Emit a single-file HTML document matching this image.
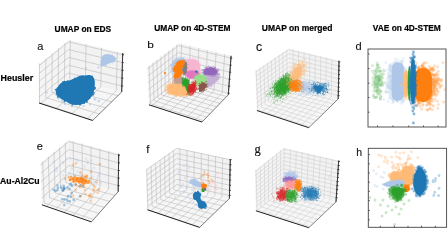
<!DOCTYPE html>
<html><head><meta charset="utf-8"><style>
html,body{margin:0;padding:0;background:#fff;}
svg{display:block;}
.t{font-family:"Liberation Sans",Arial,sans-serif;font-weight:bold;font-size:8.6px;fill:#000;stroke:#000;stroke-width:0.2px;}
.l{font-family:"Liberation Sans",Arial,sans-serif;font-size:11px;fill:#111;stroke:#111;stroke-width:0.12px;}
</style></head><body>
<svg width="448" height="252" viewBox="0 0 448 252">
<rect width="448" height="252" fill="#fff"/>
<polygon points="39,64 68.7,40 68.2,79 39,103" fill="#f4f4f4"/>
<polygon points="68.7,40 122.7,53 121.7,92 68.2,79" fill="#f2f2f2"/>
<polygon points="39,103 68.2,79 121.7,92 92.6,120.5" fill="#f6f6f6"/>
<g stroke="#b4b4b4" stroke-width="0.55"><line x1="39.4" y1="63.6" x2="39.4" y2="102.6"/><line x1="39.4" y1="102.6" x2="93" y2="120.1"/><line x1="45.8" y1="58.5" x2="45.7" y2="97.5"/><line x1="45.7" y1="97.5" x2="99.3" y2="114"/><line x1="52.2" y1="53.4" x2="51.9" y2="92.4"/><line x1="51.9" y1="92.4" x2="105.5" y2="107.9"/><line x1="58.5" y1="48.2" x2="58.2" y2="87.2"/><line x1="58.2" y1="87.2" x2="111.7" y2="101.8"/><line x1="64.9" y1="43.1" x2="64.4" y2="82.1"/><line x1="64.4" y1="82.1" x2="117.9" y2="95.7"/><line x1="70.3" y1="40.4" x2="69.8" y2="79.4"/><line x1="69.8" y1="79.4" x2="40.6" y2="103.5"/><line x1="86" y1="44.2" x2="85.3" y2="83.2"/><line x1="85.3" y1="83.2" x2="56.2" y2="108.6"/><line x1="101.6" y1="47.9" x2="100.8" y2="86.9"/><line x1="100.8" y1="86.9" x2="71.7" y2="113.7"/><line x1="117.3" y1="51.7" x2="116.3" y2="90.7"/><line x1="116.3" y1="90.7" x2="87.2" y2="118.8"/><line x1="39" y1="65.8" x2="68.7" y2="41.8"/><line x1="68.7" y1="41.8" x2="122.7" y2="54.8"/><line x1="39" y1="73.6" x2="68.6" y2="49.6"/><line x1="68.6" y1="49.6" x2="122.5" y2="62.6"/><line x1="39" y1="81.4" x2="68.5" y2="57.4"/><line x1="68.5" y1="57.4" x2="122.3" y2="70.4"/><line x1="39" y1="89.2" x2="68.4" y2="65.2"/><line x1="68.4" y1="65.2" x2="122.1" y2="78.2"/><line x1="39" y1="97" x2="68.3" y2="73"/><line x1="68.3" y1="73" x2="121.9" y2="86"/></g>
<polyline points="92.6,120.5 121.7,92 122.7,53" fill="none" stroke="#555" stroke-width="0.75"/>
<polyline points="121.7,92 122.7,53" fill="none" stroke="#333" stroke-width="0.9"/>
<polyline points="39,103 92.6,120.5" fill="none" stroke="#222" stroke-width="1"/>
<g stroke="#333" stroke-width="0.9"><line x1="122" y1="54.8" x2="124" y2="54.8"/><line x1="121.8" y1="62.6" x2="123.8" y2="62.6"/><line x1="121.6" y1="70.4" x2="123.6" y2="70.4"/><line x1="121.4" y1="78.2" x2="123.4" y2="78.2"/><line x1="121.2" y1="86" x2="123.2" y2="86"/></g>
<path d="M101 59.5C101.3 58.5 101.6 57.1 102.2 56.3C102.8 55.5 103.5 55.1 104.5 54.8C105.5 54.5 106.8 54.3 108 54.3C109.2 54.3 110.8 54.5 112 55C113.2 55.5 114.4 56.2 115 57C115.6 57.8 115.8 58.8 115.7 59.5C115.6 60.2 115.3 61 114.5 61.5C113.7 62 112.2 62.3 111 62.8C109.8 63.3 108.2 63.8 107 64.3C105.8 64.8 104.5 65.8 103.5 66C102.5 66.2 101.7 66.1 101.2 65.5C100.7 64.9 100.6 63.5 100.6 62.5C100.6 61.5 100.7 60.5 101 59.5Z" fill="#aec7e8"/>
<path d="M106.7 64.7h0M101 60.8h0M115.3 58.9h0M114.2 61.7h0M101.8 65.9h0M112.3 55h0M105.4 65.5h0M112.3 62.8h0M113.6 61.4h0M108.6 55h0M114.2 60.6h0M113.3 56.9h0M108.9 54.8h0" stroke="#aec7e8" stroke-width="1.6" stroke-linecap="round" stroke-opacity="0.6"/>
<path d="M100.7 66h0M101.5 62.8h0M114.9 58.3h0M105.2 64.8h0M102 59.1h0M103.8 56.1h0M114.7 60.2h0M107.5 54.5h0M105.7 55.1h0M116 58.6h0M105 55h0M101.7 64h0" stroke="#aec7e8" stroke-width="1.6" stroke-linecap="round" stroke-opacity="0.6"/>
<path d="M46.9 92.4h0M55.9 94.4h0M58.3 98.4h0M58.6 98.3h0M62 101h0M83.6 106h0M95.5 99.5h0M98.5 101.3h0M94.3 99h0M99 100.7h0M98.3 67.4h0M86 68h0M65 104h0M72 106.5h0M90 104.5h0" stroke="#aec7e8" stroke-width="2" stroke-linecap="round" stroke-opacity="0.8"/>
<path d="M56 90.6C56.4 89.3 57.7 87.3 58.5 86C59.3 84.7 59.9 83.7 61 82.9C62.1 82.1 63.6 81.6 65 81.2C66.4 80.8 67.6 81 69.3 80.5C71 80 73.4 78.9 75.2 78.1C77 77.3 78.4 76.1 80 75.7C81.6 75.3 83.2 75.6 84.8 75.5C86.4 75.4 88.1 74.9 89.5 75.1C90.9 75.3 92.2 76 93.1 76.9C94 77.8 94.4 79.2 94.7 80.5C95 81.8 94.9 83.4 94.8 85C94.7 86.6 94.5 88.5 94.2 90C93.9 91.5 93.3 92.8 92.8 94C92.3 95.2 92 95.9 91.2 97C90.4 98.1 89.1 99.5 88 100.5C86.9 101.5 86.1 102.3 84.8 103C83.5 103.7 81.6 104.2 80 104.5C78.4 104.8 76.9 105 75.2 104.9C73.5 104.8 71.4 104.3 70 103.8C68.6 103.3 68.2 102.6 66.9 101.9C65.6 101.2 63.5 100.4 62 99.5C60.5 98.6 59 97.5 58 96.5C57 95.5 56.5 94.5 56.2 93.5C55.9 92.5 55.6 91.8 56 90.6Z" fill="#1f77b4"/>
<path d="M57.3 91.6h0M94.9 87.6h0M59.3 89h0M72.3 104.5h0M88.2 77.4h0M83.9 100.8h0M93.6 94.1h0M73.3 102.7h0M67.9 81.1h0M71.2 102.7h0M59 87h0M64.5 101.6h0M64.3 81.6h0M93.4 86.1h0M92.9 94.9h0M92.1 76.4h0M57.5 90.2h0M79.9 104.5h0M80.7 103.9h0M57.7 96.9h0M95.3 88h0M55.6 89.6h0M57.6 88.2h0" stroke="#1f77b4" stroke-width="1.8" stroke-linecap="round" stroke-opacity="0.9"/>
<path d="M92.4 91.5h0M63 81.9h0M58.5 95.4h0M87 102h0M81.2 76.8h0M74.7 78.5h0M78.9 104.2h0M94.4 88.9h0M72.6 103.1h0M71.6 103h0M75.5 78.8h0M57 94.5h0M56.9 89.2h0M82.4 76.3h0M73.3 102.7h0M64.9 100.6h0M93.8 92.6h0M86.3 101.3h0M73.2 103h0M89.6 98h0M91.1 94.6h0M84.1 103.2h0M59.7 94h0" stroke="#1f77b4" stroke-width="1.8" stroke-linecap="round" stroke-opacity="0.9"/>
<polygon points="147.4,66.9 178.7,43.3 178.1,81.8 148.9,104.8" fill="#f4f4f4"/>
<polygon points="178.7,43.3 231.1,55.8 228.3,94.8 178.1,81.8" fill="#f2f2f2"/>
<polygon points="148.9,104.8 178.1,81.8 228.3,94.8 202,122" fill="#f6f6f6"/>
<g stroke="#b6b6b6" stroke-width="0.55"><line x1="149" y1="65.7" x2="150.4" y2="103.6"/><line x1="150.4" y1="103.6" x2="203.3" y2="120.6"/><line x1="152.9" y1="62.7" x2="154.1" y2="100.7"/><line x1="154.1" y1="100.7" x2="206.7" y2="117.2"/><line x1="156.9" y1="59.7" x2="157.8" y2="97.8"/><line x1="157.8" y1="97.8" x2="210" y2="113.7"/><line x1="160.9" y1="56.7" x2="161.5" y2="94.9"/><line x1="161.5" y1="94.9" x2="213.3" y2="110.3"/><line x1="164.9" y1="53.7" x2="165.2" y2="91.9"/><line x1="165.2" y1="91.9" x2="216.7" y2="106.8"/><line x1="168.8" y1="50.7" x2="168.9" y2="89"/><line x1="168.9" y1="89" x2="220" y2="103.4"/><line x1="172.8" y1="47.7" x2="172.6" y2="86.1"/><line x1="172.6" y1="86.1" x2="223.4" y2="99.9"/><line x1="176.8" y1="44.7" x2="176.3" y2="83.2"/><line x1="176.3" y1="83.2" x2="226.7" y2="96.5"/><line x1="181.5" y1="44" x2="180.7" y2="82.4"/><line x1="180.7" y1="82.4" x2="151.7" y2="105.7"/><line x1="190.1" y1="46" x2="189" y2="84.6"/><line x1="189" y1="84.6" x2="160.5" y2="108.5"/><line x1="198.8" y1="48.1" x2="197.3" y2="86.7"/><line x1="197.3" y1="86.7" x2="169.2" y2="111.4"/><line x1="207.4" y1="50.1" x2="205.6" y2="88.9"/><line x1="205.6" y1="88.9" x2="178" y2="114.2"/><line x1="216.1" y1="52.2" x2="213.9" y2="91.1"/><line x1="213.9" y1="91.1" x2="186.8" y2="117.1"/><line x1="224.7" y1="54.3" x2="222.2" y2="93.2"/><line x1="222.2" y1="93.2" x2="195.5" y2="119.9"/><line x1="147.5" y1="69.2" x2="178.7" y2="45.6"/><line x1="178.7" y1="45.6" x2="230.9" y2="58.1"/><line x1="147.8" y1="76" x2="178.5" y2="52.5"/><line x1="178.5" y1="52.5" x2="230.4" y2="65.2"/><line x1="148" y1="82.8" x2="178.4" y2="59.4"/><line x1="178.4" y1="59.4" x2="229.9" y2="72.2"/><line x1="148.3" y1="89.6" x2="178.3" y2="66.4"/><line x1="178.3" y1="66.4" x2="229.4" y2="79.2"/><line x1="148.6" y1="96.5" x2="178.2" y2="73.3"/><line x1="178.2" y1="73.3" x2="228.9" y2="86.2"/><line x1="148.8" y1="103.3" x2="178.1" y2="80.2"/><line x1="178.1" y1="80.2" x2="228.4" y2="93.2"/></g>
<polyline points="202,122 228.3,94.8 231.1,55.8" fill="none" stroke="#555" stroke-width="0.75"/>
<polyline points="228.3,94.8 231.1,55.8" fill="none" stroke="#333" stroke-width="0.9"/>
<polyline points="148.9,104.8 202,122" fill="none" stroke="#222" stroke-width="1"/>
<g stroke="#333" stroke-width="0.9"><line x1="230.2" y1="58.1" x2="232.2" y2="58.1"/><line x1="229.7" y1="65.2" x2="231.7" y2="65.2"/><line x1="229.2" y1="72.2" x2="231.2" y2="72.2"/><line x1="228.7" y1="79.2" x2="230.7" y2="79.2"/><line x1="228.2" y1="86.2" x2="230.2" y2="86.2"/><line x1="227.7" y1="93.2" x2="229.7" y2="93.2"/></g>
<path d="M171.9 65.9C172 64.5 172 62.8 172.6 61.7C173.2 60.5 174.4 59.7 175.6 59.1C176.8 58.5 178.4 58.3 179.8 58.3C181.2 58.2 183 58.3 184.1 58.7C185.1 59.1 185.7 59.5 185.9 60.8C186.2 62.1 186.1 65.1 185.8 66.8C185.5 68.5 185.1 69.9 184.1 71C183.1 72.1 181.4 72.8 179.8 73.2C178.3 73.6 176 73.7 174.7 73.2C173.4 72.7 172.6 71.4 172.2 70.2C171.7 68.9 171.8 67.3 171.9 65.9Z" fill="#aec7e8" fill-opacity="0.85"/>
<path d="M172.8 62.3h0M175.3 64h0M175.3 60.5h0M175.1 72.6h0M178.9 60.5h0M179.7 63.5h0M178.4 68.5h0M187.3 66.5h0M176.7 62.8h0M183.8 63.1h0M177 63.5h0M184.3 61.1h0M186.4 66.4h0M185.2 64.2h0M174.8 66.9h0M182.1 69.5h0M181.3 63.4h0M175.3 64.1h0M179.3 68.7h0M175.7 65.4h0M173.6 69.9h0M185.7 59.6h0M176.5 65.2h0M184.3 67.7h0M182.7 69.7h0M176 68.4h0M177.3 70.3h0M172 66.2h0M177.1 74.5h0M183.3 58.1h0M182.2 58.9h0M183 60.9h0M181.1 69.6h0M179.9 59.3h0M174.2 62.3h0M183.8 57.4h0M185 62.1h0M184.5 69.7h0M181.2 68h0M172.7 64.6h0M176.4 63.7h0M170.9 70h0M186.1 65.9h0M178.8 68.1h0M175.5 58.3h0M175.3 73h0M172 68.5h0M174.2 63.9h0M179.9 70.9h0M178.4 62.4h0M176.4 61.6h0M172.8 65.2h0M182 70.6h0M175.2 69.1h0M171.2 68.7h0M175.4 73.4h0M182.2 64.6h0M177.4 70.2h0M177.5 71.2h0M173.3 67.9h0M179.3 61h0M183.4 60.3h0M171.2 65.1h0M172.1 73.3h0M176 60.7h0M179.2 62.4h0M182.2 68.7h0M184.3 62.6h0M178.1 62.2h0M179.8 69.3h0M171.3 65.3h0M172.8 70.2h0M177.4 69.1h0M171.3 68.8h0M181.8 68.1h0M177.4 67.6h0M182.9 64.6h0M173.5 64.1h0M175.9 62h0M178.9 57.4h0M181.3 71.4h0M183.7 60.8h0M176 63.8h0M179.3 73.4h0M176.4 60.1h0M178.5 69.1h0M175.5 64.9h0M186.3 63.3h0M177.3 71h0M176.8 64.5h0M169.7 69.5h0M182.9 71.6h0M175.3 73.7h0M176.6 68.2h0M174.8 60.9h0M181.6 57.2h0M180.4 60.7h0M186.6 63.7h0M180.4 62.2h0M181.4 66.5h0M172.1 69.8h0M182.7 60.6h0M177.2 65.1h0M170.7 71.8h0M176.3 71.4h0M186 60.2h0M182.8 74h0M171.1 66.6h0M180.6 69.2h0M174.3 66.2h0" stroke="#aec7e8" stroke-width="1.2" stroke-linecap="round" stroke-opacity="0.5"/>
<path d="M171.9 63.2h0M179.1 73.3h0M177.1 73.6h0M175.7 73.2h0M172.3 62.1h0M186.4 62.3h0M173.6 61.4h0M183.8 62.5h0M176.9 62.6h0M180.9 62.8h0M171 70.5h0M184 58.9h0M178.8 68.9h0M187.2 59h0M171 69h0M179.4 64.2h0M182.4 60.5h0M176.1 73.1h0M173.9 60h0M176.6 59.9h0M178.4 73.8h0M182.1 60.6h0M186.1 58.5h0M178.3 70.9h0M176.4 60.1h0M171.5 65h0M188 60.4h0M174.4 67.9h0M171.9 68.8h0M178.3 63.9h0M183.9 64.3h0M186.4 62.5h0M180.4 60h0M179.5 65.8h0M175.5 67.9h0M176.5 69.4h0M183.2 59.7h0M182.7 60.3h0M184 61.5h0M175.3 62.8h0M172.6 68.9h0M184.4 64.2h0M175.8 61.7h0M170.8 70.1h0M175.9 70.8h0M176 67h0M182.4 72.7h0M181.4 63.4h0M175.5 62.2h0M187.7 68h0M173.3 66h0M178.3 57.7h0M172.7 63.8h0M184.8 67h0M173.8 62.7h0M172.3 65.2h0M186.6 63.1h0M179.8 57.4h0M178.6 66.8h0M176.7 61.3h0M178.9 60.1h0M181.5 66.4h0M177.8 62.4h0M187.7 62.6h0M181.9 59.4h0M176.5 73.2h0M177.3 63.8h0M178.5 67.3h0M173 61.7h0M173.7 63.2h0M182.1 70.2h0M176.4 58.7h0M174.6 70.5h0M177 62.1h0M175.3 61.1h0M184.2 57.4h0M174 65.5h0M184.7 70.4h0M171.8 70.4h0M177 69.6h0M177.1 73.6h0M180.6 70.4h0M185.9 65.2h0M174.2 70.5h0M178.8 73.4h0M186.1 65.4h0M185.9 66.3h0M183.5 64.1h0M187.2 66.1h0M181.9 61.5h0M187.7 61.4h0M182.8 62h0M178.8 67.8h0M187.6 61h0M182.6 58.1h0M184.5 72.4h0M177.1 60h0M171.2 71.9h0M170.6 65.1h0M175.3 67.9h0M171.6 67.4h0M178.2 70.1h0M184.8 69.5h0M180.7 69.4h0M174.5 73.3h0M185.5 62.8h0M177.2 60.4h0M170.5 64.4h0M175.2 60.3h0M174.3 68.9h0" stroke="#aec7e8" stroke-width="1.2" stroke-linecap="round" stroke-opacity="0.5"/>
<path d="M176.1 64.5h0M182.4 68.1h0M183.9 63.6h0M171.2 66.1h0M186.5 68.3h0M181.3 59.4h0M179.3 64.3h0M179.8 63.2h0M180 67h0M182.2 69.2h0M183.1 60h0M175.1 64h0M177.4 59.7h0M184.3 70.4h0M171 64.1h0M172.6 65h0M177.4 71h0M181.8 58.4h0M172.5 72.6h0M180.3 58h0M180.7 65.1h0M186.3 69.2h0M179.8 60.6h0M172.7 63.7h0M171.1 60.5h0M185.2 60h0M180.4 62.6h0M175.5 72.9h0M175 66.1h0M179 71.5h0M188.1 61.3h0M178.6 65.7h0M176.9 58h0M184.9 62.8h0M187 68.2h0M178.7 70.6h0M174.8 73.1h0M180.9 57.8h0M174.5 58.3h0M180.7 66h0M176 74.8h0M175.8 57.4h0M182.4 66h0M183.1 69.4h0M178.9 65.7h0M176.1 60.3h0M172.7 68.3h0M171.4 66.9h0M176.1 66.1h0M178.1 60.2h0M184.8 69.5h0M177.8 59.1h0M184.3 65h0M183.5 64.6h0M182.9 73.6h0M181.8 72.3h0M178.4 61.3h0M180.7 66.4h0M181.9 65.2h0M179.2 67h0M176 68.9h0M179 62.9h0M177 70.9h0M174.5 68.1h0M185 66.2h0M180.8 65.8h0M178.3 62.1h0M176.4 62.4h0M175.5 68.7h0M185.2 70.4h0M183.7 61.5h0M178.8 71.1h0M184.9 65.8h0M174.5 68.7h0M180.6 67.5h0M179.6 57h0M181.4 68.6h0M184.6 60.3h0M181.5 65.3h0M181.7 64.1h0M175 66.1h0M183.8 57.6h0M182.1 70.9h0M180.2 67.7h0M181.2 62.2h0M174.4 73.5h0M174 68.1h0M180.7 66.4h0M173.3 72.9h0M173.6 64.5h0M177.5 61.7h0M182.1 71.7h0M171.1 64.4h0M177.1 62.6h0M176.7 66.9h0M177.4 73.3h0M180.7 69.7h0M176.5 59h0M174.9 70.3h0M184.5 66h0M172.4 61.2h0M186.3 65.4h0M177.4 71.7h0M180.7 68h0M180.3 69h0M172.3 70.9h0M183.6 71.2h0M173.9 73.6h0M180.9 61.1h0M181.4 73.6h0" stroke="#aec7e8" stroke-width="1.2" stroke-linecap="round" stroke-opacity="0.5"/>
<path d="M186.5 60.8C187.1 58.2 189 59.7 190.4 59.5C191.8 59.3 193.6 59.4 194.9 59.8C196.3 60.1 197.7 60.8 198.5 61.7C199.3 62.7 199.4 64 199.7 65.3C200 66.7 200.3 68.3 200.3 69.8C200.4 71.3 200.5 73 199.9 74.3C199.3 75.7 198.3 77.2 196.7 77.9C195.2 78.7 192.2 79.3 190.4 78.8C188.7 78.4 187.1 78.2 186.5 75.2C185.8 72.2 185.8 63.5 186.5 60.8Z" fill="#f7b6d2"/>
<path d="M196.2 74.4h0M189.3 78.1h0M195.6 67.2h0M187.8 69.2h0M185.4 69.2h0M190.2 78.1h0M196.8 79.5h0M191.2 60.6h0M195.7 64.8h0M194.8 61.5h0M185.2 73.1h0M190 69.9h0M193.4 78.1h0M199.4 62.6h0M193.4 78.7h0M194.5 59.4h0M198.9 66.3h0M185.4 61.4h0M196.3 72.3h0M187.8 67.5h0M195.5 70.7h0M193.9 72.4h0M197.1 70.5h0M191.9 60.3h0M194.3 67.9h0M191.6 76.6h0M197.3 61.1h0M189.7 64.7h0M196.5 70.4h0M194.8 71.9h0M187.9 76.4h0M198.4 67.6h0M200.2 72.6h0M190.2 59.5h0M190.3 77.3h0M194.8 65.2h0M192.9 71.6h0M195.6 69.8h0M191.5 64.5h0M192.9 60.2h0M190.3 66.2h0M187.1 66.3h0M190.5 61.9h0M190 75.5h0M187.6 67h0M201.5 70.2h0M193.9 64.1h0M194.5 65.1h0M195.2 72.8h0M195.6 59.9h0M186.8 68.8h0M196.3 67.3h0M200.6 69.7h0M196.9 71.1h0M190.2 62.6h0M198.9 67.8h0M186.7 65.3h0M195.7 64.8h0M197.5 62.2h0M191.1 68.5h0M198.1 64.7h0M199.5 67.9h0M188.8 66h0M191.5 76h0M192.2 61.7h0M197.8 61.6h0M197.7 60.7h0M197.9 62.5h0M189.8 65.2h0M186.1 66h0M191.8 67.6h0M198.2 74.3h0M194.5 76.3h0M189.7 77.8h0M198.3 72.1h0M197.2 75.1h0M199.5 66.6h0M186.2 70.5h0M188.3 69.5h0M196.5 75.1h0M194.4 74.7h0M189.8 73.6h0M186.6 65.2h0M194.3 67.3h0M189.7 76.8h0M187 58.7h0M196.6 67.4h0M185.9 73.1h0M193.2 63.5h0M186.1 66.6h0M192 63.9h0M194.7 72.1h0M190.7 73.9h0M195.5 72.3h0M188 62.6h0M185.1 62.7h0M188.8 73.7h0M190.2 68.4h0M191.9 70.8h0M192.1 75.8h0M198.4 70.1h0M191.1 79.1h0M187.6 66h0M194.4 75.2h0M195.6 68.5h0M184.8 67.9h0M196.1 58.4h0M191.8 73.1h0M192.3 77.2h0M195.2 64.7h0" stroke="#f7b6d2" stroke-width="1.2" stroke-linecap="round" stroke-opacity="0.6"/>
<path d="M192.7 58.2h0M188.2 72.2h0M198.5 71.8h0M188.7 66.6h0M192.3 61.1h0M193.1 77.4h0M189.5 76.4h0M187 70.5h0M200.2 65.2h0M185.8 65.2h0M192.5 58.8h0M198.5 66.4h0M186.2 65.4h0M192.9 74.4h0M188.1 67.6h0M199.1 74h0M189.8 71.4h0M192.1 77.2h0M192 75.3h0M200.1 64.7h0M188 77.6h0M197.3 67.1h0M199.9 70.5h0M189.8 61.9h0M197.6 64.2h0M198.3 59.3h0M187.7 61.8h0M191.6 59.3h0M196.8 79.2h0M188.8 73.9h0M195.2 60.1h0M190.2 78.9h0M188.8 71.9h0M194.5 75.9h0M189.2 71.2h0M189.1 59.8h0M196.7 75h0M199.3 66h0M186.3 73.8h0M199.8 65.5h0M195.7 65.5h0M191.1 65.4h0M191 65.9h0M187.1 70.3h0M188.9 75.5h0M198 62.9h0M192.7 71.1h0M193.1 65.8h0M194.7 69.8h0M192.3 75.1h0M199.8 73.8h0M199.6 70.6h0M190.5 68.4h0M193.2 57.4h0M191 57.9h0M189.2 80.2h0M197.9 63.4h0M186.5 72.5h0M191 62.3h0M197.7 62.5h0M192.8 70.4h0M188 72.2h0M186.7 60.2h0M187.5 75.1h0M197.5 75.5h0M193.1 63.3h0M192.4 76.4h0M193.5 64.4h0M193.4 65.1h0M199.9 65.9h0M197.2 74.9h0M186.6 68h0M196 79.1h0M197.5 74.9h0M188.4 77.3h0M191.3 62.3h0M192.8 67.5h0M190.1 77.4h0M194.9 69.5h0M197.8 76.5h0M195 63.2h0M197.1 76.3h0M185.3 75.9h0M190.1 73.3h0M196.4 63.8h0M188.4 77.2h0M199.8 63.3h0M189.3 67.8h0M188.1 76.4h0M190.8 77h0M194.6 78.9h0M195.5 76.8h0M194 62.2h0M188 73.8h0M185.9 71.5h0M186.8 64.8h0M195.2 61.6h0M185.9 67.1h0M189.1 73.8h0M196.3 64.7h0M188.2 69.1h0M187 65.6h0M187.7 68.5h0M193.6 68.2h0M195 75h0M190.5 63.2h0M190.3 62.6h0M186 72.1h0M194.1 60.5h0M194 60.3h0" stroke="#f7b6d2" stroke-width="1.2" stroke-linecap="round" stroke-opacity="0.6"/>
<path d="M188.3 71.4h0M191.9 60.1h0M192.7 71.4h0M192.3 65.1h0M192.9 66.6h0M189.3 74.3h0M195.1 71.4h0M197 66.4h0M190 70.2h0M200.6 72.7h0M193.8 60.6h0M192.2 63.7h0M193.7 68.1h0M187.3 74.2h0M190.2 68.2h0M190.2 64.8h0M187 71.5h0M194 77.1h0M195.7 77.8h0M192.9 78.9h0M192.9 65h0M186.9 70.3h0M190.2 70.6h0M190.5 69.6h0M196.6 63.9h0M190.1 58.7h0M191.9 65h0M200.3 65.6h0M188.6 75.4h0M189.7 73.7h0M193.2 61.6h0M195.8 60.8h0M196.9 69.3h0M189.4 72h0M197 75.1h0M186.7 66.2h0M197.4 67.7h0M188.8 65.9h0M186.8 65.6h0M190 63.2h0M192 75.2h0M195.4 61.7h0M190 75.4h0M186.5 63.1h0M188.6 65.5h0M189.2 60.7h0M198.6 72h0M190.2 64.4h0M189.7 67.3h0M189.2 59.8h0M197.6 74h0M189.8 60.2h0M199.5 68.1h0M193.4 72.2h0M192.8 63.2h0M197.8 75h0M187.6 69.8h0M194.7 78.7h0M188.2 59.6h0M188.4 76h0M199.4 75.3h0M193.3 61h0M195.7 65.9h0M196.7 77.6h0M193 62h0M188.3 73.2h0M190.7 70.6h0M191.9 66.4h0M196.5 71.6h0M185.9 69.2h0M189.9 68.7h0M189.8 61.2h0M187.8 71.2h0M195.4 67.2h0M193 77.7h0M188.7 75.7h0M196.5 77.9h0M191.7 68.5h0M197.7 66.7h0M187.9 67.3h0M200.6 73.1h0M195.9 75.7h0M193.3 71.3h0M197.2 61.4h0M200 76.1h0M186.3 76.2h0M193.2 70.2h0M191.7 77.7h0M195 75.1h0M191.4 68.8h0M191.5 64.1h0M193.4 61.8h0M199.2 75.9h0M188.8 64.4h0M198.7 76.3h0M194.7 59.2h0M196.8 71.6h0M187.3 63.2h0M199.2 67.8h0M189.9 75.5h0M196.7 77.9h0M197.7 71h0M198 66.9h0M188.4 67.5h0M196.3 70.6h0M193.5 71.2h0M186.6 70.8h0M188.6 67.5h0M193.1 65.4h0M186.8 67h0" stroke="#f7b6d2" stroke-width="1.2" stroke-linecap="round" stroke-opacity="0.6"/>
<path d="M182.4 62.9C182.8 61.8 184.2 62 185 62.2C185.7 62.3 186.5 62.5 186.8 63.7C187.1 65 186.9 68 186.8 69.7C186.7 71.3 186.8 72.9 186.2 73.6C185.6 74.2 183.9 74.4 183.3 73.6C182.6 72.8 182.5 70.6 182.4 68.8C182.3 67 182 64 182.4 62.9Z" fill="#7f7f7f"/>
<path d="M184.6 74.4h0M184.7 68.7h0M183.6 61.9h0M184.8 68h0M183.1 70.3h0M184 72.1h0M184.8 68.1h0M182.2 66h0M186.2 72.8h0M183.1 61.4h0M185.8 62.5h0M182.9 74.2h0M186.4 72.5h0M184.2 67.3h0M183.4 68.7h0M185 64.8h0M183.2 64.8h0M184.6 65.6h0M185.4 73h0M187.7 67.3h0M182.7 66h0M185.4 63.5h0M186.3 67.4h0M185.2 72.5h0M184.4 63.9h0M184.3 68.2h0M183.5 73.9h0M183.3 67.5h0M183.7 62h0M183.5 64.6h0" stroke="#7f7f7f" stroke-width="1.2" stroke-linecap="round" stroke-opacity="0.6"/>
<path d="M183.8 67.5h0M182 63.4h0M184.6 72h0M186.5 67.4h0M184.2 72.6h0M182.3 70.7h0M183 65.8h0M181.4 68.7h0M184.2 74.3h0M186.6 62.1h0M182.7 70.2h0M181.8 70h0M184.3 60.4h0M185.1 62.2h0M186.1 63.5h0M186.6 69.2h0M183.6 69.7h0M183.5 75.9h0M182 64.7h0M181.2 66.1h0M187.5 73.8h0M186.3 65.3h0M186.9 68.3h0M184.8 74h0M186 72.3h0M185.1 73.7h0M184.3 69.4h0M184.6 73.8h0M185.7 63.2h0M183 69.4h0" stroke="#7f7f7f" stroke-width="1.2" stroke-linecap="round" stroke-opacity="0.6"/>
<path d="M184.1 72.8h0M183.8 64.6h0M186 65.4h0M188 64.5h0M184.8 69.4h0M182.6 64.9h0M183.2 64.8h0M184.6 74h0M186 64.4h0M185 62.1h0M183.9 67.9h0M185.4 74.9h0M185.3 71.7h0M185.5 73.9h0M185 69.2h0M181.6 68.8h0M184 70.1h0M183.5 65.3h0M183.8 74h0M185.5 64.9h0M184.8 62.6h0M186.1 62.7h0M186.5 72.9h0M183 63.1h0M181.1 69.7h0M186.2 70.9h0M183.4 72.5h0M186.2 71.6h0M184.9 62.2h0M186.6 69.4h0" stroke="#7f7f7f" stroke-width="1.2" stroke-linecap="round" stroke-opacity="0.6"/>
<path d="M174.1 78.8C174.5 78 175.3 77.3 176.4 76.9C177.5 76.6 179.5 76.5 180.7 76.7C181.9 76.8 183.2 77.1 183.7 77.9C184.2 78.8 184.1 80.6 183.7 81.8C183.4 82.9 182.7 84.1 181.5 84.6C180.3 85 177.7 85 176.4 84.6C175.2 84.1 174.5 82.7 174.1 81.8C173.8 80.8 173.8 79.6 174.1 78.8Z" fill="#c49c94"/>
<path d="M184.7 80.7h0M177 79.4h0M184.4 82.4h0M183.3 81.8h0M176.6 77.3h0M172.7 81.9h0M179.1 79.4h0M176.3 78.7h0M176 80.2h0M176.8 83.8h0M174.3 80.8h0M180.2 86.3h0M175.1 83.7h0M178.5 76.5h0M177.9 77.1h0M177.3 77.6h0M179.1 77.4h0M182.1 83.7h0M173.6 80.4h0M179.6 79.4h0M174.5 82.5h0M180.1 80.8h0M183.9 78.5h0M183.1 77.9h0M181.3 83.7h0M182.3 82h0M175.7 78h0M184.3 82.1h0M175.2 84.4h0M182 80.3h0M180.8 84.5h0M176.8 77.4h0M185.4 78.9h0M181.5 82.3h0M181.5 77.8h0M177.6 79.8h0M175.6 87.4h0M177 78.1h0M175.8 79.8h0M175.1 76.9h0M173.9 80.3h0M176.7 82.5h0M182.7 84.6h0M176.7 84.3h0M183.8 81.1h0M176.5 81.9h0M182 78.1h0M177.3 84.4h0M182.8 80.9h0M176.5 83.2h0" stroke="#c49c94" stroke-width="1.2" stroke-linecap="round" stroke-opacity="0.6"/>
<path d="M182.5 77.6h0M180.9 79.2h0M183 78h0M181.2 77.4h0M173.9 78.6h0M178.4 84.2h0M178.4 83.1h0M179.1 79.1h0M180.1 78.5h0M181.7 84.1h0M178.5 81.8h0M174.7 81.2h0M177.8 83.9h0M178.1 79.5h0M183.2 81.4h0M181.7 84.4h0M182.4 80.2h0M181.9 81.8h0M179.6 81.6h0M181.1 82.4h0M176.6 78.9h0M178.6 85.1h0M178.5 83.9h0M180.1 80.8h0M173.8 80.2h0M175.8 78.6h0M180.5 83h0M183.1 81.8h0M174.7 80.9h0M177.1 85.9h0M179.9 82.4h0M179 80h0M182.3 77.6h0M178.2 81.5h0M181.4 76h0M177 83.9h0M179.6 80.1h0M182.5 80h0M181.8 82.7h0M178.1 83h0M176.4 82.8h0M174.7 82.4h0M183 80.5h0M179.1 82.9h0M178.4 79.3h0M176 81.6h0M181.3 82.8h0M182.4 83.3h0M180.4 80.2h0M176.8 85.4h0" stroke="#c49c94" stroke-width="1.2" stroke-linecap="round" stroke-opacity="0.6"/>
<path d="M182 84.1h0M182.2 77.6h0M183.8 80.9h0M177.7 81.2h0M173.6 80.2h0M173.6 82.3h0M183.2 81.4h0M178.5 78.9h0M175.7 82.4h0M182.3 78.9h0M175 80.9h0M182.9 77.3h0M174.9 78.2h0M182.2 79.7h0M174.7 83.3h0M179.7 85h0M181.8 83.4h0M182.1 83.5h0M182.7 81.7h0M176.5 78.3h0M176.3 76.6h0M181.2 84.7h0M177.6 81.9h0M177.5 80.2h0M177.3 76.8h0M183.9 83.5h0M173.3 82h0M178.8 81.5h0M183.6 82.4h0M177.9 77h0M178.1 83.7h0M181.4 77.4h0M175.9 79.2h0M178.2 79.4h0M180.8 83.2h0M184.7 79.5h0M174.7 78.6h0M173.1 82.9h0M177.3 78.4h0M180.2 81h0M173.5 83.5h0M179.7 84.8h0M182.4 84.4h0M179.3 83.9h0M181 76.2h0M184.7 79h0M174.1 77.2h0M175.7 82.5h0M175 77.9h0M182.5 85.2h0" stroke="#c49c94" stroke-width="1.2" stroke-linecap="round" stroke-opacity="0.6"/>
<path d="M176.5 62.5C176.9 61.8 177.3 61.4 178 61.1C178.8 60.8 179.9 60.8 180.8 60.8C181.8 60.7 183.1 60.4 183.6 60.8C184.2 61.2 184.3 62.5 184.2 63.4C184.1 64.3 183.6 65.4 183.2 66.2C182.7 67 181.5 67.4 181.3 68C181.1 68.7 182 69.6 182.2 70.4C182.5 71.1 182.9 71.8 182.7 72.7C182.5 73.6 181.6 74.6 180.8 75.5C180.1 76.3 179.1 77.4 178 77.8C177 78.2 175.5 78.3 174.8 78C174 77.7 173.6 76.8 173.6 76C173.6 75.1 174.8 74.2 174.8 73.2C174.8 72.2 173.7 71 173.6 69.9C173.4 68.8 173.5 67.5 173.9 66.7C174.2 65.8 175.3 65.5 175.7 64.8C176.2 64.1 176.1 63.1 176.5 62.5Z" fill="#ff7f0e"/>
<path d="M175.3 75.3h0M175.3 71.8h0M180.1 68.2h0M177.1 63.4h0M173.2 70.2h0M178.4 67.1h0M174 71.6h0M177.4 74.9h0M180 76.3h0M176.4 77h0M178 68.4h0M176.4 75.6h0M179.3 61.4h0M177 73.3h0M180.5 61.8h0M177.9 74.9h0M179.3 75.4h0M181.1 65.7h0M185.1 60.4h0M175.7 67.1h0M180.6 64.9h0M175.9 77.9h0M180.4 72.2h0M180.7 62h0M179.7 67.7h0M180.9 73.4h0M175.2 74.2h0M176.2 76.9h0M177.1 66.1h0M176.7 73.6h0M177.4 66.4h0M175.8 68.6h0M179.3 76.5h0M181.2 68.6h0M175 65.2h0M177.5 76h0M179.8 71.6h0M180.7 63.3h0M178.1 67.5h0M179.9 60.9h0M183.2 60.1h0M183.5 62.3h0M175.5 65.3h0M183.5 67.4h0M175.7 66.9h0M175.1 78.8h0M182.4 67.4h0M181 72.7h0M176.1 66h0M177.5 73h0" stroke="#ff7f0e" stroke-width="1.2" stroke-linecap="round" stroke-opacity="0.7"/>
<path d="M181.7 67.9h0M181.4 73.7h0M174 76.4h0M178.4 66.7h0M179.7 66.4h0M181.3 68.8h0M176.7 67.4h0M175.2 67.7h0M178.6 64.6h0M174.7 74.1h0M174.5 75.6h0M184.2 65.7h0M173.4 68.7h0M177.2 66h0M181.1 75.3h0M175 66.4h0M177.4 65.3h0M179.5 67.8h0M178.9 73.7h0M181.2 63.7h0M182.2 71.6h0M174 69.9h0M176.6 70.3h0M173.4 74.4h0M175.7 78.4h0M175.3 76.3h0M179.3 67.7h0M182.8 60.2h0M182.7 63.1h0M173.4 77.2h0M182.1 60.6h0M175.1 63.5h0M176.1 68.6h0M181.9 71.5h0M175.1 75.4h0M181.3 71.7h0M184.7 61.1h0M182.2 73h0M180.4 64.7h0M173.6 68.6h0M181.2 68.4h0M176.7 76.3h0M180.1 61.6h0M179.5 70.2h0M180.5 72h0M181.9 65.1h0M174.2 71.3h0M182 66.4h0M179.2 67.3h0M178.3 72.4h0" stroke="#ff7f0e" stroke-width="1.2" stroke-linecap="round" stroke-opacity="0.7"/>
<path d="M177.2 75.3h0M182.2 66.8h0M180.6 69.4h0M182.9 72.8h0M175.9 66h0M178.4 67.5h0M181.8 67.5h0M177.4 67.7h0M182.1 63.9h0M182.4 66h0M174 69.4h0M177 73.3h0M176.8 75.4h0M183.3 62.2h0M182.8 72.9h0M177.5 64.8h0M178.2 63.3h0M182.9 63.4h0M182.2 71.7h0M182.6 60.1h0M179 70h0M173.6 70.9h0M177.7 65.1h0M180.8 67.8h0M180.1 64.6h0M181.5 69.6h0M178.5 69.5h0M179.3 69.4h0M180.7 76.2h0M181.5 64.2h0M177.4 70.1h0M180.1 65.8h0M178.3 64.8h0M176.8 66.1h0M176.4 65.5h0M172.4 68.3h0M181.9 61.7h0M184.6 63.7h0M180.5 60.7h0M177.4 69.4h0M176.4 63.3h0M184.5 62.8h0M178.4 73.8h0M174.5 67.3h0M181.1 60h0M180.2 66.5h0M179.7 60.7h0M178.1 68.8h0M181 71.7h0M179.4 66.8h0" stroke="#ff7f0e" stroke-width="1.2" stroke-linecap="round" stroke-opacity="0.7"/>
<path d="M186.4 72.7C186.9 71.8 188.2 71.3 189.4 71C190.7 70.6 192.5 70.5 193.8 70.5C195.1 70.6 196.6 70.8 197.3 71.4C198.1 72 198.5 73.1 198.5 74.1C198.5 75 198.1 76.4 197.3 77.1C196.6 77.8 195.1 78 193.8 78.2C192.5 78.4 190.6 78.4 189.4 78.2C188.3 77.9 187.3 77.6 186.8 76.7C186.3 75.8 186 73.7 186.4 72.7Z" fill="#e377c2"/>
<path d="M187.8 71.5h0M191.5 75.2h0M191.7 71.8h0M193.3 75.6h0M195.2 77.5h0M194.4 71.2h0M197.4 73.7h0M192.4 71.7h0M197.2 74.7h0M198.3 73.7h0M187.7 71.4h0M192.1 71.1h0M186.9 74h0M195.8 78.7h0M191.9 72.1h0M189.3 76.2h0M193.7 75.4h0M190.1 72.7h0M193.6 78.5h0M196.6 76.4h0M186 76.3h0M195.7 77.5h0M196.2 72.1h0M193.5 74.9h0M191.2 74.8h0M197.3 75.6h0M189 71.9h0M192.7 75.3h0M187.9 72h0M193.1 74.9h0M189.5 73.2h0M188.1 73.2h0M189 73.5h0M186 76.5h0M187.7 76.7h0M197.1 77.7h0M192.9 75.7h0M192 74.3h0M198.9 74h0M186.3 73.7h0M197.5 75.6h0M187.1 75.1h0M189.5 76.6h0M188.7 76.6h0M199.3 73.3h0M189.5 74.1h0M195.1 73.5h0M190.5 77.1h0M192.6 74.7h0M196.3 73.7h0" stroke="#e377c2" stroke-width="1.2" stroke-linecap="round" stroke-opacity="0.6"/>
<path d="M191.8 73h0M187.7 76.6h0M187.6 74.8h0M193.2 75.5h0M189.7 72.5h0M195.9 72.6h0M185.7 78.3h0M197.8 73.9h0M194.1 75h0M198.2 74.3h0M187.5 75h0M195.5 72.1h0M196.8 73.4h0M191.9 76.2h0M198.1 72.6h0M195.9 73.8h0M187.2 72.9h0M195.3 72h0M194.3 75.2h0M189.8 75.9h0M188.1 71.7h0M190.3 74.4h0M185.5 73.8h0M196.9 72.6h0M188.5 74.8h0M192 70.5h0M190.7 73.5h0M193 77.9h0M190 78.6h0M185.6 75.6h0M194 76.1h0M195.4 77h0M189.5 73.4h0M196 77.1h0M197.1 75.3h0M189.7 77.2h0M186.9 74.5h0M193.5 78h0M193.5 74.1h0M196.1 75.5h0M197.8 75.2h0M191.5 73.8h0M198.4 78h0M189.3 71.7h0M193.1 72.8h0M196.8 72.7h0M197.1 75.4h0M193.5 72.8h0M196.2 71h0M198.9 76.2h0" stroke="#e377c2" stroke-width="1.2" stroke-linecap="round" stroke-opacity="0.6"/>
<path d="M197.2 70.7h0M193.2 76.9h0M195.5 70.7h0M189.3 71.7h0M192.3 75.7h0M188.9 76.1h0M192.6 72.5h0M188.1 76.5h0M190.2 73.3h0M196.6 73.7h0M197.9 75.4h0M192 76.8h0M199.3 74h0M188.2 75.5h0M194.5 71.2h0M193.7 74.6h0M189.2 70.8h0M190.9 70.2h0M189.2 76.5h0M196.9 74.3h0M195.1 72.8h0M196.8 72.3h0M194.6 74h0M192.9 71.3h0M200.3 74.7h0M188.1 75.3h0M190.5 77.6h0M197.8 74.5h0M194.3 77.8h0M191.8 74.5h0M191.9 78.6h0M190.1 71.6h0M193.4 77.7h0M191.1 77.7h0M198 74.7h0M191.9 76.9h0M189.2 78h0M193.8 75.2h0M197.9 71.7h0M197.3 72.8h0M198 74.7h0M198.6 74h0M192.9 80.2h0M188.4 74.8h0M194.6 73.5h0M190.5 77.9h0M188.7 73.4h0M188 72.3h0M195.6 73.7h0M197.8 73.5h0" stroke="#e377c2" stroke-width="1.2" stroke-linecap="round" stroke-opacity="0.6"/>
<path d="M204.6 75.2C205 73.8 206.3 73.9 207.7 73.5C209 73.2 211.2 73.2 212.8 73.3C214.3 73.3 216 73.4 217 73.9C218 74.4 218.6 75.4 218.7 76.4C218.9 77.4 218.7 78.7 217.9 79.8C217 81 214.9 82.2 213.6 83.2C212.3 84.3 211.1 85.8 209.9 86.2C208.7 86.6 207.1 86.6 206.4 85.8C205.6 85 205.7 83.3 205.4 81.5C205.2 79.8 204.2 76.5 204.6 75.2Z" fill="#c5b0d5"/>
<path d="M208.7 86.2h0M208.4 80.6h0M212.3 84.5h0M213 73.7h0M209.4 75.2h0M205.5 86.9h0M207.8 77h0M213.3 73h0M212.6 84h0M213.3 72.1h0M208.7 87.2h0M205.3 80.5h0M211.1 86.3h0M212.2 74h0M210 78.8h0M207.5 83h0M208.1 77.4h0M213 76.9h0M205.9 79.2h0M214.6 83.6h0M208.1 73.8h0M217.4 79.8h0M210.4 84.4h0M206 74h0M216.4 77.1h0M204.3 77.8h0M214 81.7h0M215.1 75.4h0M208.7 85h0M209 78.3h0M207.8 80.1h0M217 77.7h0M213 77.3h0M210.2 85.5h0M206.3 80.3h0M218.6 81.3h0M218.6 74.6h0M208.3 82.6h0M204.8 78.9h0M218.7 78.2h0M210.8 83.2h0M210.8 80.2h0M211.4 81.9h0M218.4 73.5h0M204.9 79.7h0M207.1 78.4h0M215.5 77.1h0M213.3 76.1h0M206.2 76.2h0M207.9 77.7h0M217.9 76.1h0M206.4 80.3h0M206.2 80h0M209.7 81.3h0M210.3 77.2h0M211 81h0M219.6 77.5h0M209.3 75.8h0M206.1 75.3h0M216.3 81.3h0M208 86.1h0M212.2 74.9h0M216.2 80.2h0M213.6 83.9h0M214.6 78h0M214 75.9h0M206.8 74.1h0M214.8 78h0M216.4 79.2h0M218.4 79.4h0M204 75.7h0M217.3 80.4h0M205.1 78.8h0M208.5 82.5h0M203.4 78.3h0M213.7 81.8h0M213.6 76.5h0M207.1 76.2h0M214.6 82.7h0M217.5 74.9h0M211.9 74.9h0M213.1 83.4h0M214.4 73.5h0M211.7 73.2h0M211.1 81h0M213.6 81.9h0M216.2 80.9h0M218.6 74h0M207.5 82.8h0M206.1 82h0M213.3 78.3h0M212.7 81.3h0M217.1 81.2h0M207.9 78.3h0M215 82.8h0M212.5 80.2h0M210.8 72.1h0M219.5 77.6h0M207.1 73.7h0M216 74.7h0M212.1 75.4h0M206.5 80.7h0M213.8 73.7h0M211.6 78.2h0M209.2 81.6h0M219 75.9h0M207.7 79h0M212.7 83h0M212.8 78.5h0M207.8 81.3h0" stroke="#c5b0d5" stroke-width="1.2" stroke-linecap="round" stroke-opacity="0.55"/>
<path d="M214.7 74.2h0M214.4 71.7h0M204.4 74.9h0M212.2 81.8h0M219.7 74.6h0M206 79.2h0M204.1 82.4h0M206.1 84.3h0M207.1 77.9h0M210.2 86.6h0M215.7 75.9h0M209.4 86.7h0M203.2 74.9h0M208.6 78.3h0M217.5 73.8h0M207.7 85.7h0M209.9 76.3h0M216.6 80.2h0M214.3 77h0M214.2 83.3h0M213 75.4h0M206.3 85.2h0M220 77.8h0M208 86.5h0M214.2 81.5h0M205.9 86.5h0M212.8 82.4h0M214.6 82.5h0M206.4 78.3h0M213.3 73.1h0M218.7 79h0M211 86.8h0M207.9 87h0M212 73.7h0M219.2 75.8h0M205.4 78.3h0M212.3 79.6h0M209.6 77.2h0M206.6 73.8h0M215.8 77.9h0M206.4 81.3h0M207.8 78.2h0M211.3 84.7h0M216.2 75.8h0M214.6 82.7h0M207.3 78.4h0M211 74.6h0M216.1 79.8h0M211.7 76.3h0M207 72.9h0M206.1 79.3h0M211.4 73.5h0M210.1 83.7h0M214 79.8h0M204.2 83.7h0M206.5 77.3h0M211.2 77.3h0M206.9 84.3h0M217.4 80.2h0M205.9 75.2h0M209.1 83h0M219 79.3h0M207.6 81.7h0M210.1 82.7h0M207.6 75h0M207 87.2h0M215.2 78h0M208.5 74.5h0M217.4 74.8h0M208.2 73.8h0M203.6 84.2h0M207.3 84.1h0M214.1 84.3h0M204.2 77.6h0M216.6 75.3h0M206.3 77.7h0M207.5 84.9h0M210.4 81.6h0M205.6 85.1h0M211.6 85.1h0M213.2 76.1h0M209.4 80.2h0M212.4 73.9h0M210.7 81.9h0M204 80.2h0M217.4 75.8h0M210.5 85.9h0M219 79.1h0M215.1 75h0M213.6 81.7h0M212.2 85.9h0M206.2 80.2h0M210.4 83.9h0M206.6 80.3h0M217.6 78.6h0M209.9 76.9h0M218.1 73.9h0M215 78.3h0M212 73.4h0M210 77h0M217.4 79h0M208.2 83.6h0M205.6 80.1h0M210.9 81.7h0M207 77.5h0M211 81h0M211.5 79.9h0M218 75.1h0M211.9 73.4h0M213.2 78.5h0" stroke="#c5b0d5" stroke-width="1.2" stroke-linecap="round" stroke-opacity="0.55"/>
<path d="M217.1 72.4h0M212.2 80h0M215.5 77.2h0M208 71.9h0M213.3 78.8h0M208.4 78.6h0M212 77.6h0M210.9 78.6h0M213.2 82.2h0M211.9 74.2h0M206.4 72.3h0M205.2 78.3h0M205.6 79h0M210.9 82.1h0M210.6 85.4h0M218.1 77.6h0M210.6 73.2h0M205.6 84.2h0M213.5 81h0M217.6 81h0M208.6 73h0M218.3 75.9h0M211.4 75.3h0M217.2 73.5h0M209.9 84.9h0M219.3 78.1h0M211.1 76.7h0M214.8 82.3h0M209.9 84.5h0M219.5 73.6h0M205 81.3h0M218.4 77h0M207.3 84.2h0M214.3 76.1h0M209.4 84.1h0M212.1 78h0M213.6 80.3h0M213.7 73.3h0M218.9 76.3h0M205.6 82h0M214.7 81h0M216.8 75.4h0M219.2 77.8h0M209.9 85.4h0M211.1 74.6h0M216.7 74.6h0M213.5 74.4h0M205.8 86h0M215.5 74.8h0M211.3 73h0M209.6 75.6h0M209.2 79.5h0M206.1 75.3h0M207 78.8h0M206.5 73.1h0M208.1 84.5h0M209.9 85.2h0M212.8 74h0M211.8 82.7h0M217 78.5h0M205 76.5h0M209.4 78.2h0M209 84h0M210.5 76.9h0M209.5 73.1h0M215.2 82.5h0M218.3 78.3h0M208.3 76.1h0M214 77.9h0M212.9 73.5h0M212 74.6h0M203.8 74.8h0M206.9 75.6h0M218.6 74h0M208.2 72.5h0M213.9 79.9h0M211.1 77.5h0M209.1 77.3h0M215.3 77.1h0M213.9 76.9h0M205.4 72.5h0M209.2 73h0M210.8 81.6h0M220 76.9h0M217 77.8h0M211.6 75.6h0M219.2 73h0M211.5 86.4h0M216.3 75h0M211.5 81.8h0M209 84h0M213.9 73.5h0M205.5 82.5h0M209.7 76.2h0M213.2 83h0M214.7 77.4h0M210.4 85.5h0M212.6 74.3h0M206.9 74.8h0M212.4 84.8h0M213.9 81h0M218.8 74.7h0M208.6 81.3h0M208.2 87.1h0M208.2 82.3h0M213.2 83h0M207.7 74.2h0M208 76.5h0M211.5 81.3h0M204.3 73.3h0" stroke="#c5b0d5" stroke-width="1.2" stroke-linecap="round" stroke-opacity="0.55"/>
<path d="M203.6 71.1C203.8 70.1 204.8 69.1 205.8 68.5C206.8 67.9 208.3 67.7 209.6 67.6C210.9 67.5 212.3 67.5 213.4 67.9C214.6 68.4 216.2 69.3 216.7 70.2C217.2 71.2 216.9 72.8 216.4 73.6C215.9 74.4 214.8 74.7 213.4 75C212.1 75.2 209.8 75.1 208.3 75C206.8 74.8 205.3 74.7 204.5 74C203.7 73.4 203.4 72 203.6 71.1Z" fill="#9467bd"/>
<path d="M212.7 73.4h0M214.8 67.2h0M209.5 74.9h0M210.2 69.1h0M203.6 73.9h0M206.6 72.5h0M206.5 73.8h0M205.3 69.3h0M203.3 70.4h0M207.3 71.1h0M207.1 71.7h0M211.3 73.3h0M205.9 73.5h0M211.5 74.4h0M202.4 69.8h0M208.1 74.7h0M213.4 69.6h0M202.8 70.4h0M210.8 72.7h0M219 74h0M213.4 72.9h0M214.7 72.1h0M211.8 72.5h0M217.1 69.8h0M209.9 71.1h0M207.8 69.2h0M215.1 71.3h0M211.8 72.5h0M206.4 68.9h0M205.8 74h0M211.9 73.5h0M210.6 71.2h0M215.5 72.1h0M212.4 76.3h0M209.5 69.4h0M211.2 72.5h0M204.7 70h0M206.8 72.2h0M210.1 71h0M204 73.2h0M203 70h0M209.4 70.4h0M213.6 75.2h0M215.5 68.5h0M208.9 70.5h0M211.5 72.3h0M214 68.5h0M215.1 74.2h0M210.5 72.1h0M215.4 72.9h0M215.5 75.4h0M206.1 70.5h0M211.4 70.8h0M214 71.8h0M203.4 71.4h0M215.4 67.4h0M217.8 70.9h0M208.8 73.3h0M214.5 74.6h0M211.5 70.5h0M208.9 73.6h0M205.1 71.9h0M206.7 70.4h0M210.5 71.4h0M204.1 69.5h0M212 74.6h0M204.5 73.8h0M207.7 70.4h0M216.6 72h0M210.9 69.8h0M215.7 71.1h0M205.6 73.2h0M208.2 73.4h0M202.9 72.7h0M204.7 72.7h0M211.2 67.3h0M204.8 75h0M210.3 74.5h0M208.3 70.1h0M207.4 69.7h0M208.9 71.1h0M213.7 72.8h0M211.2 70.6h0M213.7 74.7h0M212 72.4h0M205.3 69.6h0M208.4 72.4h0M204.8 70.8h0M216.4 74.2h0M210.2 72.8h0M210.4 67.1h0M214.9 68.5h0M207.5 68.9h0M205.6 73.4h0M204 73.4h0M208.9 73.5h0M212.7 72.8h0M206.9 69.2h0M210.5 70.2h0M210.9 73.5h0" stroke="#9467bd" stroke-width="1.2" stroke-linecap="round" stroke-opacity="0.55"/>
<path d="M213.1 69.1h0M215.4 72.6h0M211.6 73.5h0M213.2 73.7h0M207.3 71h0M208.4 72.8h0M217.1 72h0M206.8 73.4h0M212.6 76.1h0M214.4 67.4h0M217 73.6h0M206.9 70.4h0M211.2 69.8h0M209.5 67.4h0M216.9 68.9h0M210.1 74.9h0M211.1 76.1h0M203.3 72.6h0M207.7 70.5h0M216.1 69.9h0M217.4 71.7h0M207.9 70.1h0M203.2 73.7h0M204.7 71.4h0M213.6 70.7h0M211.2 73.4h0M212.9 69.9h0M211.4 70h0M205.1 74.2h0M213.4 73h0M205.9 74.4h0M213.3 68.9h0M207.9 69.9h0M213.1 70.7h0M212 68.5h0M207.1 71.3h0M212.4 74.9h0M212.6 73.8h0M212.9 68.3h0M201.6 73.5h0M211.2 67.4h0M214.1 69.3h0M206.8 71.7h0M211.3 73.5h0M204.3 74.1h0M207 71.9h0M210.1 72.5h0M211 70.9h0M214.7 69.3h0M213.2 68.3h0M212.9 68.2h0M216.7 70.2h0M217.2 72.4h0M213.1 69.3h0M206.2 68.4h0M206.4 72.2h0M211.6 72.7h0M208.9 69.5h0M213.9 73.2h0M207.5 70.5h0M210.3 71.9h0M208.4 71.4h0M205.1 67.1h0M207.4 68.2h0M211.1 71.9h0M207.9 74.2h0M208.4 71.3h0M216.7 71.8h0M207.4 74.5h0M213.4 73.3h0M218.1 74.1h0M205.9 72.1h0M210.1 69.3h0M212.5 69.3h0M210.2 68.9h0M208.1 74.4h0M217.9 70.2h0M204.7 71.7h0M211 69.7h0M216.4 73.5h0M213.4 73.2h0M206.9 71.1h0M208 74.3h0M209.2 72.6h0M209.2 70.4h0M208.2 69.5h0M209.6 71.1h0M207 72.1h0M214.8 74.3h0M214.5 70.9h0M207.3 69.5h0M206.4 70h0M217 74.2h0M209.9 68.1h0M212.8 71.5h0M207 67.6h0M206.3 69h0M213.8 72.6h0M208 71.4h0M214.7 71.2h0" stroke="#9467bd" stroke-width="1.2" stroke-linecap="round" stroke-opacity="0.55"/>
<path d="M206.9 68h0M204.9 72.4h0M204.2 73.8h0M206.4 74.3h0M208.3 66.2h0M214.1 73.5h0M211.7 73.7h0M214.1 74.9h0M204.4 71.9h0M210.5 71.3h0M216.7 71.1h0M218.8 70.9h0M211.2 67.4h0M216.6 73.1h0M201.9 70.3h0M208.1 73.5h0M209.8 74.8h0M215 70.9h0M207.5 71.2h0M207.7 74.9h0M210.7 74h0M209.7 68.3h0M210.7 75h0M207.1 74.6h0M211.9 74.2h0M208.3 71.2h0M208.1 68.8h0M212 71.1h0M217.1 70.8h0M206.3 71.4h0M213.3 68.4h0M214.1 70.3h0M216.3 70.7h0M210.5 73.3h0M208.9 70.7h0M210.5 71.7h0M218.8 69.4h0M204.5 70h0M205.4 67.7h0M203.6 72.1h0M217.3 70.9h0M207 70.9h0M209 73.4h0M215.8 70h0M205 72.3h0M208.7 74.9h0M211.3 68.4h0M211.9 69.6h0M204.8 71.5h0M212.9 69.7h0M217.2 72.3h0M209.2 69.1h0M210.1 71h0M208.9 68.6h0M212.9 73.5h0M215.6 73.6h0M209.4 69.3h0M204.1 69.2h0M205.4 73.9h0M213.7 72.6h0M217.2 72.9h0M214.7 74.4h0M215.2 73.5h0M214.5 69.8h0M202.9 69.9h0M204 74.3h0M210.6 72.6h0M213.2 69.6h0M205.2 74.9h0M211.2 68.7h0M212 70.5h0M208.8 73.9h0M212.5 67.6h0M211.2 69.7h0M204.4 72.6h0M213.8 70h0M213.4 66.4h0M214.3 68.6h0M211.8 69h0M213.4 68.9h0M214.1 76.3h0M205.6 72.6h0M217.4 71.4h0M215.2 69h0M216.8 70.9h0M206.9 67.9h0M215.2 73.3h0M207.1 72.1h0M210.5 73.7h0M214.9 74.5h0M212.5 74.4h0M208.3 70h0M210 66.7h0M213.2 72.8h0M215.2 69.7h0M205.1 69.7h0M212.7 69.5h0M206.9 70.6h0M208.4 65.8h0M211.3 67.4h0" stroke="#9467bd" stroke-width="1.2" stroke-linecap="round" stroke-opacity="0.55"/>
<path d="M167.4 88.1C167.5 86.9 168 85.8 168.8 85.1C169.5 84.4 170.6 84.2 171.8 84C173.1 83.8 174.7 83.9 176.2 84C177.8 84.1 179.6 84.2 181.1 84.4C182.5 84.7 183.8 84.9 185 85.5C186.3 86.1 187.8 87 188.6 88.1C189.3 89.3 189.7 91.3 189.4 92.5C189.1 93.8 188.4 95.1 186.8 95.6C185.2 96.1 182.2 95.8 179.8 95.6C177.3 95.5 173.7 95.3 171.8 94.7C169.9 94.2 169 93.6 168.3 92.5C167.6 91.4 167.4 89.4 167.4 88.1Z" fill="#ffbb78"/>
<path d="M166.1 88.2h0M189 87.8h0M167.1 86.9h0M171.2 85.6h0M177.9 85.9h0M182 87.5h0M178.5 86.3h0M178.6 85.4h0M176.1 90.4h0M179.6 93h0M187.8 94.7h0M182.4 85.5h0M169.3 88.5h0M176.6 94.8h0M180.2 93h0M174.3 85.6h0M187.1 95.8h0M179.1 87.7h0M173.8 88h0M187.3 88.6h0M184.1 86.4h0M185.9 93.8h0M179 95h0M177.3 89.1h0M184.6 90.2h0M183.8 96.1h0M176.6 84.8h0M181.7 88.3h0M178.5 87.5h0M175.1 89.1h0M184.2 85.9h0M172.5 93.5h0M175.9 92.5h0M170.3 88.6h0M186 89.2h0M170.2 91.1h0M178.2 85.4h0M175.1 96h0M180.4 92h0M183.7 91.9h0M174.2 94.5h0M185.6 87.5h0M167.4 89.9h0M182.8 90.1h0M167.9 87.9h0M181.6 86.4h0M173.5 83.6h0M177.8 90.4h0M174.8 84.5h0M172.8 87.7h0M187.1 96.7h0M175.2 82.2h0M181.7 86.2h0M168.2 90h0M168.7 94.7h0M183.3 92.7h0M178.2 86.5h0M173.6 94h0M180.1 83.7h0M180.5 86.1h0M183.4 90.4h0M172.4 91.7h0M175.5 95.1h0M188.4 92.2h0M182.2 89.3h0M184.8 95h0M184.3 89.2h0M187.7 90h0M176.7 88.6h0M182 88.8h0M182.3 94.7h0M186.4 86.9h0M176.5 91.3h0M173.4 85h0M182.1 95.4h0M188.2 95.1h0M183.5 90.9h0M172.7 94.7h0M181.1 86.2h0M170.4 92.2h0M173.3 94.7h0M177.5 88.8h0M180.3 90.8h0M175 87.9h0M170.6 84.8h0M190.4 92.4h0M188.7 91.4h0M186.3 95.9h0M176.1 86.7h0M173.7 84.2h0M187.7 89.7h0M174.2 87.4h0M173.3 94h0M183.7 87.5h0M189.7 92.1h0M183 86.7h0M176.4 96.5h0M171.8 94h0M171.5 93.8h0M173.9 90.1h0M178.7 91.4h0M169.2 87.1h0M169.4 94.9h0M183.4 97.1h0M183.1 92.3h0M174.7 93.4h0M179.9 88.9h0M171.9 91.3h0M180.8 91.6h0M185.8 96h0M178.2 93.2h0M170.1 93.1h0M186.1 87h0M186.4 94.4h0M190.6 89.3h0M176.1 91.6h0M168.8 93.8h0M178.1 84.7h0M169.3 91.2h0M184.8 86h0M189.5 92.1h0M170.7 82.9h0M177 84.8h0M182.9 94h0M171.6 84.1h0M169.8 90.7h0M182.7 91.5h0M168.9 88.6h0M182.2 92.5h0M181.8 94.2h0M176.3 84.6h0M186 94.2h0M187.2 87.2h0M176.8 93.4h0M181.4 94.6h0M191.5 91.5h0M170.3 94.2h0M187.6 88.5h0M170.4 81.7h0M176 84.8h0M170.1 90.8h0M174.3 87.9h0M168.6 88h0M170.4 91.4h0M179.9 84h0M177.5 93h0M170.5 90.1h0M175.5 91.8h0M173.1 94.3h0M172.7 87.2h0M179.5 87.8h0M177.9 89.5h0M180.5 87.5h0M187.5 91h0M172.5 82.8h0M176.2 84.4h0M181.4 94.1h0M182.1 84.2h0M187.7 95.3h0M174.7 92.4h0" stroke="#ffbb78" stroke-width="1.2" stroke-linecap="round" stroke-opacity="0.6"/>
<path d="M185.8 92.2h0M176.6 96.2h0M187.4 93.1h0M185.3 85.8h0M168.5 91.1h0M170.8 92.7h0M174.5 94.5h0M168.2 93.2h0M186.4 88.8h0M187.6 86.7h0M178.4 85.2h0M171.7 92.4h0M175.8 90.9h0M179.8 94.8h0M169.2 92.8h0M180.3 88.5h0M166.5 86.9h0M168.6 92.1h0M170.1 83.4h0M176.3 91.8h0M186.9 95h0M172.3 89.9h0M170.1 88.8h0M179.5 84.8h0M170.2 87.5h0M187.2 88.4h0M166.4 89.5h0M176.6 85.9h0M186.9 90.4h0M169.8 83.8h0M179.4 91.4h0M178.4 95.8h0M180.9 88.8h0M169.1 86.4h0M191 93.7h0M172.5 88.7h0M185.1 87.4h0M170.2 87.1h0M177.6 93.1h0M173.3 87.4h0M184.1 95.7h0M174.9 93.7h0M174.6 85.5h0M180.8 90.9h0M164.5 89.3h0M173.4 90.8h0M184.7 92.6h0M177.1 86.7h0M166.4 90.4h0M188.6 89h0M171.4 86.2h0M169.7 87.1h0M173.1 93.2h0M181.7 88h0M175.7 93.5h0M190.9 91.1h0M184 90.6h0M187.6 94.9h0M177.7 87.4h0M176.5 84.2h0M191.7 93.5h0M169.4 88.9h0M183.7 95h0M179.9 96h0M173 94.7h0M183.5 84.8h0M171.2 84.6h0M177.8 91.9h0M180.2 94.3h0M174.3 94.7h0M173.2 87.3h0M175.8 91.1h0M173.2 94h0M179.6 91.4h0M184.9 94.3h0M168.2 85.9h0M168.1 87.7h0M177.5 88.9h0M183 93.9h0M176.8 85.8h0M167.7 91.6h0M181.9 93h0M172.8 91.9h0M186.8 93.1h0M187.8 89.2h0M168.2 84.4h0M185 86.6h0M167.9 84.9h0M176.4 93.3h0M178.9 89h0M181.8 94.2h0M189.8 87.5h0M187.4 96.5h0M185.7 94.7h0M181.6 91.2h0M172.3 91h0M181.6 96h0M181.5 93.8h0M169.9 91.5h0M175.7 96.1h0M171 92.5h0M173.2 83.6h0M173.2 90.3h0M184 86.8h0M177.5 90.6h0M173.5 84.3h0M184 86.7h0M178.8 92.4h0M183.9 89.5h0M171.1 90.8h0M178 88.7h0M181.5 93.8h0M182.1 94h0M187.8 94.6h0M182.7 95.5h0M183.1 85.3h0M176.3 90.3h0M189.3 92.2h0M171.1 90.1h0M181.8 87.4h0M180 92.2h0M177.5 91.2h0M177.3 93.9h0M176.2 91.4h0M184.8 89.8h0M172.7 85.6h0M179.3 85.5h0M179.7 83.9h0M172.7 85.9h0M171.2 89.6h0M174.8 93.5h0M188 90.9h0M173.6 92.1h0M173.3 92.8h0M175.6 90.7h0M189.5 94.5h0M190 87.9h0M171.1 89.6h0M175.6 86.8h0M182.6 84.5h0M177.7 93.5h0M176.5 87.6h0M171.2 87.7h0M185.7 94.9h0M176.1 84.2h0M178.6 94h0M174.8 90.4h0M183.5 86.4h0M177.1 85.1h0M186.3 92.4h0M182.9 88.9h0M180.3 88.4h0M167.9 92.3h0M172.5 86.8h0M187.5 92.9h0M185.5 91h0M187.4 89.1h0M178.2 92.8h0M180.3 96.2h0M184.1 87h0" stroke="#ffbb78" stroke-width="1.2" stroke-linecap="round" stroke-opacity="0.6"/>
<path d="M180 88.6h0M168.6 90.8h0M167.3 85.6h0M186.4 85.1h0M169.9 88.9h0M178.6 94.6h0M182 84.9h0M170.4 90.4h0M174.4 89.4h0M177.9 93.6h0M175.3 90.2h0M166.4 85.8h0M185.2 89.8h0M175.6 94.2h0M189.6 89.5h0M190.1 92.9h0M175.9 86.9h0M178.5 88h0M176 89.6h0M181.2 89.8h0M187.6 95.2h0M179 84.4h0M183.9 86.3h0M166.9 84.7h0M169.5 90.7h0M168.1 86.3h0M183.5 96h0M180.7 84.4h0M169.5 90.1h0M181.4 95.9h0M174.3 85.9h0M182.4 82.5h0M187.3 89.7h0M176 96.2h0M180.4 93h0M183.1 94.6h0M176.9 92.7h0M190.1 87.7h0M184.3 94.3h0M168.2 89.3h0M174.5 94h0M174.8 85.2h0M186.9 93h0M167.9 87.1h0M182 94.9h0M187.2 89.2h0M180.1 85.2h0M173.4 88.4h0M191.4 92.6h0M181.4 93h0M182.8 88h0M186 91.2h0M167.3 91.1h0M182.1 88h0M166.8 90h0M184.9 85.9h0M170.3 89.2h0M178.6 93.9h0M167.1 90h0M178.1 89.4h0M174.3 85.2h0M187.2 92.8h0M177.5 92.1h0M182.9 91.7h0M188.5 91.5h0M178.2 93.7h0M186.9 86.7h0M167.7 89.7h0M190 92.5h0M190.2 93h0M185.9 92.8h0M174.7 84.6h0M187.3 92.9h0M173.4 93.7h0M168.1 87.9h0M186.8 87.9h0M173.1 86.9h0M170.2 90.3h0M175.1 93.7h0M180.3 85.6h0M168.3 92.2h0M179.6 88.6h0M176.5 90.5h0M185.8 89.5h0M176.3 94.8h0M185.5 90.9h0M177.8 84.3h0M187.3 88.2h0M188.8 93.5h0M183.4 86.2h0M177.1 92.3h0M172.7 88.6h0M183 93.4h0M182.2 93.9h0M190.2 93.4h0M179.8 85.2h0M170.3 83.9h0M172.5 87.5h0M172.3 93.2h0M181.2 84.7h0M186.1 87.9h0M166.3 90h0M166.7 87h0M184.7 86.7h0M180.2 96.8h0M185.8 90.2h0M174.4 87h0M174.4 86.6h0M173.4 91.8h0M175.4 91.6h0M177.3 84.3h0M184.2 96.7h0M181.2 85.9h0M173.2 92.7h0M179.1 85.1h0M179.3 91.2h0M185.9 91.7h0M186.1 89.9h0M172.7 92.6h0M179.8 89.8h0M171.9 87.5h0M177.6 84.4h0M179.3 86.6h0M174.3 94.4h0M188.1 89.4h0M189.1 93h0M189 91.8h0M170.8 87.1h0M184.2 92h0M176.5 89.4h0M184.1 94.1h0M168.1 86.3h0M186.6 89.5h0M172.5 89.6h0M185.7 94.1h0M184.4 89.1h0M188.2 92.1h0M179.2 84.6h0M167.8 86.6h0M190 89.6h0M188.2 88.8h0M180.3 93.9h0M173.6 83.9h0M187.7 93.8h0M185.2 91.7h0M190.4 92.7h0M181.8 84h0M185.2 89.7h0M168.5 91.1h0M183.7 90h0M167.5 86.5h0M177.3 88h0M169.5 92.4h0M179.5 92.1h0M185.8 91h0M171.1 84h0M176 93.7h0M171.7 84h0M180.4 92.5h0M181.9 86.6h0" stroke="#ffbb78" stroke-width="1.2" stroke-linecap="round" stroke-opacity="0.6"/>
<path d="M195 77.5C195.3 76.1 196.5 75.8 197.6 75.4C198.7 74.9 200.6 74.8 201.8 74.9C203.1 75.1 204.5 75.5 205.2 76.2C205.9 76.9 206.1 78 206.1 79.2C206.1 80.4 205.8 82.2 205.2 83.4C204.7 84.6 203.8 86 202.7 86.4C201.6 86.8 199.6 86.5 198.4 86C197.3 85.5 196.4 84.9 195.9 83.4C195.3 82 194.8 78.8 195 77.5Z" fill="#98df8a"/>
<path d="M202.5 79.5h0M201.6 85.1h0M199.2 83.2h0M196.9 79.5h0M199.9 85.5h0M194.4 82.7h0M202.6 84.5h0M202.2 84.6h0M196.7 83.6h0M196.3 83.9h0M207.1 78.5h0M198.7 83.6h0M205.9 82.4h0M201.8 75.9h0M203.7 77.5h0M195.4 82.2h0M198.2 79.5h0M195 77h0M200.7 83.8h0M202.2 80.4h0M196.6 82.2h0M196.3 77.4h0M195.1 78.4h0M200.2 77.3h0M205.3 76.8h0M195.9 79.4h0M205.9 79.8h0M199.6 77.6h0M196.7 83.7h0M199.4 81.7h0M202.5 77.2h0M194.7 78.2h0M202.1 78.1h0M200.9 87.2h0M204.2 84.4h0M197.8 84.1h0M196.3 77.9h0M202.4 84.8h0M203.4 76.8h0M200.7 80.1h0M201.3 84.9h0M195.5 83.7h0M202.1 77.8h0M203.8 81.7h0M198.7 85h0M199.1 83.8h0M196.9 75.7h0M200.6 83.1h0M195.3 79.8h0M203 78h0M202.1 75.9h0M201.4 86.2h0M204.5 79.4h0M197.2 81.5h0M202.9 86.6h0M199.9 76.8h0M199.1 80.4h0M197.1 79.9h0M195.5 83.6h0M200.6 82.5h0M197.4 83.1h0M194.8 84.2h0M198.7 84.9h0M202.8 86.3h0M203.5 78.8h0M199.8 81h0M202.6 85.9h0M203 82.1h0M201.3 80h0M205.3 81.4h0M197.7 85.3h0M195.9 82.6h0M197.3 77.2h0M205.3 77.2h0M206.5 83.7h0" stroke="#98df8a" stroke-width="1.2" stroke-linecap="round" stroke-opacity="0.6"/>
<path d="M206.3 80.3h0M199.8 81.4h0M202.4 83.3h0M201.6 82.9h0M198.4 76.8h0M196.5 74.3h0M201.6 75.9h0M198.7 76.5h0M203.5 83.1h0M196.4 81.3h0M203 85.4h0M197 82.3h0M202.1 77.2h0M206.5 77.5h0M195.1 80.1h0M205.6 84.1h0M194.8 77.8h0M204.3 76.7h0M203.4 80.5h0M199.5 81.4h0M199.8 77h0M200.1 75.2h0M204 86h0M197.2 76.5h0M203 82.5h0M203.3 81.2h0M202 74.9h0M205.7 82.2h0M204.9 78h0M203.6 76.1h0M198.4 75.7h0M202 77.8h0M198.4 86.3h0M194.8 79.1h0M203.7 86h0M207 82.2h0M199.3 80.6h0M201.4 83.5h0M204.3 78.9h0M200.3 83.9h0M198.5 85.3h0M199.2 75.1h0M198.2 83h0M195.1 76.8h0M195.1 83.9h0M199.5 86.9h0M199.9 79.5h0M198.1 85.9h0M198.1 75.2h0M198.9 78.3h0M202.6 78.1h0M193.8 83.2h0M204.1 77h0M193.2 79.6h0M202.5 81.2h0M195.9 75.9h0M205.9 79.4h0M199.3 78.6h0M197.6 76.7h0M202.4 87.5h0M196.9 85.1h0M197.7 82.7h0M196.7 76.1h0M201.9 84.9h0M197.2 83h0M205.4 84.7h0M204.4 76.2h0M199.2 82.2h0M204.8 76.3h0M194.5 83.9h0M203.1 83.7h0M200.4 84.4h0M201.5 75.1h0M198.3 83.6h0M202.6 75.9h0" stroke="#98df8a" stroke-width="1.2" stroke-linecap="round" stroke-opacity="0.6"/>
<path d="M197.2 79.4h0M195.3 77.9h0M204 76.2h0M196.8 79.2h0M195.5 76.1h0M199.4 80h0M197.6 83.2h0M197.3 79h0M201.4 83.2h0M207.7 79.9h0M204.3 75.9h0M195.9 81h0M201.4 77.4h0M204.1 79.7h0M203.3 74.7h0M195.4 76.1h0M201 84.3h0M202.9 83.9h0M204 77.5h0M201.9 78.6h0M196.1 79.1h0M197.5 77.3h0M201.1 82.5h0M195.9 82.1h0M197.7 79.5h0M195.2 86.1h0M200.8 82.3h0M203.8 85.1h0M199.6 74.3h0M200.6 78.6h0M206.6 80.4h0M204.4 81.6h0M199.2 75.1h0M194.4 76.6h0M198.3 83.8h0M196 82.2h0M197.7 76.7h0M199.1 73.7h0M205.2 84.5h0M200.4 76.1h0M201.3 83.9h0M199.5 82.7h0M199.1 79.2h0M195.9 77.2h0M197.1 80.7h0M197.8 85.7h0M202 79.9h0M200 74.5h0M206.2 77.7h0M198.7 82.7h0M200.8 80h0M205.4 80.1h0M206.8 80.8h0M198 75.5h0M200.7 85.6h0M204.6 83.8h0M199.4 74.5h0M200.5 74.4h0M198 77.1h0M198 83.4h0M201.5 75.9h0M202.5 78.3h0M197.5 84.3h0M198.8 76.3h0M204.3 75.6h0M203 73.9h0M197.4 81.1h0M206.4 82h0M201.1 78.2h0M201.2 86h0M198.5 78.6h0M200.8 84.4h0M198.5 75.3h0M203.7 84.3h0M200.1 85.5h0" stroke="#98df8a" stroke-width="1.2" stroke-linecap="round" stroke-opacity="0.6"/>
<path d="M182.5 81.1C182.8 80.3 183.6 79.7 184.5 79.5C185.3 79.3 186.9 79.5 187.7 79.9C188.4 80.3 188.9 80.7 189.1 81.9C189.3 83 188.9 84.9 188.9 86.7C188.9 88.4 189.3 91.3 189.1 92.3C188.9 93.3 188.1 93.3 187.7 92.7C187.2 92.2 187 90.2 186.5 89.1C185.9 87.9 185.1 86.7 184.5 85.9C183.8 85.1 182.8 85.1 182.5 84.3C182.1 83.5 182.1 81.9 182.5 81.1Z" fill="#2ca02c"/>
<path d="M188.3 82.1h0M182.4 82.6h0M186.6 84.8h0M187.7 89.7h0M189 87h0M189.6 84.1h0M187.6 79.8h0M183.2 82.5h0M183.1 84.9h0M189.4 84.5h0M185.8 79.7h0M183.8 80.7h0M188.6 86.7h0M183.8 84h0M189.3 87.2h0M184.9 80.3h0M188 92.6h0M187.6 93.9h0M183.5 82.8h0M187.4 86.7h0M186.5 81.7h0M189.3 79.9h0M185.9 78.7h0M184.9 80.3h0M188.6 82.6h0M186.8 87.9h0M187 80.2h0M188.4 92.4h0M182.7 84h0M187.8 87.2h0M188.2 80.1h0M186.4 81.7h0M186.4 89.2h0M184.2 79.9h0M186.4 86.2h0M183.1 81.4h0M186.5 87.6h0M182.7 78.1h0M182.3 81.8h0M185.1 79.1h0M188.9 81.8h0M185.9 84.5h0M185.8 80.4h0M182.7 79.2h0M188.9 80.8h0" stroke="#2ca02c" stroke-width="1.2" stroke-linecap="round" stroke-opacity="0.7"/>
<path d="M190 90.1h0M185.8 79.1h0M182.2 79.1h0M187.5 78.7h0M187.6 87.5h0M187.8 82.7h0M188 79.3h0M186.5 80.3h0M182.8 78.7h0M189.5 85.3h0M188.4 95.1h0M188.5 84.6h0M184.4 81.5h0M182 79.5h0M185.3 81.1h0M184 84.6h0M187.2 89.3h0M189.9 89.9h0M188.8 81.2h0M187.3 88.1h0M182 82.7h0M188.4 89.1h0M185.5 86.8h0M187 89.7h0M186 78h0M189 89.6h0M188 87.2h0M188.3 90.8h0M185.4 85.1h0M185.4 77.7h0M188.5 90.8h0M187.4 80.2h0M187.8 89.4h0M187.3 81.7h0M184.8 83.9h0M184.7 79.7h0M185.8 84.5h0M186.5 84.2h0M185.7 85.1h0M184.4 82.8h0M187.9 81.1h0M184.7 78.7h0M183.3 78.5h0M183 83.8h0M184.3 82.2h0" stroke="#2ca02c" stroke-width="1.2" stroke-linecap="round" stroke-opacity="0.7"/>
<path d="M182.1 80.6h0M188.1 91.1h0M188.3 82.3h0M187.4 90.7h0M189.2 88.1h0M185.6 80.6h0M183.6 82.8h0M185.7 88h0M185 82.9h0M186 83.2h0M182.3 84.1h0M189 85.2h0M184 79.2h0M188.7 80.8h0M182.7 84.1h0M185.3 78.6h0M185.2 79.8h0M186.4 88.6h0M185.5 81.5h0M183.8 82.7h0M187.9 88.8h0M183.3 86.1h0M188.8 86.6h0M185.6 82.7h0M186.6 90h0M187.8 82.8h0M189.4 92.8h0M187.4 87.5h0M183.7 83.3h0M184.9 81h0M183.6 80.9h0M182.5 86h0M184.8 80.8h0M189.5 91.6h0M189.4 90.3h0M182.4 78.2h0M189.2 83.1h0M183.9 86.2h0M186.4 79.4h0M188.7 91.4h0M185.4 85.2h0M188.3 93.1h0M185 84.3h0M189 92.6h0M187.4 83.3h0" stroke="#2ca02c" stroke-width="1.2" stroke-linecap="round" stroke-opacity="0.7"/>
<path d="M199 86.2C199.4 85.3 200.4 84.3 201.2 83.8C202.1 83.3 203.2 83.1 204 83.3C204.9 83.4 206.2 83.9 206.4 84.6C206.7 85.4 206.2 86.8 205.6 87.8C205 88.8 203.8 90 202.8 90.6C201.8 91.2 200.3 91.7 199.6 91.5C199 91.3 198.9 90.3 198.8 89.4C198.7 88.6 198.6 87.2 199 86.2Z" fill="#8c564b"/>
<path d="M205.5 84.3h0M201.1 85.9h0M207.9 83.9h0M202.8 85.1h0M203.9 90.4h0M199.7 91.4h0M200.5 85.8h0M201.9 91.2h0M206.1 83.5h0M201 86.8h0M202 89h0M201.9 89.4h0M200 83.9h0M198.7 88.5h0M200.7 88.4h0M206.3 85.8h0M202.4 84.4h0M202.4 82.8h0M203.3 91.6h0M199.6 84.9h0M203.3 84h0M201.3 90.9h0M203.4 83.7h0M200.3 84h0M206.2 84.3h0M203.6 88.5h0M206 86.5h0M204.2 83.2h0M200 86.1h0M205.8 81.3h0M205 84.9h0M201.6 85.6h0M203.1 89.8h0M199.8 85.3h0M199.5 90.6h0M199.5 91.5h0M205 90.3h0M203.9 83.6h0M201.4 83.8h0M201 86.9h0" stroke="#8c564b" stroke-width="1.2" stroke-linecap="round" stroke-opacity="0.7"/>
<path d="M203.2 90.7h0M204.3 89.2h0M199.2 83.4h0M203.4 83.4h0M203.9 85.3h0M200 88h0M196.8 89.6h0M202.9 85.1h0M199.5 85h0M206.6 81.5h0M205.5 87.3h0M204.8 85.3h0M201.6 84.9h0M201.5 87.7h0M206.1 85.4h0M201.4 89.8h0M199.8 89.6h0M204.9 85.5h0M197 88h0M204.2 82.5h0M203.5 88.1h0M204.7 89.5h0M203.5 86.5h0M202 86.9h0M201.9 83.5h0M205.5 84.9h0M207 86.2h0M205.6 85h0M204.5 86.1h0M202.7 84.1h0M203.2 88.9h0M202.8 92.1h0M202.3 82.6h0M207.2 86.9h0M204.9 86.1h0M200.4 91.3h0M202 85.3h0M201.5 87.5h0M198.2 92.8h0M205 87.3h0" stroke="#8c564b" stroke-width="1.2" stroke-linecap="round" stroke-opacity="0.7"/>
<path d="M203.8 87.1h0M202.7 84.5h0M201.5 81.8h0M203.8 87.3h0M204.4 84.6h0M203.1 88.5h0M201.4 87.4h0M204.9 83.7h0M202.1 82.5h0M204.9 86.8h0M201.7 84.9h0M199 88.8h0M206.8 86.5h0M199.9 88.5h0M198.5 85.5h0M202.3 86.1h0M206.5 86.9h0M205.6 86h0M202.5 88.1h0M203.6 84.3h0M202.5 85.5h0M206.6 89.4h0M204 88.6h0M203.4 82.5h0M201.6 82.9h0M201.7 84.9h0M197.6 89.6h0M201.1 88.4h0M201.1 84.9h0M201.9 87.9h0M202 88.5h0M204.5 87.9h0M202.7 90.2h0M205.8 85.1h0M201.2 91.9h0M206.8 84.3h0M199.1 88.3h0M199.3 86.7h0M200.6 84.6h0M203 90h0" stroke="#8c564b" stroke-width="1.2" stroke-linecap="round" stroke-opacity="0.7"/>
<path d="M189.1 86.5C189.3 85.3 190 85.9 190.7 85.4C191.3 84.8 192.4 83.3 193.1 83C193.8 82.8 194.6 82.9 194.9 83.7C195.2 84.6 195.1 86.8 195 87.9C194.9 89.1 194.7 90 194.2 90.7C193.6 91.5 192.5 92.3 191.7 92.6C190.9 92.9 189.7 93.6 189.3 92.6C188.8 91.6 188.8 87.7 189.1 86.5Z" fill="#d62728"/>
<path d="M190.7 86.9h0M191.4 85.4h0M190.1 91.3h0M192.2 86.1h0M192.7 81.9h0M191.9 89.5h0M192.2 88.2h0M195.5 84.2h0M196.2 83h0M190 87.9h0M188.2 87.4h0M193.9 81.8h0M189.5 91.2h0M194.9 89h0M187.5 91h0M191.9 93.8h0M190.5 90h0M195.7 83.9h0M190.1 91.1h0M188.7 86.5h0M191.4 89.2h0M189.6 88.7h0M195.4 81.4h0M192.2 90.3h0M190.5 89.3h0M195.1 82.5h0M194.2 82.1h0M194.6 91.2h0M193.7 83.2h0M190.4 88.9h0M190.9 89.4h0M195.2 86.8h0M191.6 94.4h0M189.1 86.9h0M194.4 84h0M192.7 92h0M193.9 83.9h0M194 91.9h0M193.3 90.3h0M191.4 87.4h0M189.2 84.7h0M192.4 94.1h0M193.2 87.1h0M193.7 93.2h0M190.3 95.7h0M189.9 85.5h0M194.2 91.9h0M195.2 89.4h0M193.7 81.9h0M194.7 83.4h0M190.2 89.9h0M192.6 87.7h0M193.5 87h0M192.2 84.3h0M192.2 84.7h0M193.7 91.5h0M192.1 85.6h0M188.7 89.5h0M190.4 89.6h0M191.7 94.9h0M187.7 91.7h0M193.4 91.3h0M194.7 86.6h0M190.3 89.6h0M195.7 85.7h0" stroke="#d62728" stroke-width="1.2" stroke-linecap="round" stroke-opacity="0.7"/>
<path d="M192.3 85.7h0M189.1 91.5h0M194.5 86.8h0M192.9 88.5h0M188 92h0M191.4 86.8h0M196.4 89.3h0M190.7 89.7h0M190 87.9h0M192.5 84.6h0M192.7 91.2h0M190.3 84.7h0M195 80.5h0M190 86.4h0M194.9 85.6h0M194.2 91.6h0M192.1 88.3h0M191.5 84.3h0M195.6 83.5h0M194.3 85.3h0M189.3 94h0M194.1 87.5h0M191.3 84.7h0M191.1 87.3h0M190.3 94.2h0M191.5 85.4h0M192.1 93.6h0M194.4 87h0M195.6 91h0M186.6 94.3h0M190 93.3h0M194.2 90.7h0M195.1 87.2h0M193.5 91.9h0M191.1 92.3h0M189.5 88.6h0M195 86.6h0M188.6 87.8h0M196 86.9h0M190.8 86.2h0M193 86.6h0M193.6 84.4h0M189.6 94.4h0M191.4 85.2h0M194.8 87.5h0M196.9 87.9h0M189.6 94.4h0M194.8 83.2h0M191.5 91.9h0M193.7 94h0M190.6 88.3h0M192.9 86.6h0M189.5 88.5h0M195.5 88.1h0M192.3 82.6h0M190.5 85.5h0M193.7 92.8h0M193.5 86.3h0M189.9 91.5h0M195.1 90.1h0M190.5 90.8h0M196.1 85.6h0M188.5 90.2h0M187.8 89.5h0M190.1 92.9h0" stroke="#d62728" stroke-width="1.2" stroke-linecap="round" stroke-opacity="0.7"/>
<path d="M189.8 89.8h0M193.2 90.7h0M196.4 88.7h0M193.3 85.1h0M189.6 84.7h0M191.8 90.6h0M192.4 87.7h0M195.7 86.5h0M194.5 91.3h0M193.6 83.5h0M190.5 86.4h0M189.8 91.3h0M190.4 90.4h0M194.9 89.5h0M192.8 85.8h0M192.5 84.3h0M194.8 89.6h0M188.2 86.8h0M191.8 84.8h0M189.9 94.8h0M191.5 85.3h0M190.4 94h0M190.9 84.7h0M193.8 84.8h0M193.6 89.4h0M190.5 89.1h0M189.7 90.4h0M188.2 93.4h0M193.2 89h0M192.1 85.6h0M191.5 89.4h0M192.8 92.4h0M188.1 89.1h0M195.5 91.1h0M192.1 91.5h0M193.8 82.1h0M188.7 85.2h0M192.3 94.2h0M196 82.2h0M191.9 93.3h0M191.4 82.1h0M193 85.9h0M194.9 86.9h0M195.1 83.2h0M188.4 89.4h0M191.9 84.1h0M193.3 92.5h0M195.5 85h0M191.4 86.7h0M195.4 89.5h0M194.9 87.9h0M194.5 91h0M195.4 90.2h0M189.7 86.4h0M189.7 94.9h0M195.7 92.6h0M194.5 88.7h0M194.4 85.8h0M189 92.3h0M192.7 90.6h0M188.8 89.6h0M189.6 87.2h0M191.9 87.3h0M192.6 93.3h0M188.5 88.5h0" stroke="#d62728" stroke-width="1.2" stroke-linecap="round" stroke-opacity="0.7"/>
<path d="M165 73.1h0" stroke="#ff7f0e" stroke-width="2.2" stroke-linecap="round"/>
<path d="M196 71.5h0M197 72h0" stroke="#1f77b4" stroke-width="1.8" stroke-linecap="round"/>
<polygon points="255.3,71.1 288.7,48.5 289.1,87.3 256.9,110.5" fill="#f4f4f4"/>
<polygon points="288.7,48.5 339,60.8 338.2,99 289.1,87.3" fill="#f2f2f2"/>
<polygon points="256.9,110.5 289.1,87.3 338.2,99 308.8,127.7" fill="#f6f6f6"/>
<g stroke="#cdcdcd" stroke-width="0.55"><line x1="256.2" y1="70.5" x2="257.8" y2="109.9"/><line x1="257.8" y1="109.9" x2="309.6" y2="126.9"/><line x1="260" y1="67.9" x2="261.4" y2="107.2"/><line x1="261.4" y1="107.2" x2="312.9" y2="123.7"/><line x1="263.8" y1="65.3" x2="265.1" y2="104.6"/><line x1="265.1" y1="104.6" x2="316.3" y2="120.4"/><line x1="267.6" y1="62.8" x2="268.8" y2="101.9"/><line x1="268.8" y1="101.9" x2="319.6" y2="117.1"/><line x1="271.4" y1="60.2" x2="272.5" y2="99.3"/><line x1="272.5" y1="99.3" x2="323" y2="113.8"/><line x1="275.2" y1="57.6" x2="276.1" y2="96.6"/><line x1="276.1" y1="96.6" x2="326.4" y2="110.6"/><line x1="279" y1="55" x2="279.8" y2="94"/><line x1="279.8" y1="94" x2="329.7" y2="107.3"/><line x1="282.9" y1="52.5" x2="283.5" y2="91.4"/><line x1="283.5" y1="91.4" x2="333.1" y2="104"/><line x1="286.7" y1="49.9" x2="287.1" y2="88.7"/><line x1="287.1" y1="88.7" x2="336.4" y2="100.8"/><line x1="293.1" y1="49.6" x2="293.4" y2="88.3"/><line x1="293.4" y1="88.3" x2="261.4" y2="112"/><line x1="298.6" y1="50.9" x2="298.8" y2="89.6"/><line x1="298.8" y1="89.6" x2="267.1" y2="113.9"/><line x1="304.1" y1="52.3" x2="304.2" y2="90.9"/><line x1="304.2" y1="90.9" x2="272.8" y2="115.8"/><line x1="309.7" y1="53.6" x2="309.6" y2="92.2"/><line x1="309.6" y1="92.2" x2="278.5" y2="117.7"/><line x1="315.2" y1="55" x2="315" y2="93.5"/><line x1="315" y1="93.5" x2="284.3" y2="119.6"/><line x1="320.7" y1="56.3" x2="320.4" y2="94.8"/><line x1="320.4" y1="94.8" x2="290" y2="121.5"/><line x1="326.3" y1="57.7" x2="325.8" y2="96"/><line x1="325.8" y1="96" x2="295.7" y2="123.3"/><line x1="331.8" y1="59" x2="331.2" y2="97.3"/><line x1="331.2" y1="97.3" x2="301.4" y2="125.2"/><line x1="255.3" y1="72.3" x2="288.7" y2="49.7"/><line x1="288.7" y1="49.7" x2="339" y2="61.9"/><line x1="255.5" y1="76.6" x2="288.8" y2="53.9"/><line x1="288.8" y1="53.9" x2="338.9" y2="66.1"/><line x1="255.7" y1="80.9" x2="288.8" y2="58.2"/><line x1="288.8" y1="58.2" x2="338.8" y2="70.3"/><line x1="255.9" y1="85.3" x2="288.8" y2="62.5"/><line x1="288.8" y1="62.5" x2="338.7" y2="74.6"/><line x1="256.1" y1="89.6" x2="288.9" y2="66.7"/><line x1="288.9" y1="66.7" x2="338.6" y2="78.8"/><line x1="256.2" y1="94" x2="288.9" y2="71"/><line x1="288.9" y1="71" x2="338.5" y2="83"/><line x1="256.4" y1="98.3" x2="289" y2="75.3"/><line x1="289" y1="75.3" x2="338.4" y2="87.2"/><line x1="256.6" y1="102.6" x2="289" y2="79.5"/><line x1="289" y1="79.5" x2="338.4" y2="91.4"/><line x1="256.8" y1="107" x2="289.1" y2="83.8"/><line x1="289.1" y1="83.8" x2="338.3" y2="95.6"/></g>
<polyline points="308.8,127.7 338.2,99 339,60.8" fill="none" stroke="#555" stroke-width="0.75"/>
<polyline points="338.2,99 339,60.8" fill="none" stroke="#333" stroke-width="0.9"/>
<polyline points="256.9,110.5 308.8,127.7" fill="none" stroke="#222" stroke-width="1"/>
<g stroke="#333" stroke-width="0.9"><line x1="338.3" y1="61.9" x2="340.3" y2="61.9"/><line x1="338.2" y1="66.1" x2="340.2" y2="66.1"/><line x1="338.1" y1="70.3" x2="340.1" y2="70.3"/><line x1="338" y1="74.6" x2="340" y2="74.6"/><line x1="337.9" y1="78.8" x2="339.9" y2="78.8"/><line x1="337.8" y1="83" x2="339.8" y2="83"/><line x1="337.7" y1="87.2" x2="339.7" y2="87.2"/><line x1="337.7" y1="91.4" x2="339.7" y2="91.4"/><line x1="337.6" y1="95.6" x2="339.6" y2="95.6"/></g>
<path d="M281.4 85.9h0M289.6 88.6h0M285.2 83.1h0M289.7 85.5h0M284.4 94.6h0M281.1 86.4h0M279 91.4h0M298.8 83.9h0M281.7 88h0M281.4 89.3h0M286.2 92.4h0M273.4 81h0M284.2 94h0M274.5 88.2h0M286.5 93.4h0M283.5 96.5h0M283.3 94.4h0M287 86.8h0M276.7 93.4h0M280.1 85.5h0M285.8 89.7h0M284.4 85.2h0M286 86.8h0M283.1 87.1h0M277.2 92.2h0M292.9 83.8h0M284.3 84.2h0M281.3 90.3h0M277.4 92.4h0M283.6 89.8h0M280 92.8h0M280 93.4h0M281.2 80.2h0M279.7 94.6h0M283.9 86.8h0M283.2 89.8h0M287.1 91.4h0M271.1 91.5h0M284.8 87h0M276.1 82.9h0M277.1 80.8h0M286.5 80.6h0M285.2 89.7h0M277.4 100.2h0M293 83.1h0M285 86.4h0M280.7 98.9h0M287 87.5h0M290.6 83.8h0M290 84.4h0M283.5 75.7h0M288.5 87.6h0M289.1 79.1h0M271 90.9h0M274.6 94.5h0M286.2 84.9h0M288 83h0M278.2 82.5h0M273.8 91.7h0M275 85h0M286.4 97.4h0M278.6 91.8h0M283.6 92.5h0M282.4 92.8h0M284.3 82.1h0M286 87.3h0M294.7 85.8h0M285.2 80h0M274.3 83.5h0M275.6 91.5h0M286.6 82.7h0M281.7 88.6h0M273.3 94.5h0M285.3 89.7h0M286.4 88.6h0M279.7 94.6h0M285 87.5h0M290.5 90.6h0M289.6 82.9h0M270.5 94.9h0M283 90h0M293.6 76.4h0M284.5 91.3h0M275.2 87h0M280.5 92.9h0M275.7 96.3h0M278.7 92.9h0M278.5 92.1h0M284.3 88.9h0M286.6 85.6h0M282 85.3h0M279.6 91.3h0M282.9 93.9h0M283.2 74.8h0M274.6 91.7h0M283.1 81.7h0M285.5 94.3h0M278.5 90.5h0M287.4 91.4h0M282.6 81.3h0M279.7 84.8h0M296.8 83.1h0M282.5 83.8h0M275.6 92.5h0M280.9 83.1h0M281.6 89.7h0M274.8 88h0M290.4 87.5h0M283.9 92.7h0M284.3 91.6h0M288.8 86.2h0M272.9 87.1h0M291.3 82.3h0M281.3 87h0M285.3 83h0M288.7 84.6h0M281 91.8h0M275.1 101h0M271.4 93.2h0M274 88.1h0M278.9 93.7h0M293.1 82.4h0M282.6 91.8h0M285.9 87h0M284.9 88.6h0M275.8 91.8h0M274.1 86.1h0M276 95.3h0M278.1 90h0M280.4 86.2h0M285.2 78.9h0M278.4 88h0M289.7 82.5h0M283.4 86.2h0M277.5 89.3h0M280.7 85.7h0M274.5 91.8h0M284.7 92.6h0M279.9 91.6h0M285.6 87.2h0M284.8 85h0M272 86.9h0M282.3 89.4h0M283.7 94.5h0M275.7 94.8h0M274.3 89.3h0M280.4 85.2h0M279.2 86.5h0M281.1 96.1h0M283.8 76h0M287.4 87.5h0M278.4 87.9h0M275.9 93.9h0M274.6 88.5h0M284.9 91.1h0M290 92.8h0M280.9 97.8h0M292.8 91.1h0M280.6 88h0M281.9 88.8h0" stroke="#2ca02c" stroke-width="1" stroke-linecap="round" stroke-opacity="0.45"/>
<path d="M284.6 89.8h0M287.9 84.3h0M286.4 85h0M280.2 85.9h0M281.8 95.4h0M286.9 87.7h0M291.3 81.3h0M289.2 84.8h0M281.1 84.5h0M286.2 91.4h0M282.6 90.2h0M276.5 90.5h0M287 85.5h0M287.7 83.2h0M289.7 83.6h0M279.2 90.4h0M288.4 86h0M287.5 86h0M275.2 88.9h0M279.5 88h0M288.6 78h0M289.8 82.7h0M283.6 98.6h0M273.3 93.4h0M289.9 90.4h0M284.2 93.4h0M274.6 93h0M286.8 82.3h0M278 83.4h0M281.7 92.1h0M280.9 97h0M293.6 84.3h0M274.2 89.4h0M277 90.4h0M278.8 92.1h0M297.3 78h0M288.9 89.7h0M289.4 84.5h0M277.6 90.9h0M279.6 81.8h0M288.3 85.7h0M280.7 91.5h0M274.8 90.6h0M288.3 82.6h0M289.3 92.2h0M274.3 93.4h0M284.5 94.2h0M281.4 85.4h0M290 80.6h0M276.5 92.7h0M277.4 95.5h0M278.7 86.1h0M274.8 84h0M281.7 94.8h0M266.3 96h0M282.3 91.9h0M286.6 81.7h0M272.1 88.8h0M286.7 90.6h0M276.6 95.5h0M288.9 86.3h0M288.6 90.4h0M279.4 84.7h0M290.4 83.7h0M287.6 79.4h0M273.1 92.5h0M293.3 86.9h0M275.6 90.2h0M286.9 85.9h0M290 90.3h0M292.3 88.1h0M279.5 84.7h0M283.6 94.4h0M287.8 79.4h0M287.5 84.2h0M279.1 92.7h0M281.2 83.9h0M280.6 93.2h0M286.1 88.7h0M279 94.3h0M278.7 98h0M279.7 91.3h0M275.6 94h0M282 88.7h0M279.1 94.4h0M277 100.1h0M281.1 88.3h0M286.2 87.4h0M283.2 91.2h0M283.6 93.2h0M292.9 82.5h0M282.6 99.6h0M286 82.1h0M276.7 100.1h0M281.8 84.9h0M279.5 87.2h0M282.1 89.7h0M279.4 83.2h0M279.1 89.1h0M272.4 83.9h0M274.1 99.5h0M277.2 84.5h0M280.3 91.1h0M289.9 83.6h0M273.4 101.5h0M286 88.2h0M288.9 78.7h0M276 83.9h0M277.8 90h0M281.9 84.5h0M280.8 83.3h0M285.6 92h0M294.9 90.3h0M269.5 94.8h0M289.6 82.7h0M291.4 88h0M280.6 86h0M297.8 80.2h0M297.3 86.4h0M278.8 77.9h0M275 94.8h0M283.1 87h0M281.5 85.3h0M278.7 91.2h0M283.5 79.3h0M269.7 88.1h0M280.5 80.5h0M278.8 91.7h0M295 85.1h0M289 87.1h0M284.6 90.2h0M279.3 94.3h0M276.1 83h0M283.2 98.8h0M283.6 78.1h0M286.6 84.1h0M288.6 81h0M286.5 76.4h0M284.9 80.6h0M282.8 82.9h0M293.7 78.2h0M281.7 77.8h0M276.1 91.4h0M290 85.4h0M281.4 82.1h0M288.1 92.6h0M290.3 93.8h0M284.1 83h0M280.9 93.7h0M278.4 91.7h0M285.4 91.9h0M287 85.4h0M282.8 76.2h0M280.1 85.2h0M291.6 84.9h0M289.3 81h0M282.2 88.9h0M280.1 83.5h0M284.6 93.4h0M279.1 91.1h0" stroke="#2ca02c" stroke-width="1" stroke-linecap="round" stroke-opacity="0.45"/>
<path d="M277.7 101.9h0M286.8 89.3h0M280.3 80.6h0M295 80.5h0M288.9 91.9h0M281.7 90.4h0M283.8 88.5h0M282.2 82.2h0M278.7 83.7h0M282.7 82.3h0M265.2 93.3h0M280.1 86.5h0M271.2 94.2h0M285.4 90.7h0M279.2 91.1h0M275.8 80.6h0M279.8 79.6h0M279.2 96.4h0M288 89.2h0M270.9 86.5h0M281.7 90h0M282.2 86.2h0M289.9 80h0M284.1 84.7h0M279.9 92.7h0M288.9 88.2h0M277.6 90h0M298.5 78.7h0M277.7 94.4h0M293.1 81h0M285.5 97.4h0M275.5 86.9h0M285.1 87.4h0M275.8 82.9h0M290.7 75.1h0M275.9 81.6h0M282.3 90.8h0M285.2 79.9h0M287.7 86.1h0M274.5 91.9h0M285.5 85.9h0M297.5 85.4h0M281.7 88.2h0M283 91.4h0M289.7 80.1h0M279.8 89.2h0M282.1 88.6h0M289.2 79.5h0M292.7 87.3h0M277.8 85.1h0M277.1 90.7h0M282.3 80.9h0M277 86.6h0M278.1 91.2h0M285.9 82.9h0M285 86.3h0M293.8 85h0M288.3 84h0M272.5 84.8h0M288.4 84.8h0M288.5 90.8h0M267.6 93.6h0M285.5 79.2h0M288 85.3h0M275.5 96.1h0M281.2 93.7h0M281 92.7h0M289.2 84.1h0M270.7 96.4h0M280.9 92.9h0M279.9 90.7h0M279.6 94h0M293.6 77.8h0M283.6 93.7h0M282.9 75.7h0M278 94.6h0M282.4 78.5h0M285.4 93.2h0M274.3 97.2h0M290.7 73h0M276.8 96.3h0M287.3 86.2h0M280.5 80.7h0M276.9 93h0M285.5 87.7h0M274.2 93.4h0M283.8 77.9h0M279.5 89.2h0M277.1 90h0M283.2 81.9h0M282.8 88.3h0M279.2 80.4h0M280.6 83.9h0M279.6 88h0M280.4 79.8h0M273 94.7h0M282.6 84.6h0M274.3 96.3h0M286.2 81.4h0M284.3 91h0M279.9 85.6h0M287.1 96.1h0M279.1 83.1h0M277.8 91.2h0M287.8 89.5h0M282.1 91.4h0M283.9 91.8h0M273.1 87.5h0M285.2 77.8h0M294.7 83.4h0M281.1 82h0M285.3 87.5h0M274.9 90.8h0M282.4 86.9h0M291 85.4h0M274 98.1h0M284.9 87.1h0M288.1 77.4h0M280.3 83.3h0M292.8 90.9h0M281.3 90.3h0M283.6 90.4h0M285.3 91.6h0M273.1 97.6h0M281 94.6h0M287.3 83.2h0M290.3 78.2h0M280.9 84.7h0M282.2 88.7h0M289.3 80.3h0M277.3 93.7h0M285.4 91.4h0M282.3 87.5h0M276.8 96.3h0M276.7 89.4h0M281.7 87.5h0M278.7 89.6h0M283.7 88.6h0M278.8 80.4h0M284.6 92.9h0M290.7 81.8h0M275.3 92h0M283.7 78.3h0M281.1 90.7h0M280.9 94.1h0M284.3 89.6h0M277.4 84.4h0M281.6 79.9h0M284.7 92.2h0M270.5 95.1h0M280.5 98h0M286.2 94.6h0M295.3 76h0M282 94h0M284.2 79.6h0M289.2 88.4h0M271.9 91.5h0M277.9 93h0M279.9 90.5h0M280.1 93.2h0" stroke="#2ca02c" stroke-width="1" stroke-linecap="round" stroke-opacity="0.45"/>
<path d="M278.1 88.1h0M277.4 91.9h0M281.6 96.4h0M276.2 98.2h0M282.2 92h0M277.6 88.9h0M274.8 94.8h0M276.5 95h0M293.4 86.8h0M282.7 87.4h0M284.5 86.6h0M283.2 78.4h0M281.9 84.4h0M293.1 84h0M275.5 89.8h0M280 77.2h0M277.7 95.2h0M273.1 87.4h0M288.9 87.2h0M285.1 86.8h0M271.7 90.9h0M272.2 87.7h0M291.9 86.2h0M288.6 82.7h0M281.9 95.8h0M295.4 85.6h0M280.4 78.8h0M291.2 84.2h0M286.5 85.9h0M289.8 85h0M283 92.4h0M277.2 86.1h0M274 102.8h0M275.5 86.5h0M270.3 88h0M270.3 91.4h0M284.7 89.6h0M284.2 89h0M287.5 85.5h0M286.1 83.4h0M282.1 90.9h0M281.7 77.6h0M283.1 89.4h0M281.6 92.2h0M283.9 87.7h0M277.4 90h0M289.9 80h0M278.7 82.7h0M275.5 90.7h0M294.8 89h0M291.2 78.7h0M288.8 83.8h0M286.8 81.8h0M275.3 87.2h0M288.6 88.4h0M291.5 81.5h0M283.5 83.2h0M273.7 94.2h0M283.4 85.3h0M278.6 93.1h0M278 88.9h0M294 89.3h0M283.4 86.4h0M269.5 94.3h0M278.5 89.8h0M282.4 89.7h0M292.6 86.7h0M279.7 89.7h0M279.2 79.9h0M294.7 78.7h0M285.1 88.7h0M271.7 100.4h0M297.1 79.4h0M274.3 86.8h0M279.7 84.8h0M294.2 80.5h0M281 89.8h0M272.1 93.7h0M274.3 88h0M284.7 81.4h0M278.5 96.9h0M289.9 85h0M282.4 88.3h0M280.8 96.3h0M281.8 85.5h0M283 84.5h0M283.2 85.9h0M277.9 94h0M285.4 80.9h0M281.2 93.7h0M280.8 88.5h0M270 94h0M272 91.4h0M294.3 80.5h0M290.4 75.7h0M282.6 88.4h0M289.1 90.1h0M282.4 89.1h0M279.3 98.4h0M275.2 83.3h0M288.4 86.7h0M285.4 74.1h0M280.1 85.5h0M280.9 87.9h0M297.7 83.9h0M273.5 86.7h0M287.8 91.6h0M279.7 89.8h0M269.5 92.6h0M289.8 82.6h0M280 83.6h0M277.5 93.9h0M280.3 100.5h0M292.1 85.2h0M275.6 83.4h0M287.7 87.7h0M287.9 86.2h0M279.4 92.5h0M280.6 86.4h0M279.3 90.4h0M289.8 76h0M282.2 91.3h0M275.1 88.4h0M285 94.8h0M277 93h0M287.3 88.2h0M291.5 87.3h0M281.1 84.6h0M285 82.3h0M287.9 93.1h0M288.9 89.7h0M282.3 101.8h0M282.4 88.4h0M286.4 83.8h0M285 88.9h0M285.6 84.7h0M276.6 94.8h0M273.5 87.2h0M280 83.3h0M283.3 88.7h0M283.1 84.3h0M281.5 85h0M278.2 83.5h0M288.5 90.4h0M286.4 86.2h0M296.6 78.9h0M279.1 86.2h0M285 79.9h0M285 83.6h0M267.5 94.5h0M284.2 77h0M286.1 84.6h0M288.2 85.9h0M280.5 87.7h0M266.2 91.3h0M287 88.4h0M280 79h0M280.8 91.9h0M279.6 92.5h0M286 78.4h0" stroke="#2ca02c" stroke-width="1" stroke-linecap="round" stroke-opacity="0.45"/>
<path d="M279.4 96h0M283 84.5h0M283 86.7h0M288.9 86.7h0M285.9 82.6h0M268.4 93.4h0M275.9 90.2h0M277.6 87.4h0M277.6 94.6h0M278.6 92.4h0M283.8 79.6h0M276.7 95.6h0M284.7 87.4h0M284.2 93.1h0M282.9 86.5h0M276.6 83.3h0M291 82.6h0M279.1 82.8h0M276.2 97.2h0M292.9 85h0M284.6 83.2h0M285.3 79.9h0M287.1 86.7h0M274.1 87.8h0M277.4 91.1h0M275 89.4h0M276.1 84.3h0M279.5 87.5h0M275.4 105h0M275.2 98h0M275.8 94.8h0M289 83.9h0M287.5 72.4h0M280.2 89.7h0M276.5 87.8h0M274.4 83h0M283.8 79.3h0M270.7 95.8h0M283.4 90h0M296.6 79.5h0M274 88.3h0M294.6 86.9h0M285.6 93.1h0M281.1 83.9h0M288.2 87.9h0M276.5 93.2h0M290.2 76.4h0M277.2 82.5h0M280.4 94.4h0M289.9 77.4h0M285.2 84.2h0M281.5 79.3h0M282 95h0M281.1 89.9h0M286.5 85.8h0M291.2 72.1h0M280.6 85.3h0M288.9 80.9h0M269.3 90.7h0M277 96.5h0M279.2 93.8h0M284.3 86.4h0M276.7 93.1h0M281.8 86.9h0M291.8 81.6h0M281.1 85.2h0M271.6 91.4h0M285 79.7h0M274.9 96.6h0M279.3 85.1h0M279.4 82.8h0M280.9 88.7h0M284.8 90.8h0M278.8 91h0M284.5 92.8h0M278 90.7h0M283.6 81.5h0M270.5 88.4h0M271.2 92.3h0M279.2 88.8h0M281.4 86.6h0M274.4 92.4h0M279.9 88.9h0M288.5 76.3h0M287.6 87.3h0M285.6 82.5h0M291.8 81.4h0M276.1 87.1h0M292.9 87.9h0M288.3 94.6h0M285.2 92.7h0M293.2 79.1h0M287.5 77.3h0M284.4 90.2h0M276.9 93.5h0M280 91.8h0M289.2 77.7h0M283.5 78h0M274.5 102.9h0M282.7 90.1h0M277.2 96.3h0M292.4 74.5h0M280.1 88.6h0M274.6 93.1h0M284.4 89.8h0M283.9 91.8h0M280.1 87.3h0M282.4 95.6h0M281.5 82.7h0M282.5 84.6h0M275.1 97h0M270.9 89.2h0M285.7 87.3h0M278.1 90.3h0M291.8 90.8h0M279.9 81.4h0M281.9 84.4h0M284.2 89.1h0M273.3 90.6h0M284.6 78.3h0M289 81h0M283.6 83.2h0M283.2 87h0M281.7 80.6h0M282.7 89.6h0M286.3 81.3h0M281.1 89.1h0M277.8 88.5h0M276.2 90.2h0M279.5 91.9h0M283.7 94.1h0M267.7 96.4h0M282.8 94.2h0M284.2 79.1h0M287.8 89.6h0M266.2 94.7h0M280.4 80.8h0M282.9 83.5h0M290.3 83.2h0M282.7 90.9h0M276 91.8h0M282.6 93h0M284.2 80h0M288.5 79.4h0M284.8 84.1h0M292.8 83.3h0M283.5 91.9h0M285.4 89.4h0M288 81.4h0M284.8 95.6h0M289.4 87.5h0M283.6 83.6h0M292.8 81.7h0M290.5 80.1h0M280.6 92.2h0M270.5 93.8h0M286.3 82.7h0M283.8 90.4h0M285.9 77.8h0M288.3 82.6h0" stroke="#2ca02c" stroke-width="1" stroke-linecap="round" stroke-opacity="0.45"/>
<path d="M285.7 83.8h0M287.5 87.4h0M282.8 83.7h0M283.8 86.5h0M288.8 80.2h0M282.8 89.7h0M292.9 82.4h0M283.1 83.2h0M280.9 87.5h0M280.5 88.5h0M284.7 83.9h0M279.1 90.1h0M287.6 90.3h0M285.8 90.4h0M278 93.4h0M284.2 81.4h0M277.6 90.6h0M285.4 88.4h0M288.4 84.8h0M289.7 87.5h0M282.9 86.5h0M285.5 88.4h0M282.7 87.7h0M287.2 79.6h0M284.2 86.7h0M276.5 83.8h0M285 88.5h0M281.5 83.2h0M279.5 91.7h0M290.5 87.6h0M279.9 81.6h0M286.1 93.5h0M284.5 82.4h0M284.9 81.6h0M294.4 83.5h0M289.1 79.8h0M273 87.8h0M281 83.1h0M285.9 91.3h0M284.5 83.5h0M288.4 84.2h0M285.3 83.4h0M276.2 86.3h0M284.7 85.3h0M279.8 90.2h0M286.2 87.6h0M289.9 83.5h0M278.4 89.4h0M285.6 90.6h0M283.4 78.6h0M292.9 84.1h0M281.9 91.1h0M286 86.6h0M288.5 85.1h0M290.4 83.8h0M287.4 83.5h0M284.3 85.4h0M285.6 85.1h0M293.5 82.8h0M286.8 85.9h0M285.4 86.7h0M279.2 84.3h0M283.6 88.2h0M284.5 92.9h0M281.5 85.6h0M286.7 87.4h0M279.1 86.3h0M289.7 81.4h0M278.9 89.9h0M281.2 82.8h0M281.7 82h0M291.4 77.4h0M280.9 88.3h0M286 78h0M281.5 88.4h0M282.8 83.1h0M280.4 87.8h0M283.7 88.5h0M284.1 84.1h0M283.8 85.8h0M286.5 83.8h0M290.9 82h0M284.8 87.7h0M281.6 87.9h0M284.8 86.4h0M289 82.1h0M289.5 85h0M284.7 80.3h0M280.3 92.9h0M287.1 82.4h0M282.8 83.2h0M282 81.1h0M288.4 77.4h0M280.9 85h0M283.3 88.3h0M280.2 89.3h0M283.5 77.8h0M290.8 78.9h0M279.2 81h0M287.4 87.1h0M290.6 81.4h0M277.7 88.6h0M280.3 85.4h0M282.4 87.8h0M290.7 81.4h0M277.5 87.1h0M282.5 83.4h0M276.8 92.2h0M279.3 87.3h0M281 87.5h0M285.8 75.6h0M283.1 85.8h0M277.3 93.2h0M286.7 78.8h0M281.8 83.6h0M282.3 83.7h0M283.2 86.6h0M288.7 85.6h0M278.8 90.1h0M284.8 92.6h0M283.1 92.1h0M288.1 87.1h0M280.1 87.2h0M280 85.2h0M283 88.8h0M290.1 83.6h0M288.7 87h0M281.6 93.4h0M291.6 79.2h0M281.9 88.5h0M293.2 83.2h0M284.4 91.2h0M285.7 77.7h0M290.4 80.5h0M283.5 89.5h0M291.1 78.6h0M293.6 86.6h0M283.7 78.2h0M277.9 87.7h0M292.1 83.3h0M289.7 83.3h0M280 86.9h0M289.4 74.6h0M286.1 84.7h0M285.3 82.5h0M285.3 86.1h0M289.9 82.9h0M280.9 88.8h0M279.3 87.5h0M286.7 77.3h0M290.3 87.3h0M281.8 78.4h0M283.4 83.6h0M282.4 84.2h0M280.6 84.1h0M279.8 86.9h0M285.1 85.3h0M278.7 91.3h0M291.7 79.6h0M287.1 78.5h0M280.2 87.4h0M288 84h0M283 80.2h0M277.8 81.3h0M286.7 78.6h0M282.3 83.8h0M287.2 88.2h0M281.5 84.3h0M281 78.9h0M287.8 80h0M283.9 84.6h0M285.4 81.8h0M285.4 89.8h0M284.7 87.2h0M282.5 89.9h0M280.1 83.9h0M287.6 82.6h0M283.6 86.9h0M280.2 86.2h0M282 88.4h0M275.9 87.9h0M291.1 84.5h0M281.2 84h0M284.1 89.3h0M285.8 85.4h0M277.3 84.7h0M285.6 84.9h0M281.7 95h0M285.5 80h0M288 88.2h0M284.4 85.9h0M288.4 91.4h0M282 84.9h0M280.3 84.7h0M279 85.3h0M283.8 87.8h0M288 85.7h0M282.9 89.2h0M285.3 82.7h0M289.9 80.1h0M282.9 88.1h0M287.1 84.3h0M277.6 88.4h0M289 83.7h0M283.6 87.6h0M286.2 86.4h0M278.9 95.8h0M284.4 84.8h0M287.7 75.5h0M288.6 87.5h0M280.8 86.9h0M283 86.1h0M278.3 88h0M276.5 89.1h0M281.3 86.9h0M286.9 85.2h0M276.9 90h0M284 83.9h0M282.8 88.9h0M285.2 88.3h0" stroke="#2ca02c" stroke-width="1.2" stroke-linecap="round" stroke-opacity="0.65"/>
<path d="M283.9 89.1h0M284.3 85.1h0M288.1 79h0M279.5 86h0M276 89.5h0M288.2 89.8h0M276.2 86.7h0M286.6 81.7h0M288.5 76.1h0M284.8 87.3h0M287.2 78.3h0M289.5 85.7h0M291 84.5h0M284.7 84.5h0M279.6 88.9h0M278.3 89.1h0M283.4 83.1h0M283.2 92.1h0M276.1 87.2h0M291.4 81.8h0M285.7 87.8h0M293.1 81h0M288.5 84h0M285.3 92.6h0M283.4 87.3h0M281.8 88h0M278.1 87.2h0M289.9 86.3h0M292.2 83.4h0M279.1 93.2h0M283.1 94.3h0M283.5 87.5h0M287.8 77.7h0M283.6 80.4h0M285.5 88.1h0M288.8 84h0M280.6 88.6h0M290.9 81.1h0M286.5 80.3h0M287.8 81.9h0M277.9 95.7h0M281.1 81.1h0M285.5 78.5h0M284.3 89.2h0M284.1 91.9h0M289.7 82.1h0M280.8 85.9h0M288 85.5h0M278.9 87.8h0M291.8 80.9h0M285.5 84.6h0M287.9 88.1h0M277.2 91.9h0M283.5 82.4h0M286.1 83.8h0M280.7 84.1h0M288.5 78.8h0M283.3 85.9h0M278.7 89.8h0M288.9 74.6h0M284.2 87.4h0M285.6 84.7h0M279.3 90.5h0M281.3 88.6h0M287 73.4h0M284.5 77.8h0M288.7 87.3h0M289.3 83.1h0M278.7 86.2h0M286 80.7h0M285.6 88h0M289 85.2h0M283.8 83.3h0M282.1 89.9h0M287.4 76h0M289 81.7h0M285.6 92.6h0M282.2 90h0M286.5 88.6h0M275.7 87h0M277.3 84.4h0M285 83.3h0M282.4 88.4h0M276.5 93.6h0M282.2 89.9h0M279.1 82.4h0M285.8 90.6h0M280 85.8h0M287.2 81.2h0M282.1 89.4h0M279.6 88.4h0M286.2 84.5h0M280.3 87.7h0M283.5 84.9h0M276.6 86.8h0M285.6 80.2h0M287 88.9h0M282.6 91.5h0M285.9 82.9h0M276.7 85.1h0M285.5 80.3h0M283.6 87.4h0M289.3 81.8h0M281 88.7h0M284.7 77.7h0M288.3 89.5h0M284.7 92.8h0M286.8 79.1h0M282.8 94.7h0M286.7 85.4h0M274.6 88h0M280.4 81.8h0M287.5 75.5h0M284.7 87.2h0M282.6 94.5h0M281.4 88.9h0M288.8 89.1h0M285.5 81.8h0M282.6 85.2h0M288.5 85.6h0M284.4 89.4h0M287.4 82.5h0M288.2 82.1h0M280.2 86.3h0M288.1 81h0M287.5 85.7h0M290 89.2h0M283 76.6h0M277 84.8h0M286.4 79.8h0M290.9 83.2h0M283 88.4h0M288.5 82.7h0M281.6 86.5h0M285.7 86.5h0M283.9 81.6h0M277.3 88.9h0M292.4 79.8h0M282.1 86.8h0M279 91.8h0M294.6 81.6h0M279 90h0M276.6 93.3h0M282.1 79.1h0M285.5 85.4h0M283.3 86.1h0M283.3 85h0M281.5 92.2h0M291.6 85.5h0M277.7 88.6h0M288.7 83.1h0M281.2 96.9h0M274.5 85.4h0M284.8 90.3h0M280.9 90.3h0M291.5 78.6h0M292.6 80.6h0M282.4 84.7h0M282.5 79.7h0M280.3 86.5h0M289.4 81.7h0M285.6 85.6h0M282.9 85.8h0M285.6 86.5h0M277.8 84.7h0M280.2 90.5h0M277.2 84.4h0M278.8 84.6h0M286 80.5h0M287.3 85.5h0M278.6 92.3h0M285.4 85.9h0M288.9 84.1h0M280.6 90.2h0M285.5 86h0M283.6 85.6h0M286.6 86.9h0M286.9 82h0M287.5 82.4h0M291 86.6h0M285.7 89h0M286.4 80.9h0M286.5 75.4h0M286.7 85.2h0M282.4 86.5h0M280.6 81.6h0M275.2 88.8h0M285.4 84h0M282.1 84.3h0M284.3 85.2h0M285.1 87.1h0M280.2 86.5h0M277.5 88.7h0M278.1 91.9h0M283.5 91.3h0M285.9 76.1h0M281.1 86.4h0M282.2 82.4h0M282.7 82.4h0M284.9 83.9h0M282.6 82.6h0M287.4 90.8h0M284.4 84.8h0M282 86.6h0M282.1 83.8h0M283.9 86.8h0M281.7 87h0M285.4 85.7h0M290.5 80.1h0M285.2 88.9h0M287 88.4h0M285 85.7h0M284.7 85h0M280.2 89.2h0M285.3 85.2h0M286.8 82.7h0M287.4 85.9h0M277.5 94.5h0M276.5 86.2h0M280.3 89.6h0" stroke="#2ca02c" stroke-width="1.2" stroke-linecap="round" stroke-opacity="0.65"/>
<path d="M285.3 88.3h0M282.1 78.6h0M284.8 89.2h0M292.4 82.1h0M294 84.1h0M281.6 87.6h0M283.1 80.6h0M281.3 86.8h0M288.6 84.2h0M282.5 88.3h0M289 87h0M278.1 83.5h0M285.8 86.2h0M286.9 85.6h0M277.3 90.7h0M286.5 83.8h0M283.3 90.2h0M286.1 88.7h0M287.2 78.9h0M282.4 88.7h0M287.6 79.6h0M286.1 88.4h0M280.7 88h0M286.4 82.5h0M280.4 84.8h0M282.5 81.2h0M291.3 79.6h0M276 86.9h0M282.8 80.3h0M288.2 80.5h0M288.1 78.5h0M288.9 85.4h0M286 81.1h0M285.2 82.6h0M288.1 86.4h0M289.3 88.1h0M283.2 83.1h0M289 81.3h0M281.5 86.7h0M282.8 90.8h0M284.9 81.7h0M284.4 83.1h0M285.7 83.5h0M285.1 91h0M287.1 87.3h0M284 79.7h0M283.9 87.4h0M282.1 94.3h0M283.9 82.2h0M283.2 83.3h0M280 93.4h0M285.3 84.7h0M282.6 84.2h0M285.4 88.2h0M288 79.7h0M288.5 88.5h0M292.2 78.6h0M287.2 83.5h0M280.7 82.7h0M291.2 87.6h0M279.7 83.9h0M284.5 91.1h0M281.3 90.8h0M278.4 91.8h0M286.7 84.4h0M282.5 87.1h0M285.3 90.6h0M285.4 85.1h0M281.9 85.1h0M282.8 85.6h0M285.4 83.3h0M286.8 78.2h0M279 85.1h0M284.4 85.6h0M282.9 90h0M285.8 84.2h0M287.5 85.6h0M293.8 80.4h0M290.1 83.3h0M276.9 84.9h0M280 89.8h0M282.2 79.2h0M283.5 81.6h0M287.4 78.8h0M283.9 86h0M284.7 75.9h0M285.3 79.4h0M280 90.2h0M281.9 85.3h0M276.7 85.3h0M284 81h0M285.8 90.6h0M286.4 91.3h0M280.2 79.2h0M282.8 86.8h0M276.8 87.5h0M284.8 85.3h0M289.1 80.5h0M285.8 77.4h0M289 83.2h0M283 83.9h0M284.7 84.9h0M280.9 86.2h0M288.6 81.2h0M282.9 88.1h0M284.3 88.6h0M279.2 92.6h0M281.4 86.7h0M288.3 76.8h0M276.7 92.5h0M293.6 82.7h0M289.6 88.5h0M281.4 86.7h0M284.1 90.8h0M280.8 85.6h0M287.7 86.9h0M282.9 81.4h0M291.6 79.8h0M283 81.2h0M285.9 81h0M285.1 87.8h0M287.1 84.1h0M285.2 84.6h0M276.7 82.2h0M284 83.9h0M285.6 80.6h0M285.8 90.7h0M285.8 77.7h0M285.2 84.7h0M285.4 90.2h0M285.5 79h0M284.3 82h0M288.7 87.3h0M281.5 84.2h0M277.9 86.5h0M283.6 84.2h0M284.6 83.1h0M278.9 82.9h0M285.7 88.5h0M283.2 83.3h0M283.8 85.5h0M288.5 85.1h0M281.9 81.4h0M282.7 85h0M282.9 81.2h0M292.7 84.2h0M278.1 94.6h0M276.4 88.6h0M280.4 89.7h0M284.7 81.8h0M291.6 78.9h0M283.7 83.6h0M289 83.5h0M280.6 89.3h0M294.3 83h0M282.6 85.5h0M276.5 87.4h0M289.1 89.6h0M274.9 92h0M277.4 82.5h0M283.1 89.4h0M286.4 83.8h0M282.3 86.4h0M281 85.9h0M288 89.3h0M289.1 86.1h0M288 78.8h0M286.5 83.2h0M280.5 87.5h0M283.3 88.3h0M288.4 88.8h0M280.8 91.7h0M286.2 84.2h0M286.6 84.5h0M288.3 87.2h0M288.6 82.5h0M277.6 87.4h0M284.2 87.3h0M285.6 85.1h0M280.4 87.8h0M283.7 90.8h0M284.5 88.8h0M289.8 75.4h0M290.3 80.6h0M278.9 85.2h0M283.4 87.2h0M282.7 87.2h0M288.9 83.9h0M295.9 83.5h0M284.9 83.6h0M285.7 76.1h0M282.1 94.1h0M288 80.3h0M289.6 79.1h0M285.5 81.6h0M286.6 89.7h0M278.8 86.4h0M282.9 93.5h0M280.1 85.7h0M283.9 83.4h0M276.1 86.2h0M284.4 85.7h0M280.6 91.3h0M280.9 88.2h0M287.8 84.7h0M290 82.3h0M277.7 85.5h0M285.3 89.3h0M279.2 91.5h0M275.4 83.8h0M282.1 85.5h0M285.1 90h0M288.7 84.9h0M278.2 80.7h0M284.2 86.7h0M281.4 84.4h0M284.6 83.2h0M284.8 83.8h0M282.4 80.7h0M281.7 83.4h0" stroke="#2ca02c" stroke-width="1.2" stroke-linecap="round" stroke-opacity="0.65"/>
<path d="M280.2 86.9h0M283 79.5h0M286.4 89.1h0M282.8 86.4h0M280.8 88.5h0M286.7 88.6h0M281.2 87.4h0M286.3 82.4h0M285.9 76.1h0M281 83.7h0M285.2 84h0M282.7 85.4h0M287.3 89.2h0M284.5 91.6h0M274.5 89.8h0M284.5 84.4h0M290.5 85.1h0M279.2 86.9h0M277.8 86.6h0M290.7 80.8h0M290.2 86.3h0M279.6 89.9h0M292.3 83.5h0M284.3 91.8h0M285.8 82.9h0M281.6 92.7h0M286.1 80.2h0M281.9 87.2h0M287.3 83.5h0M280.8 81.4h0M289.6 87.9h0M280.1 86.8h0M282.8 82.9h0M286.7 81.4h0M286.8 88.1h0M283.8 84h0M285.7 81.7h0M284.9 91.9h0M288.8 82.8h0M285.9 87.7h0M281.2 86.4h0M275.3 92.5h0M289 78.7h0M286.5 83.3h0M278.4 85.1h0M277.5 84h0M287.9 84.9h0M279.3 87.5h0M283.5 80.7h0M279.3 83.8h0M284.6 86.7h0M286.2 84.3h0M284.8 87.3h0M293.5 84.4h0M280.1 86.6h0M284 84h0M286.7 83.8h0M292.6 81.2h0M287 82.2h0M286.8 84.8h0M283.3 85.8h0M279.5 82.5h0M285.5 84.9h0M290.2 83.8h0M293 81.3h0M285.9 84.2h0M275.7 91.5h0M283.7 90.7h0M282.5 83.2h0M282.1 91.2h0M281.7 88.2h0M282.2 82.7h0M281.6 83h0M283.9 83.3h0M285.2 84.2h0M287 82.7h0M286.3 78.8h0M294.3 86.1h0M276.5 87.3h0M287 74.7h0M287.7 86.9h0M283.6 82.3h0M284.6 85.8h0M279.8 84.5h0M283.9 76.2h0M284.5 86.3h0M288 81.3h0M282.7 90.8h0M281.8 87h0M282.8 90.9h0M276.2 84.9h0M275 84.3h0M287 78.4h0M287.1 80.1h0M290.5 81.1h0M279.9 90h0M280.4 97.5h0M289.5 85.5h0M282.1 80.4h0M281.8 86.5h0M284.6 83.7h0M283.5 85h0M274.9 86.1h0M278.7 87.2h0M283.6 87.1h0M280 83.7h0M278.9 85.6h0M290.4 86.2h0M288.9 82.3h0M288.4 79.3h0M285.6 76.5h0M277.9 90.8h0M282 89.1h0M282.2 80.7h0M288.4 87.4h0M280.4 89.6h0M280.6 85.6h0M278.2 89.5h0M276.1 90.9h0M278.7 81.2h0M276.6 88.2h0M282.4 90.9h0M280.9 79.8h0M282.4 84.7h0M280.7 84.1h0M292.6 79.4h0M279.2 89.2h0M288.2 81.4h0M283.2 90.9h0M278 85.9h0M287.2 81.2h0M278.7 85.3h0M280.1 91.5h0M282.9 83.7h0M288.4 87.8h0M286.5 81h0M289.8 81.9h0M289.8 82.4h0M283.4 92.4h0M289.4 85.5h0M280.9 85.7h0M289.1 80h0M287.8 84h0M283.8 82.9h0M283 86h0M285.6 81.7h0M274.6 88.8h0M286.3 82.8h0M282.8 87.8h0M285.8 89.2h0M279.6 91.5h0M289.1 81.6h0M280.8 91.2h0M284.8 89.5h0M281.1 85.4h0M283.8 80.1h0M294.4 83.6h0M287.7 86.9h0M278.3 85.9h0M285.2 83h0M281.4 89.5h0M279.7 90.1h0M281.5 86.1h0M291.5 80.7h0M280.2 80.8h0M288.1 86.2h0M281.4 83.6h0M285.5 85.3h0M283.2 83.5h0M283.6 84.6h0M288.6 87.5h0M279.6 84.1h0M277.2 85.9h0M283.7 79.2h0M284.1 83.3h0M285.2 86h0M285.8 87.7h0M283 88h0M288.5 84.5h0M282.5 83.9h0M278.6 89.6h0M285.7 90.9h0M285.8 87.1h0M281.8 86.7h0M287.8 90h0M280.8 89.7h0M287.4 81.3h0M285 82.9h0M279.2 93.8h0M275.5 84.7h0M287.8 83.1h0M289.8 83.8h0M278.8 84.1h0M276.5 90.8h0M284.5 91.9h0M281.7 87.1h0M282.1 85.2h0M284.2 82.5h0M288.7 85.7h0M280.4 90.6h0M284.9 80.7h0M283.4 84.5h0M290.3 78.8h0M280.4 90h0M286.5 90.1h0M289 82h0M277.3 91.1h0M284.5 82.4h0M285.3 87.9h0M282 88.2h0M287.6 80.5h0M285.8 87.6h0M282.6 85h0M282.8 82.1h0M281.8 78.8h0M276.5 89.6h0M282 87.4h0M281.7 88h0M283.9 84.6h0M286.1 84.4h0" stroke="#2ca02c" stroke-width="1.2" stroke-linecap="round" stroke-opacity="0.65"/>
<path d="M286.9 84.7h0M290.9 88h0M290 87.7h0M281.5 86.8h0M283.8 88.5h0M284.7 87.3h0M281.8 78.7h0M286.8 88.1h0M289.4 87.9h0M279.6 91.6h0M292.6 79.2h0M277.5 87.2h0M281.1 87.4h0M276.3 85.7h0M284.4 82h0M282.2 90h0M279.9 83.1h0M286.1 82.8h0M285.1 81.7h0M282.1 85.4h0M281.1 92.6h0M284.9 81.6h0M277.9 88.6h0M284.7 88.5h0M290.6 83h0M278 88.7h0M284 87.4h0M286.6 80.4h0M287.6 88.3h0M288.2 81.4h0M278.8 82.2h0M286.3 84.5h0M287.1 85.1h0M284.1 91.8h0M282.6 81h0M278 95.8h0M281.8 84.8h0M277.6 92.2h0M279 89.1h0M285.7 82.6h0M283.2 89.2h0M284.4 87.3h0M289.3 81.3h0M289.8 83.7h0M280.5 80.3h0M295.8 81.8h0M282.9 81.5h0M285.4 89.7h0M287.7 88.1h0M289.5 82h0M279.8 89.2h0M281.6 93h0M280 83.8h0M288.4 73.8h0M279.9 82.7h0M289.2 85.3h0M283.8 77.9h0M287.9 74h0M289.4 75.8h0M285.9 80.6h0M292.3 81.1h0M288.9 86.8h0M286.7 90.1h0M288 86.5h0M282.4 87.7h0M289.1 77.8h0M280.3 89.5h0M277.7 83.7h0M283 81h0M280.5 89.9h0M277.6 88.5h0M284.5 85.8h0M286.9 84.3h0M278.5 84.1h0M285.7 91.4h0M291.9 79.7h0M287.3 79.1h0M288 86.3h0M285.5 81.2h0M285.3 86.9h0M286 85.5h0M282 88.6h0M280.9 82.9h0M291.7 83.8h0M288 85.9h0M287.7 83.4h0M278.8 90.9h0M285.8 82.3h0M286.8 80.4h0M284.9 93.4h0M288.2 89.5h0M286.7 88.3h0M280.7 93.4h0M282.5 82.5h0M286.1 92.7h0M285.1 82.4h0M281.3 86.4h0M284.5 88.2h0M286 84.1h0M289.4 83h0M284.9 87.1h0M283.8 87.7h0M289 82h0M281.7 80h0M283.1 80.8h0M282.4 90.4h0M283.1 79.9h0M285.9 85.1h0M284 92.6h0M278 93.2h0M286 84.6h0M287 83.5h0M284.2 87.3h0M278.2 81.5h0M282.4 79.3h0M290.2 79.8h0M281.3 92.5h0M281.5 90h0M285.8 74.4h0M274 85.2h0M284.9 87.5h0M285.6 85.2h0M290.6 80.4h0M289 84.2h0M284.9 85.1h0M283.2 86.1h0M286 73.7h0M285 80.4h0M282.9 95.2h0M283.9 86.4h0M283.4 85.7h0M283.4 78.4h0M279.3 91.5h0M279.5 90h0M286.6 84.1h0M279.7 87.8h0M286.9 87.4h0M280.5 88h0M287.3 78.1h0M286 89.5h0M288.3 81.4h0M278.9 84.2h0M284.7 90.8h0M286.2 84.2h0M281.8 89.6h0M291.7 86.2h0M289 85.4h0M286 80.6h0M288 80.8h0M280.1 89.2h0M284.8 87.1h0M280.6 89.6h0M285.6 83.2h0M281.3 84.6h0M273.2 90h0M276.7 90.4h0M291.3 82.5h0M278.9 86.7h0M279.7 95.1h0M281.8 87h0M287.9 84.4h0M286.7 86.5h0M283 90.4h0M283.6 85.2h0M290.2 81.7h0M282.5 84.5h0M280.8 86.9h0M275 87.1h0M278.1 83.9h0M287.6 83.2h0M283.6 85.7h0M286.9 88.2h0M281.5 79.8h0M278.5 90h0M277.1 86.1h0M279.7 82.2h0M290.1 88.7h0M279.7 89.7h0M290.3 80.1h0M279.6 87.9h0M281.9 87.6h0M281 81h0M291 86h0M282.4 85.6h0M281.6 88.9h0M288 87.4h0M290.7 85.2h0M279.6 85.4h0M287.7 86.1h0M279.8 87.8h0M282.7 91.1h0M280 81.9h0M281.1 87.9h0M282.4 86.2h0M294.2 82.3h0M281.4 84.1h0M279.1 81.8h0M287.3 82.2h0M282.1 85h0M290.7 81.7h0M282.1 87.4h0M278.7 82.3h0M275.2 87.6h0M285 90.1h0M283.3 80.7h0M274.4 91.1h0M284.4 86.6h0M282.9 80.7h0M285.2 82h0M288.8 87h0M283.8 80.1h0M284.7 84.6h0M284.9 82.7h0M283.5 91.6h0M288.4 84.4h0M283.2 85.2h0M289.1 79.4h0M281.8 86.1h0M280.3 82.4h0M278.2 93.1h0" stroke="#2ca02c" stroke-width="1.2" stroke-linecap="round" stroke-opacity="0.65"/>
<path d="M302.4 63.7h0M297.9 76.4h0M295.8 71.9h0M296.4 84.9h0M293.7 75.5h0M297.8 72.8h0M296.6 72.7h0M303.7 70.4h0M302.5 62.9h0M295.4 72.2h0M290.7 81.2h0M292.7 86.1h0M297.5 71.4h0M295.3 66.1h0M294 73.8h0M294.5 79.1h0M302.3 65.1h0M292.4 74.7h0M296.3 71.3h0M297.4 66.2h0M295.9 71h0M298.2 78.5h0M290.2 70.9h0M294.7 73.2h0M296.2 73h0M294.6 82.7h0M292.3 75.4h0M292.9 79.1h0M296.3 62.7h0M295.1 77.2h0M293.7 80.9h0M296.1 79.8h0M298.1 69.9h0M294.1 69.4h0M299.7 68.5h0M292.3 80.3h0M298 74.8h0M294.4 81.6h0M303.6 67.5h0M300.8 68.8h0M290.3 79h0M295.5 73.4h0M302.7 73.8h0M291 69.3h0M294.9 76.6h0M292.6 75.9h0M298.6 70.2h0M305.1 73.3h0M301.2 76.4h0M298 76.7h0M295.7 72.2h0M294.8 82.8h0M303.5 67.4h0M300.9 75.4h0M300 76.4h0M297.9 69.1h0M297.7 75.6h0M297.4 73.2h0M294.9 75.6h0M292.7 73.2h0M293.1 76.5h0M295.3 75.8h0M299 73.6h0M299.7 73.1h0M290.6 76.6h0M297.8 75.3h0M290.3 81.9h0M293.2 80.8h0M296.4 75.4h0M301.4 72.9h0M300.5 62.5h0M293 76.7h0M300.1 71.9h0M302.6 74.8h0M293 69h0M296.7 81.5h0M294.6 75.7h0M297.8 67.5h0M293.1 71.8h0M289.4 73.2h0M291.8 73.5h0M295.1 74.5h0M298.5 79.6h0M295.6 80.6h0M293.6 71.1h0M294.9 74h0M299 69.5h0M296.6 78.5h0M304.2 73.9h0M297.1 68.5h0M303.6 67.7h0M296.6 78.4h0M288 74.8h0M289.2 75.7h0M297.2 75.1h0M295 77.4h0M299 71.7h0M306 66.2h0M293.3 64.9h0M302.6 64.8h0M300.7 65.7h0M293.6 82.2h0M294.4 77.7h0M306.3 67.7h0M295.7 84.1h0M302.7 65.8h0M295.9 73.6h0M297.7 67h0M298 66.7h0M287.6 75.4h0M292.1 76.7h0M299.4 74.7h0M294.4 79.5h0M298.4 80.5h0M297.1 74.7h0M297.7 72h0M297.2 67.4h0M301.9 68.8h0M297.3 74.3h0M298 70.9h0M295.4 70.8h0M297.5 75.7h0M302.3 70.5h0M297.4 77.5h0M297.3 73.7h0M297.1 70.3h0M303.1 68h0M292.2 86h0M290.5 84.2h0M292.5 72.5h0" stroke="#ffbb78" stroke-width="1" stroke-linecap="round" stroke-opacity="0.45"/>
<path d="M299 80.4h0M301 71.9h0M296.6 64.7h0M296 77.1h0M302.1 62.4h0M299.1 64.2h0M297.2 74.7h0M295.8 73h0M302.5 63.5h0M302.5 71.5h0M300.8 75.5h0M295.5 77.9h0M299.1 70.8h0M300.1 80.3h0M297 75.8h0M295.4 73.4h0M302.8 63.7h0M290.5 82.1h0M295.3 76.7h0M292.2 67.3h0M296.9 66.8h0M294.8 70h0M302 61.3h0M292.8 78h0M294.3 73.8h0M296.8 69.2h0M296.9 84.2h0M294.7 69.8h0M294 76.7h0M296.6 76.6h0M299.9 69h0M296.4 80.5h0M291.2 79h0M302.4 62.1h0M292.9 72.6h0M297.7 78.1h0M289.4 81.2h0M299.6 76.1h0M298.3 76.1h0M290.3 81.1h0M290.2 73.1h0M298.9 71.6h0M294.3 70.1h0M294.8 76.9h0M297.4 64.5h0M296.9 68.9h0M306.8 64.1h0M301 67.3h0M292.2 82.2h0M297.4 64.6h0M298.2 70.8h0M300.3 74h0M293.4 81.2h0M306.1 63h0M299.3 67.9h0M301.7 65.9h0M298.6 74h0M288.1 81.8h0M298.8 69.2h0M289.3 74h0M298.2 77.6h0M299.3 63.8h0M297.1 77.5h0M292.7 71.4h0M298.5 63.6h0M299.7 65.1h0M296.3 71.1h0M306 64.9h0M298.3 76.5h0M300 72.3h0M296.2 71.2h0M306.1 70.1h0M294.8 79.4h0M295.2 73.6h0M298.9 77.6h0M297.2 66h0M296.4 71.3h0M290 83.4h0M295 78.7h0M300.3 69.8h0M300.8 70.5h0M295.7 69.5h0M288.8 82.2h0M299.6 76.7h0M292.5 77.2h0M307.3 71.9h0M300.4 66.1h0M299.7 76.8h0M296.2 77.1h0M299.7 81.4h0M290.2 75.6h0M294 76.7h0M298.5 72.1h0M298.8 83.8h0M289.4 73.1h0M290.5 78.3h0M292.4 79.7h0M295.3 70.8h0M304.6 65.2h0M291.2 73h0M295.1 84.7h0M298.9 70h0M291.4 82.2h0M295.9 79.9h0M293.6 65.3h0M291.1 76.2h0M295.6 70.4h0M297.1 68.1h0M295.6 68.6h0M286.4 75.8h0M299.1 83.4h0M297.4 81.2h0M305.6 68h0M300.2 66.9h0M293.1 76.3h0M302.7 74.8h0M298.5 75.3h0M297.8 73h0M292.2 70.4h0M303.7 70.6h0M303.1 67.4h0M293.9 68.1h0M294.7 70.4h0M300.8 72.7h0M300.7 72h0M294 74.8h0M297.7 76.7h0M298.4 80.3h0M296.3 71.7h0M295.4 71.2h0" stroke="#ffbb78" stroke-width="1" stroke-linecap="round" stroke-opacity="0.45"/>
<path d="M297.4 73.7h0M297.1 65.3h0M298 65.5h0M292.9 72.7h0M301.5 71.4h0M299.8 60.6h0M293.1 76.7h0M301.2 77.6h0M294.7 71.3h0M300.8 69.3h0M293 74.4h0M295 66.5h0M300.9 66.3h0M291.1 72.7h0M298.9 69.9h0M297.6 74.7h0M297.7 67.2h0M291.8 77.3h0M291.5 81.3h0M304.1 65.3h0M303.8 67.8h0M297.9 75.1h0M293.4 75.5h0M295.5 70.7h0M299.4 75.9h0M292.6 82.5h0M295.3 81.6h0M295.9 73.9h0M296.6 69h0M294.5 64.9h0M301 77.6h0M293.9 77.6h0M292 77.6h0M287.4 80.7h0M294.7 72.5h0M291.1 83.1h0M295.5 74.4h0M294.7 71.3h0M294 68.8h0M295.5 69.2h0M301.6 66.4h0M293.8 73.4h0M300.8 71.8h0M295.8 73.4h0M294.4 63.3h0M301.4 71.9h0M293 75h0M288.4 77.1h0M296 81.5h0M296.5 81.6h0M294.4 78.5h0M296.6 76h0M295.2 73.8h0M298 76h0M298.3 77.4h0M294.3 82.3h0M304.5 72.3h0M289.1 80.2h0M297.5 67h0M303.6 72.2h0M302.6 69.9h0M298.2 72h0M304.2 66h0M303.4 74.1h0M295.5 63.6h0M294.4 74.5h0M301.9 70h0M293.6 71.3h0M300.4 65.5h0M291.3 70.3h0M298.1 82.2h0M301.2 75.3h0M300.3 69.7h0M298.9 73.9h0M298.7 67.4h0M299.5 68.3h0M301.3 71.6h0M297.5 68h0M298.7 74.7h0M298.3 67.1h0M299.1 64.5h0M293.9 70.6h0M295.9 81.3h0M300.7 66h0M305.6 60.7h0M294.9 72.5h0M292.3 77.6h0M295.4 83.8h0M299 65.3h0M294.2 71.3h0M299.6 66h0M297.8 80.2h0M301.2 67.9h0M294.7 76.3h0M301 67.4h0M291.4 84.8h0M295.5 79.5h0M300.9 79.8h0M297.3 73.5h0M299 69.3h0M298.7 72.5h0M296.6 79.3h0M294.5 77.9h0M304 71.3h0M301 80.5h0M295.9 60.1h0M298.6 68h0M296.2 71h0M302.9 61.4h0M288.8 76h0M294.9 76.4h0M297.3 67.8h0M295.9 80.2h0M298.7 74.6h0M297.2 77.1h0M295.2 79.5h0M306.7 62.2h0M294.9 76.7h0M306.7 68.6h0M295 64.6h0M291.5 77.1h0M293.6 79.1h0M292.5 82.7h0M304.1 69.9h0M299.1 71.7h0M297.1 74.9h0M291.3 78.5h0M300.1 76.6h0M294.9 70.2h0M290.8 71.8h0" stroke="#ffbb78" stroke-width="1" stroke-linecap="round" stroke-opacity="0.45"/>
<path d="M303.6 67.2h0M298.8 64.8h0M298.2 72.7h0M300.2 69.1h0M302.1 65.5h0M300.8 64.5h0M295.5 73h0M298.2 74.2h0M302 72h0M306.9 63.1h0M290.2 79.1h0M291.1 79.4h0M299.7 74.9h0M300.5 65.8h0M303.3 64.4h0M287.9 82.9h0M293.4 76.4h0M294.3 86.2h0M295.1 78.9h0M288.4 87.5h0M292.2 81.9h0M292.4 66.2h0M306.3 71.4h0M300.2 74.1h0M293.6 76.1h0M302.8 78.3h0M288.5 87h0M303.5 72.4h0M293.8 76.9h0M295.7 69.2h0M305.7 71.5h0M298.5 78.6h0M299.5 70.2h0M302 62.9h0M293.7 72.3h0M297.3 77.1h0M305.1 69.3h0M294.6 68.8h0M299.5 79.4h0M296.3 76.9h0M308 68.9h0M291.3 80.4h0M294.7 65.2h0M304.8 69.3h0M302.6 63.9h0M293.9 74.4h0M293.4 78.5h0M296.6 71.4h0M298.3 84.7h0M298.9 71.7h0M297.4 75.6h0M289.2 85.6h0M299.6 72.3h0M301.8 67.8h0M301 76.1h0M287.1 84.4h0M296.6 83.5h0M298.5 76.3h0M298.9 70h0M292.2 83.4h0M302.4 64.5h0M292.8 80.1h0M296.4 78.6h0M303.2 59.3h0M291.7 79.1h0M296.6 85.7h0M298.4 75.2h0M288.3 82.4h0M292 73.6h0M298.3 80h0M290 81.4h0M293.4 78.3h0M292.7 80.9h0M293.5 76.6h0M294.8 86.1h0M299.3 65.8h0M301 77.9h0M294.6 87.5h0M292.2 67.6h0M304.4 66.9h0M294.5 88.8h0M296.5 77h0M302.7 72h0M298.9 67.4h0M305 65.7h0M304.6 66h0M301.5 66.9h0M292.5 73.1h0M295.7 80.4h0M304.8 59.5h0M299.2 69.3h0M295.3 74h0M295.2 70.7h0M298.1 81.9h0M292.6 69.3h0M286.3 80.9h0M303.1 73.3h0M292.2 73.1h0M299.9 65.2h0M286.6 81.1h0M297.7 69h0M296 76.6h0M296.1 72h0M295.1 82.2h0M300.6 79.2h0M293.3 75.5h0M296.5 65.6h0M294.4 75.8h0M290.9 73.1h0M303.5 70.9h0M292.2 80.8h0M289.2 82.9h0M293 65.9h0M303.3 65.1h0M294.7 73.8h0M294.4 67.8h0M296 70.9h0M294.6 82.6h0M295.6 77.7h0M286.4 84.1h0M294.1 71.4h0M291.5 75.1h0M302.2 73.9h0M294.6 64.1h0M295.7 62.9h0M296.5 70h0M289.1 83.2h0M288.8 87h0M295.7 67.6h0M300 68.6h0" stroke="#ffbb78" stroke-width="1" stroke-linecap="round" stroke-opacity="0.45"/>
<path d="M293.6 73.4h0M297.4 66.7h0M290.3 75.4h0M298.9 71.9h0M303.6 61.5h0M303.1 59.1h0M306.6 64.6h0M301.2 69.1h0M300.5 71.8h0M295.7 74h0M291.4 81.8h0M297.7 66.8h0M297.1 80h0M294.2 78.3h0M292.7 81.2h0M297.7 70.2h0M298.4 75.9h0M296.7 67.6h0M287.1 83.9h0M311.1 64.2h0M292 78.2h0M287.4 79.1h0M296.1 80.1h0M292.6 78.3h0M304.3 64.3h0M299.8 73.2h0M300.9 69.4h0M292.5 72.4h0M299.7 73.5h0M295.4 79.5h0M291.6 75.7h0M305.1 73.9h0M302 67.5h0M298 73.9h0M295.7 68.9h0M300.3 67.4h0M295.7 82.4h0M290.4 77.3h0M296.1 79.1h0M296 74.4h0M292.8 76h0M299 74.2h0M300.8 76.2h0M299.5 60.9h0M295.1 87.3h0M301.5 70.9h0M301.4 69.1h0M293.3 83h0M286.7 83.8h0M301 66.7h0M298.1 73.2h0M291.4 76.2h0M300.6 66h0M292.4 82.7h0M294.5 75.6h0M304.5 70.6h0M306.9 70.6h0M301.1 67.9h0M295.3 73.1h0M287 85h0M294.5 77.1h0M293.9 77.6h0M298.1 68.8h0M298.5 74.6h0M290.6 77.8h0M300.9 69.8h0M301.4 80.1h0M298.5 74.2h0M291.9 82.1h0M295.3 70.9h0M298.1 76.7h0M296.3 68.1h0M297.3 78.1h0M295.6 81.6h0M289.6 86.3h0M296.8 84.4h0M297.7 56.4h0M297.4 75.3h0M300.5 77.7h0M300.5 78h0M300.3 84h0M299.4 69.5h0M294.8 76.9h0M294.7 77.7h0M286.1 79.2h0M299.1 72h0M304.4 59.9h0M300.2 71.7h0M301.8 71.4h0M295.1 71.7h0M292.5 79h0M305.3 64.8h0M296.7 74.2h0M291.9 74.1h0M303.8 66.7h0M309.5 67.3h0M290.9 78.5h0M297.6 70.6h0M293.5 81.1h0M294.4 72.9h0M292.2 84.2h0M293.5 64.4h0M293.6 72.1h0M292.2 75.9h0M294.9 72.1h0M302 61h0M299.9 73.1h0M300.2 63.6h0M297.2 69.1h0M296.2 74.8h0M299.6 66.6h0M302.6 61.8h0M292.5 66h0M292.3 76.4h0M298.2 72.1h0M287.1 79.2h0M294.2 80h0M297.9 72.8h0M304.5 70.8h0M295.6 69.5h0M291.7 86.4h0M294.6 84h0M299.3 73.1h0M288 84h0M298.5 71.6h0M304.2 72h0M296.3 70.2h0M297.4 71.2h0M295 75.1h0M293.9 71.9h0" stroke="#ffbb78" stroke-width="1" stroke-linecap="round" stroke-opacity="0.45"/>
<path d="M300.4 69.6h0M294.8 77.1h0M297.9 75.4h0M289.2 79.5h0M297.2 75.4h0M296.8 69.3h0M296.7 73.5h0M297 71.4h0M292.8 73h0M297.1 69.8h0M300.8 71.7h0M303.1 70.7h0M299.2 64.2h0M299 75h0M300.4 68h0M297.2 75.7h0M298.4 69.9h0M296.1 75.6h0M295.4 73.4h0M297 72.7h0M301.4 72.8h0M295.4 80.1h0M297.1 73h0M299.7 71.8h0M302.4 67.6h0M294.5 72.2h0M296.5 75.9h0M295.7 76.7h0M300.1 77.9h0M294 75.4h0M294 81h0M298.8 70.9h0M294.2 74.3h0M292.6 76.1h0M297.1 72.3h0M294.6 77.5h0M295.9 73.4h0M292.9 78.9h0M292.7 79.7h0M303.9 65.8h0M303.6 65.4h0M293.4 80.5h0M299.7 64.9h0M295 74.8h0M300.4 74.9h0M298.2 76.4h0M297.6 77.8h0M298.1 68.5h0M290.3 77h0M295.6 72.2h0M303.3 64.6h0M294.4 76.3h0M299 70.7h0M298.6 70.9h0M299.3 75.9h0M295 80.1h0M298.3 76.7h0M297.4 70.2h0M295.9 74.3h0M300.4 68.6h0M295 78.4h0M297.4 72.5h0M295.3 81.7h0M295.4 71.5h0M295.7 69.4h0M300.7 64.1h0M293.5 76.5h0M297.6 66.3h0M299 68.4h0M301.7 70.9h0M301.5 74.3h0M294.2 75.4h0M296.5 76.9h0M295.4 72.8h0M298.7 74.2h0M300.6 70.5h0M302.4 73.3h0M294 69.5h0M294.8 76.4h0M296.6 67.6h0M300.2 72.5h0M297.4 73.3h0M297.4 75.3h0M296.3 72.7h0M290.4 80.6h0M301.2 69.9h0M298.4 78.7h0M296.9 68.1h0M296.3 75.1h0M296.7 78.2h0M295.8 73.6h0M297 74.2h0M298.4 70.3h0M295.2 71.2h0M294.2 78.6h0M297.4 72.1h0M296.3 70.9h0M299.5 68.1h0M293.1 74.3h0M301.2 68.3h0" stroke="#ffbb78" stroke-width="1.1" stroke-linecap="round" stroke-opacity="0.6"/>
<path d="M297.4 76.6h0M295.9 68.3h0M300.3 75h0M298.3 70.8h0M296.7 71.1h0M298.4 70.8h0M301.1 67.2h0M299.6 67.5h0M297.5 72.6h0M295.2 78.5h0M301 68.2h0M296.9 75.8h0M301 74.8h0M295.6 75.9h0M301.7 71.9h0M296.5 74.4h0M298.3 74.2h0M299.3 66.6h0M295.5 70.8h0M292.5 78.8h0M295.6 77.3h0M301.6 73.8h0M300.8 75.7h0M295.7 73.1h0M299.8 75h0M295.9 77.5h0M298.4 64.2h0M297.1 68.2h0M300.7 72.2h0M299.4 73.4h0M301.1 68.1h0M295.7 76.7h0M292.5 76.3h0M295 75.6h0M295 80.1h0M295.3 66.1h0M301.1 67.8h0M294.8 76.6h0M299.1 73.3h0M295.2 79.4h0M297 71h0M298 75.7h0M294.8 66.9h0M297.8 75.9h0M297.5 72.5h0M296.6 74.6h0M295.8 64.9h0M300.2 76.1h0M301.9 75.3h0M295 73.4h0M299.8 69h0M298.4 71.4h0M301.1 70.2h0M299.8 70h0M296.8 70.4h0M296.2 72h0M295.8 74.7h0M291.3 77.9h0M296.6 70.9h0M295 75.2h0M295 78.7h0M295.1 79.1h0M296.3 72.9h0M302.6 67h0M291.6 78.3h0M297.1 72.9h0M300.5 69.1h0M290.9 74.6h0M296.6 76.2h0M297 69.8h0M300.8 66.9h0M296.6 76.1h0M294.9 82.6h0M298 72.7h0M301.8 70h0M292.4 76.8h0M296 77.4h0M294.3 69.3h0M294.1 81.4h0M295 68.4h0M291.2 77.6h0M298.4 73.5h0M299.3 73.1h0M297.9 76.9h0M299.8 63.8h0M291.4 75.8h0M298 71.9h0M299.1 74.5h0M297.2 69.4h0M294.7 80.3h0M298.8 70.2h0M294.5 74h0M300.4 73.4h0M302 68.1h0M300 67.5h0M291.2 81h0M296.6 78.2h0M295.4 74.2h0M297.6 75.8h0M295.4 75.4h0" stroke="#ffbb78" stroke-width="1.1" stroke-linecap="round" stroke-opacity="0.6"/>
<path d="M294.4 71.5h0M300.3 68.1h0M292.5 79.2h0M295.3 73.1h0M291.8 80.7h0M294 75.2h0M299 64.3h0M293.6 75.4h0M297.3 71.7h0M301.2 68.6h0M298.8 67.5h0M293.3 74h0M295.7 76.1h0M290.3 76.6h0M298.4 70.1h0M294.4 76.8h0M298.9 70.2h0M299.3 75.8h0M296.7 71.1h0M296.6 69.6h0M298.3 65.7h0M292.8 74.5h0M297.2 79.8h0M299.6 68.6h0M296.4 70.5h0M295.7 80.7h0M295.7 77.6h0M299.4 73.7h0M295.2 69.4h0M292.6 76.7h0M293.2 70.7h0M293.4 76.8h0M298.2 71.9h0M296.2 71.8h0M297.5 72.6h0M297.5 74.1h0M296.5 75.3h0M298.6 61.4h0M293.4 77.2h0M293.5 76.9h0M291.9 77.4h0M293.4 82.9h0M295.2 82.3h0M294.4 74.9h0M293.2 76.8h0M293 80.4h0M300.6 72.6h0M299 73.1h0M300.2 70.7h0M296.1 70.8h0M300.6 67.3h0M296.3 73h0M297.4 76.1h0M295.2 75.8h0M298.7 73.9h0M298.9 79.8h0M294.6 74.9h0M296.2 73.1h0M299.4 73.9h0M293.2 71h0M295.3 75.5h0M297.6 75.3h0M301.9 64.1h0M300.4 72.7h0M295.5 78.3h0M296.4 73h0M293.8 76.6h0M298.7 74.6h0M298.6 70.1h0M301.2 68.2h0M296.1 73h0M296 68.2h0M295.5 72.7h0M297.9 73.9h0M300.7 74.6h0M297.4 72h0M298.1 69.8h0M293.7 81.2h0M294.5 73.3h0M297.6 68.3h0M298 72.4h0M295.7 81h0M298.6 73.1h0M298.2 72.4h0M297 74h0M295.4 71.7h0M298.8 78.6h0M293.3 75.2h0M299.3 66.4h0M294.3 78.4h0M294.1 76h0M298.1 71.1h0M293.9 79.1h0M293.9 75.2h0M295.6 71.6h0M294.9 68h0M296.9 77.7h0M294.1 76.1h0M294.5 73.9h0M294.5 77.4h0" stroke="#ffbb78" stroke-width="1.1" stroke-linecap="round" stroke-opacity="0.6"/>
<path d="M291.8 91h0M292 89.4h0M297.2 90.3h0M297 83.1h0M300.1 81h0M293.1 88.2h0M296.3 87.7h0M296.8 90h0M299.2 91.2h0M298.4 85.7h0M300.2 84h0M296.8 85.5h0M292.5 86.7h0M293 85.9h0M291.7 85.4h0M292.9 87.1h0M293.8 85.7h0M297.3 85.9h0M294 87.2h0M292.7 88.1h0M297.9 86.5h0M300.7 84.1h0M299.9 81.7h0M301.2 84.9h0M296 88.5h0M291.5 81.5h0M294.4 81.7h0M290 83.9h0M296.9 81.7h0M298.8 83.8h0M292.6 83.1h0M298 84.7h0M299.1 87.5h0M302.6 86.7h0M296 85.1h0M300.9 85h0M292.4 91.5h0M301.7 82.8h0M299.9 86.1h0M297.1 85.3h0M299.2 91.5h0M298.5 87.7h0M299.1 85.3h0M290.6 85.6h0M303.6 81.5h0M293 83.5h0M302.9 83.1h0M290.9 82.4h0M295.9 84.9h0M298.2 89.5h0M290.5 89.5h0M297.6 84.2h0M298.3 86.7h0M301.7 84.4h0M296.1 87.3h0M294.5 86h0M294.6 82.9h0M301.5 90.3h0M301.6 86.5h0M300.4 89.1h0M296.6 87.5h0M297.7 83.3h0M292.6 87.2h0M301 89.3h0M294.1 83.4h0M299.3 87.5h0M296.9 86.4h0M294.8 87.6h0M295.8 85.2h0M298.1 88h0M294.2 83.6h0M297.8 87.4h0M290.7 84.7h0M290.2 85.8h0M296 86.2h0M293 83h0M298.7 90h0M289.2 86h0M289.4 86.3h0M301 81.8h0M296.5 83.2h0M298.7 90h0M295.9 88.2h0M300 84.7h0M300.1 84.8h0M291 85h0M296 90.5h0M297.9 84.9h0M299.3 87.8h0M290.8 88.6h0M297.1 81.9h0M295.8 87.4h0M296.9 86.9h0M294.9 83.1h0M291.8 85.5h0M296.7 82.2h0M293.2 85h0M296.2 86.4h0M301.5 84.4h0M298 86.1h0M296.4 88.3h0M300.9 89.4h0M292 81.6h0M300 85.8h0M295.3 83.1h0M293 80.5h0M291 86h0M293.2 87.2h0M290.9 91.8h0M297.9 86h0M296 90.1h0M295.8 85.4h0M297.5 91h0M298.1 90.5h0M298.1 87.8h0M297.3 84.4h0M299.1 85.8h0M302.1 87.2h0M293.6 90.5h0M295 89.9h0M293.6 84.4h0M296.4 85.5h0M294.8 87.4h0M299.2 90.9h0M301 81.9h0M293.5 87.2h0M297.4 86.8h0M296.8 86.5h0M297.5 86h0M292.4 87.7h0M295 84.4h0M295.6 89.7h0M296.4 85.8h0M298.2 85h0M298.5 88.6h0M299.9 85.3h0M294.4 89.3h0M295.7 85h0M295.2 86.8h0M296.3 86h0M296.1 91.3h0M291.3 86.4h0M302.8 87.9h0M291.5 81.9h0M296.6 88.7h0M291 85h0M297.1 90.9h0M294.7 90.8h0M300.1 85.4h0M299.9 85.4h0M291.9 89.9h0M295.8 83.1h0M297 84h0M293.1 85.9h0M296.4 85.2h0M296.6 84.4h0M297.8 82h0M294.7 85.8h0M292.7 85.1h0M290.4 82.4h0M301.8 86.1h0M294.4 85.7h0M293.4 89.4h0" stroke="#ff7f0e" stroke-width="1.2" stroke-linecap="round" stroke-opacity="0.65"/>
<path d="M297.1 88.6h0M291.4 85.7h0M299 83.7h0M297.3 79.9h0M299.1 86.5h0M291.5 90h0M292.5 85.8h0M298.9 87.3h0M296.9 80.6h0M300.7 87.8h0M294.3 85.9h0M296.3 89.1h0M302.4 84.5h0M293.5 90.2h0M295.2 89.1h0M297.9 85.4h0M294.5 86.1h0M289.8 88.5h0M301.3 87.8h0M297 88.6h0M297.3 84.9h0M291.4 86.1h0M291.8 89.4h0M296.3 88.6h0M290.9 88.7h0M294.9 86.2h0M294.9 87.6h0M293.9 84.4h0M292.3 84.7h0M300.6 87.9h0M296.5 87.9h0M298.1 85.9h0M291.2 83.3h0M298 81h0M298.5 85.8h0M296 83.8h0M300 86.7h0M301.1 87.5h0M301.6 91.2h0M296.6 83.3h0M296.3 85.4h0M293.7 85.1h0M298.9 89.1h0M299.7 87.1h0M293.1 87.8h0M295.8 83.3h0M295.2 82.9h0M296.4 87.4h0M298.3 85.3h0M300.3 87.8h0M294.9 85.3h0M289.3 85h0M292.3 85.1h0M295.2 85.7h0M296 83.3h0M297.9 86.2h0M293.5 86.5h0M301.7 82.3h0M290.5 84.4h0M297.4 85.9h0M296.5 82.2h0M290.4 87.5h0M296.9 83.5h0M300.6 87h0M299.3 80.6h0M296.2 87.9h0M299.4 84.1h0M299.4 89.2h0M302.4 88.7h0M298.1 85.2h0M299.3 87.8h0M293.5 88.6h0M295.9 86h0M294.5 88.1h0M296 82.3h0M302.7 85.9h0M296.7 85.1h0M293.9 85.7h0M303.8 88.8h0M299.3 84.5h0M295 87.9h0M297 85.7h0M293.4 81.4h0M296.4 81.1h0M297.4 87.4h0M296.8 89.3h0M301.1 88.8h0M299.2 85.2h0M296.2 85.7h0M297.1 84.6h0M299.1 88.3h0M294.9 81.8h0M295.6 83.9h0M292.9 85.3h0M291.7 88h0M294.1 89.7h0M293.8 87.1h0M297.6 83.1h0M294 81.1h0M298.3 87.5h0M297.5 84.4h0M302.4 84.4h0M296.3 86.7h0M295.1 89.5h0M301.2 89.5h0M298 87.1h0M302.2 88.4h0M295.4 87.4h0M294.1 90h0M294.6 83.9h0M294.3 87.9h0M298.8 85.9h0M290.4 88.9h0M303.2 84.9h0M296.7 85.7h0M296.1 86.6h0M298.7 88.9h0M298.7 87.3h0M297.2 83.5h0M295.2 82.9h0M295 86h0M291.9 89h0M298.6 82.6h0M288.8 84.7h0M297.6 88.9h0M299.8 83h0M295.5 87.7h0M296.4 86.5h0M294.3 84h0M292 87.7h0M295.7 87.9h0M289.8 84.9h0M295.8 86.5h0M295.3 86.2h0M297.9 84.7h0M292.1 87.3h0M297.7 86.7h0M299.1 85.3h0M296.1 85.7h0M297.7 84.1h0M295 87.4h0M297.3 85.7h0M294.9 85.9h0M302.1 86.8h0M293.6 84.8h0M303.6 87h0M294.7 85.4h0M296.8 87.1h0M297.7 86.6h0M300.9 81.9h0M299.8 87.6h0M294.3 88.7h0M301 86.5h0M294.7 81.3h0M299 90.4h0M298.2 86.2h0M300.4 85.7h0M297.2 86.8h0M298.2 80.4h0M300 88.6h0M295 86.2h0M293.1 83.6h0M293.9 87.4h0" stroke="#ff7f0e" stroke-width="1.2" stroke-linecap="round" stroke-opacity="0.65"/>
<path d="M298.2 83.2h0M293 83.4h0M294.7 89.3h0M294 84.1h0M295.3 86.5h0M296.1 85.5h0M296.2 91.5h0M299.1 90.3h0M296.5 85h0M298.7 84.5h0M290.6 88.1h0M290.8 88h0M297.3 83.5h0M299.4 90.6h0M295.1 81.9h0M292.8 88.1h0M293.1 89.8h0M303.4 87.3h0M300.6 86h0M295.9 84.2h0M296.8 85.4h0M290.1 86h0M293.6 88.7h0M297.1 86.2h0M297.3 80.7h0M294.1 86h0M298.2 89.1h0M292.6 91.1h0M292.8 84.4h0M298.7 90.8h0M295.7 89.4h0M292.3 83.3h0M296.9 82.9h0M295.6 86.6h0M297.2 86h0M295.5 88.4h0M298.9 83.7h0M294 84.1h0M292.6 83.4h0M289.1 84.6h0M297.2 88.7h0M291.8 86.3h0M297.9 83h0M297.1 84.4h0M299.8 87h0M295.4 84.8h0M301.3 83.4h0M296.1 88.5h0M299.5 82.6h0M300.4 85.2h0M298.3 87.7h0M296.8 87.4h0M296.3 86.9h0M293.5 83.7h0M293.5 91h0M293.4 85.4h0M295.7 88.5h0M292.3 86.1h0M300.7 82h0M291.8 83.3h0M296.9 86.1h0M296.3 80.5h0M298.5 85.3h0M293.1 88.4h0M294.9 84.8h0M295.4 89.1h0M297.9 84.1h0M298.7 83.4h0M301.3 82.3h0M298.4 90.5h0M297.9 81.7h0M299.4 90h0M297.2 81.5h0M292.5 86.6h0M297.9 87.4h0M299.1 91.2h0M291.5 86h0M299.4 90.4h0M299.7 84.9h0M298.1 86.1h0M296.2 86h0M294 80.6h0M297.6 86.9h0M297.1 82.8h0M300.6 85.3h0M293.2 85.7h0M301.2 88h0M296.6 90h0M293.4 84.6h0M294.2 88.6h0M298.8 89.5h0M294.1 85.9h0M292 83.2h0M303.1 87.7h0M293.9 88.2h0M297.1 90.1h0M298.2 88.1h0M300.4 86.1h0M296.7 83.9h0M294.1 88.7h0M299.5 86.8h0M293 86.2h0M294.1 85.6h0M296.2 84.7h0M303.4 91h0M296.7 84.1h0M295.2 84.4h0M298.1 85.4h0M297.2 86.9h0M298.6 85.4h0M292.7 83.9h0M297.1 85.5h0M291.3 84.8h0M298.2 80.9h0M297.5 83.4h0M294.6 88.6h0M295.5 83.1h0M292.9 89.8h0M298.8 83.8h0M296.9 89.1h0M296.7 91.1h0M293.3 85.8h0M297.5 86.8h0M297.1 82.1h0M299.5 84.5h0M296.7 84.4h0M296.1 86.8h0M292.5 88.1h0M290.7 86.7h0M297.9 83.4h0M297.3 85.6h0M293.9 85.4h0M300.6 87.3h0M302 87.2h0M291.1 84.8h0M299.7 86.5h0M296.9 89.7h0M295.6 92.1h0M295.1 81.3h0M292.8 82.4h0M296 87.2h0M302.6 87.8h0M296.1 88.6h0M296.2 88.8h0M293.4 88.7h0M296.7 83.8h0M299.6 87.2h0M298.2 87.8h0M298.2 88.2h0M300.9 86.7h0M292.7 87.1h0M300.4 88.3h0M300.1 88.6h0M300.5 84.9h0M295 84.8h0M300.3 88.3h0M295.6 88.4h0M292.9 83.6h0M294.8 87.1h0M295.1 83.7h0M298.7 85.3h0M295.2 86.4h0" stroke="#ff7f0e" stroke-width="1.2" stroke-linecap="round" stroke-opacity="0.65"/>
<path d="M295.2 88.1h0M301.1 86.4h0M296.9 87h0M298 87.3h0M296.4 86.5h0M295.7 87.6h0M298.9 87.2h0M294.7 84.2h0M295.5 85.5h0M295.8 87.7h0M297.5 86.5h0M296.7 88.1h0M300 88.1h0M293.3 81.9h0M297.9 83.7h0M293.1 83.7h0M298.8 84.8h0M290.7 84.9h0M295.1 81.4h0M292.6 85.5h0M296.5 86.4h0M298.2 84.3h0M292.5 87h0M302.5 82.8h0M298.1 87.5h0M293 89.3h0M299.8 90.9h0M298.4 85.6h0M296.2 87.7h0M295.4 80.8h0M299 86.1h0M294.4 90.3h0M297.1 90.5h0M294.3 86.7h0M297.7 86.6h0M296.1 89.6h0M299.2 86.9h0M292.2 86.7h0M295.3 90.1h0M296.7 90.1h0M299.9 91.2h0M300.3 86.7h0M298.7 86.5h0M303.3 91h0M295.1 83.9h0M298.1 83.2h0M291.7 89.3h0M298.8 85.3h0M297.8 86.4h0M297.1 89.3h0M297.4 86h0M291.8 85.9h0M294.7 88.2h0M298.6 84.6h0M290.6 82.6h0M293.2 88.6h0M294.6 82.6h0M296.3 84.9h0M292.9 90h0M297.7 88.4h0M299.9 88.8h0M294.5 86.5h0M293.5 87.7h0M301.4 91h0M301.9 88.8h0M301.1 85.9h0M295.1 85.4h0M300.3 89.6h0M299.8 83.8h0M293.8 86.4h0M294.7 86.5h0M296.9 86.4h0M295.5 85h0M292.2 83.7h0M303 85.3h0M300.3 85.8h0M299.7 82.9h0M298.9 86.5h0M294.8 83.2h0M303.4 87.4h0M298.5 84.7h0M290.2 81.5h0M298.5 86.2h0M291.9 88.5h0M296.4 87.5h0M300.4 87.3h0M291.5 87.8h0M294.9 83.5h0M294.8 82.6h0M290.3 88.6h0M297.1 86.6h0M299.1 84.6h0M294.8 85.1h0M298.4 87.6h0M292.4 86.4h0M294.5 85.3h0M290.8 85.8h0M302 87h0M297.7 85.7h0M292.6 86.4h0M303.1 89.3h0M298.4 88.3h0M297.9 86.7h0M295.8 86.2h0M298.6 83.9h0M297.5 83.2h0M294.8 86.4h0M298.2 80h0M299.4 84.1h0M296.5 86.9h0M302.1 86h0M299 84.9h0M298.3 89.1h0M295.1 86.5h0M296.2 84.3h0M293.5 89.8h0M303.8 90.8h0M297.9 86.3h0M293.8 87.6h0M299.9 83.8h0M297.2 82.9h0M299.9 89.6h0M295.8 83.6h0M298.1 87.9h0M299.6 80.7h0M296.1 84.4h0M293.3 86.1h0M295.6 80.2h0M299.8 86.8h0M297.4 87.9h0M294.7 82.5h0M299.2 84.7h0M292.2 83.6h0M295.1 91.3h0M303.1 84.6h0M297.1 86.8h0M297 82.6h0M298.1 87.2h0M293.5 86.8h0M295.2 89.3h0M294.7 83.2h0M297 88h0M296.3 87.2h0M295.4 84.2h0M291.8 85.3h0M303.9 86.6h0M297.5 87.4h0M299.6 82.4h0M295.9 88.4h0M295.4 85.8h0M295 85.2h0M295.9 90.4h0M292.7 86.2h0M291.4 81h0M294.9 84h0M297.1 88.7h0M293.3 81.3h0M289.4 82.9h0M299 85.7h0M293.4 88.5h0M291.5 85.5h0M300.7 81.6h0" stroke="#ff7f0e" stroke-width="1.2" stroke-linecap="round" stroke-opacity="0.65"/>
<path d="M309.4 90.7h0M303.2 89.9h0M313.9 83.2h0M311.6 86.5h0M307 87.4h0M301.3 88.9h0M300.6 95.5h0M306 84.3h0M306 84.7h0M307.7 88.5h0M299.5 89h0M302.6 94.5h0M316 87.4h0M315.3 83.5h0M308.6 93.6h0M313.1 89.7h0M309.4 93.3h0M304.6 86.5h0M301.5 88.9h0M311.4 88.6h0M313.6 88.5h0M303.5 92.2h0M304.9 90.3h0M305.6 84.9h0M307.8 91.7h0M307 90h0M316.1 87.8h0M312.2 83.8h0M296.9 93.7h0M315.5 88.8h0M307.1 82.2h0M302.5 84.9h0M316.1 85.3h0M303 88.1h0M306.1 87h0M308.7 89.3h0M304.4 86.2h0M306.2 85.6h0M314.4 85.9h0M309 85.7h0M309.4 84h0M304 91.8h0M316.9 86.5h0M309.9 90h0M317.6 84.5h0M308.1 95.2h0M304.6 85.1h0M310.2 89.9h0M307.3 91.9h0M302.5 86.7h0M302.9 87.8h0M309.1 91.4h0M305.1 89.4h0M311.3 82.7h0M301.4 89.3h0M302.5 92.7h0M304.9 85.7h0M314.5 81.7h0M311.4 90.6h0M304.3 87.2h0M304.7 86.8h0M315.3 84.6h0M312.4 82.8h0M309.2 86.4h0M304 91.1h0M312.2 90.8h0M306 89h0M312.7 95.2h0M302.3 90.5h0M301.6 91.6h0M300.6 87.5h0M304.1 88.3h0M306.2 90.4h0M307.2 87.5h0M306.5 93.9h0M307.5 86.5h0M312.7 86h0M307.7 86.7h0M306.7 90.8h0M309.5 81.1h0M308.1 92.3h0M318.6 85.8h0M317.2 87.5h0M314.7 84.8h0M306.6 88.4h0M305.1 93.1h0M303.8 88.8h0M298.8 93.4h0M303 92h0M305.4 87h0M306.1 89.9h0M305.2 87.1h0M311.5 91.5h0M313.6 86.1h0M299.2 87.6h0M309.5 90h0M303 83.4h0M301.6 90.1h0M311 84.4h0M304.8 90.6h0M314.9 88.1h0M312.5 92.3h0M307.1 90.5h0M313.5 83.9h0M308.1 88h0M306.7 86.7h0M310.5 84.7h0M301.6 88.4h0M303.7 88.9h0M315.5 89.9h0M306.6 87.4h0M310.2 82.8h0M305.6 88.5h0" stroke="#aec7e8" stroke-width="1.1" stroke-linecap="round" stroke-opacity="0.5"/>
<path d="M308.6 89.4h0M310.6 86.2h0M308.8 87.3h0M313.8 88.9h0M302.1 90.8h0M306.4 91.1h0M305.8 89.2h0M307.4 86.7h0M310.9 86.8h0M299.8 91.9h0M298.1 85.4h0M309.2 89.8h0M310.9 88.2h0M301.9 87.5h0M303.7 87.7h0M312 89.4h0M311.4 88.6h0M308.8 89.2h0M307.6 87.1h0M304.4 89.9h0M303 88.7h0M317.4 91.5h0M312.2 91.6h0M309.1 90.7h0M303.1 88.4h0M304.7 85.1h0M303 88.9h0M311.4 91.4h0M302.7 88.1h0M307.3 88.2h0M311 84.9h0M305.6 88.2h0M303.2 86.8h0M306.4 83.3h0M303.5 89.8h0M304.9 87.6h0M310.4 93.5h0M305.4 88.3h0M313.3 83.1h0M313.9 87h0M306.1 89.2h0M302.4 82.1h0M301.1 84.2h0M312.5 87.4h0M309.9 84.5h0M310.5 93.6h0M312.3 88.7h0M312.5 81.3h0M306.1 87.7h0M302 82h0M308.3 85.1h0M308.8 90.4h0M306.6 86.2h0M310.9 85.2h0M306.7 86.4h0M303.4 88.1h0M307.9 86.7h0M305.8 84.5h0M311.2 91.2h0M308.1 85.3h0M299.8 85.8h0M302.8 82.7h0M311.7 86.7h0M306.9 84.6h0M305.9 89.9h0M305.2 91.1h0M306.1 85.3h0M305 83h0M311.4 84.4h0M308.7 82.8h0M315.2 84.2h0M300 90.6h0M304.1 90.8h0M306.4 90.5h0M301.7 88.9h0M307.1 92.8h0M309.5 91.7h0M300.8 87.2h0M301.1 82.3h0M306.9 92.5h0M306 85.2h0M307 89h0M316.9 86.9h0M305.4 88.8h0M307.9 94.1h0M301.8 84.6h0M304.5 82.9h0M308 89.6h0M302.6 84.5h0M307.7 91.6h0M315.2 83.7h0M308.1 88.2h0M303.6 88.8h0M301.4 90.5h0M302.7 87.7h0M308.4 82.4h0M316.6 90.3h0M308.5 86.4h0M308.2 83.4h0M312.3 86.9h0M305.3 82.1h0M304.5 88.7h0M311.4 82.9h0M316.8 88.7h0M307 87.7h0M311 90.1h0M298.2 93.3h0M308 87.1h0M302.4 82h0M307.4 92h0M308.1 81.3h0M308.7 89.2h0M312.6 90.2h0" stroke="#aec7e8" stroke-width="1.1" stroke-linecap="round" stroke-opacity="0.5"/>
<path d="M302.9 89.8h0M312.2 91h0M306.1 81.6h0M310.5 90.5h0M304.9 85.8h0M307.6 82.5h0M310.8 79.9h0M305.1 84.7h0M308.6 87.9h0M306.1 95.1h0M311.8 87.6h0M305.1 85.7h0M304.9 91.6h0M309 89.6h0M305 83.7h0M308.1 87.2h0M307.8 84.9h0M304 92.2h0M313.5 90h0M308 84.8h0M308.1 84.8h0M304 89.1h0M308.3 91.2h0M300 83.7h0M310.3 88.6h0M303.5 94.3h0M308.2 86.9h0M308.5 84.2h0M310.2 90.9h0M313.9 90.5h0M313.1 86h0M302.8 82.5h0M314.3 85.2h0M309.1 92.4h0M309.6 88.3h0M309.8 85.9h0M303 92h0M309.2 85.6h0M312.9 86.3h0M303.8 86.2h0M307 87.7h0M298.9 82h0M303.7 82.6h0M305.2 88.3h0M307.2 88.2h0M306.8 85.6h0M305.7 85.7h0M310.1 91.9h0M317.7 86.9h0M304.5 82.1h0M306.2 88.5h0M313.1 85.9h0M305.3 88.4h0M306.8 86.9h0M306.2 86.7h0M316.9 84.5h0M299.4 88.6h0M312 92.3h0M306.3 90h0M309.1 85.7h0M310.8 92.9h0M311.9 85.7h0M303.7 93h0M312.1 85.1h0M301.9 89.1h0M308.5 89.4h0M306.5 88.8h0M310 90.8h0M313.8 84.3h0M310.5 86.4h0M303 89.2h0M309.9 90h0M305.6 81.9h0M300.6 94.7h0M298.9 86.3h0M305.6 87.1h0M305.1 87.8h0M308.7 95.3h0M306.5 85.9h0M314.2 88.5h0M310.4 88.3h0M299 87.4h0M311.1 88.8h0M308.1 86.9h0M312.7 88.1h0M304.9 89.6h0M307.2 91.8h0M303.9 88.8h0M305.2 88.4h0M305.9 80.3h0M311.6 88.7h0M301.9 93h0M305.2 82.6h0M304.4 85.3h0M304.2 89.9h0M312.6 91.5h0M309.3 83.3h0M311.2 88.6h0M304.3 85h0M303.7 85.6h0M310.8 84.4h0M316.4 83.7h0M309.1 86.3h0M306.3 83.1h0M305.3 94.9h0M303.8 92.1h0M305 91.2h0M306.1 92.8h0M308.4 87.2h0M310.5 87.9h0M309.3 88.7h0M304 87.9h0" stroke="#aec7e8" stroke-width="1.1" stroke-linecap="round" stroke-opacity="0.5"/>
<path d="M300.8 88.9h0M302.4 91.7h0M303 82.7h0M300.7 94.6h0M317 82.6h0M303.7 84h0M316.2 85h0M313 90.1h0M299.1 87.5h0M309.4 91.9h0M311.8 88.5h0M305.8 90.1h0M308.4 93.2h0M305.1 84.4h0M310.8 83.2h0M311.2 94h0M300.9 86.1h0M309.1 87.2h0M305 87.4h0M304.9 87.6h0M302.3 88.9h0M305.4 91h0M300.8 86.9h0M302.6 86.3h0M305.4 83.2h0M307.8 86.9h0M304.2 87.8h0M307 82.2h0M310.8 87.4h0M311.8 84.3h0M312.6 84.5h0M312.2 89.9h0M305.4 94.6h0M310.4 90.2h0M310.2 93.4h0M312.8 84.8h0M305.9 89h0M311.6 90.9h0M312.5 93.3h0M306.5 90h0M308.1 86.7h0M312.4 87.8h0M305.6 84.7h0M304.1 87.7h0M308.1 88.9h0M305.6 84h0M308.3 83.8h0M313.7 81h0M304.5 84.9h0M311 85.7h0M310.2 81.5h0M305.4 88.6h0M306.5 90.1h0M308.1 87.1h0M308.5 83.4h0M304.9 81h0M317.8 85.4h0M303.3 91.7h0M307.7 88.6h0M310.9 90.2h0M307.7 88.6h0M307.7 85.4h0M308.7 88.3h0M305.4 83.6h0M305.6 88h0M310 82.5h0M306.3 88.6h0M312.3 86.1h0M315.4 89h0M313.3 83.9h0M308.2 88.2h0M307.6 89.3h0M306.7 81.3h0M309.7 86.1h0M310.1 86.6h0M306.2 84h0M308.6 92h0M307.4 89.3h0M312 89.3h0M318.7 88.2h0M304.4 87.7h0M307.5 80.3h0M302.4 91.9h0M309.3 90.7h0M311.1 91.3h0M302.1 84.4h0M311.4 89.3h0M302.8 85.9h0M307.5 86.8h0M313.7 88.9h0M313.7 85.9h0M303.2 84h0M302.6 91.3h0M312.8 95.9h0M313.6 84h0M303.7 89.4h0M310.5 87.4h0M297.8 84.3h0M318.1 86.8h0M312.5 80.8h0M307.1 85.1h0M303.7 90.1h0M313.3 87.6h0M302.3 81.9h0M309.1 85h0M312.9 88.5h0M308.4 86.2h0M316.9 88.3h0M305.8 90.9h0M304.9 84.5h0M307.2 89h0M309.8 92.4h0" stroke="#aec7e8" stroke-width="1.1" stroke-linecap="round" stroke-opacity="0.5"/>
<path d="M316.5 88.1h0M322.8 91.2h0M323.1 87.8h0M316.8 88.6h0M311.6 89.1h0M322.5 88.4h0M318.2 95h0M318.4 88.2h0M311.6 91.2h0M312.9 87h0M319.2 92.9h0M319.1 91.1h0M316.6 86h0M313.7 90.8h0M324.6 88h0M315 84.7h0M322.2 89.5h0M318.6 91.5h0M319.3 89.6h0M319.1 87.1h0M311.7 90.7h0M321.3 86.6h0M309.1 89h0M316.6 85.6h0M324.2 90.8h0M329 85.1h0M321 87.6h0M324.3 87.3h0M325.1 83h0M316.5 87.7h0M316.9 82.3h0M314.7 91.6h0M322.6 88.9h0M319.9 86.8h0M317.9 88h0M321.4 89.1h0M321.8 84.1h0M324.2 88h0M318.6 88.5h0M317.2 89.4h0M324.2 89.8h0M317.3 85.6h0M323.4 85.6h0M320.7 89.9h0M313.3 89.3h0M321.1 88.3h0M315.9 85.9h0M319.1 88.2h0M316.5 88h0M314.9 90.2h0M323.8 85.9h0M322.1 89.1h0M326.7 85.9h0M323.3 82.9h0M317 90.6h0M326.1 86.5h0M319.6 84.3h0M321.2 89.2h0M319.3 85h0M322.9 87.6h0M312.1 87.2h0M319 87.2h0M314.5 87.1h0M322.6 93.3h0M318 89h0M317.2 86.6h0M324.5 94.5h0M314 83.3h0M327.6 92.4h0M313.8 82.7h0M315.9 90h0M320 87.1h0M325 90.7h0M324.2 88.5h0M322.3 90.7h0M315.8 91.7h0M315.3 91.5h0M313.8 92.9h0M313.5 86h0M314.6 86.5h0M320.2 87.3h0M317.7 91.8h0M321 83.9h0M315.3 86.9h0M320.5 89.5h0M311.2 90.1h0M317.8 94.8h0M323.5 93h0M312.8 86.7h0M320.6 87.9h0M325 90.7h0M319.5 89.1h0M319.7 85.4h0M323.8 86.2h0M316.9 92.2h0" stroke="#1f77b4" stroke-width="1.1" stroke-linecap="round" stroke-opacity="0.5"/>
<path d="M318.4 86.5h0M329.6 89.2h0M322.8 88.8h0M318.2 82.4h0M320.5 87.6h0M309.6 89.1h0M322.4 85.4h0M317.8 87.8h0M325.2 89.3h0M320 93.3h0M322.3 87.5h0M318 89.3h0M319.3 88.5h0M317.3 87.7h0M313.8 92.4h0M327.8 82.8h0M320.7 85.2h0M323.3 88.6h0M317.4 91.2h0M317.9 92.2h0M318.9 85.3h0M323.4 84.8h0M318.7 87.2h0M314.1 82.7h0M328.8 90.2h0M326.1 88.1h0M326.7 88h0M321.4 84h0M325.9 86.1h0M324.5 85.7h0M317.8 87.4h0M318 92h0M319.5 86.8h0M324.9 89.5h0M313.9 91.8h0M318.8 90.2h0M319.7 84.1h0M324.8 85.7h0M320.3 91.9h0M319.5 92.6h0M321.3 95.7h0M321.9 89.3h0M320.5 89.2h0M317.3 83.9h0M319.1 86.8h0M317.6 86.2h0M315.3 87.3h0M319.9 89.1h0M324.5 84.2h0M313.9 82.3h0M319.5 83h0M326 89.6h0M315 84.3h0M318.6 88.9h0M324.5 90h0M321.8 88.4h0M317.1 84.2h0M318.8 82.6h0M316.5 86.5h0M322.7 90.3h0M323 87.6h0M323.2 91.6h0M321.8 83.5h0M325.2 84.5h0M326.2 85.7h0M320.5 90.4h0M324.6 91.4h0M322.5 84.1h0M324.1 94.6h0M325.1 91.7h0M325.3 89.2h0M325.1 91.7h0M321.6 84h0M323.3 88.1h0M325.6 83.6h0M324.4 89.2h0M324.1 87.1h0M320.9 86.9h0M328.3 82.5h0M312.5 84.5h0M328.5 86.8h0M311.7 89.3h0M322.3 87.2h0M318.3 89.6h0M323.6 90.5h0M325 86.3h0M316.8 93.3h0M322.2 93h0M325.5 88.1h0M327.2 92.4h0M322.5 87.6h0M317.3 81.9h0M325.7 86.9h0M316 86.7h0M318.3 92h0" stroke="#1f77b4" stroke-width="1.1" stroke-linecap="round" stroke-opacity="0.5"/>
<path d="M317 93.2h0M324.1 83.9h0M315.1 89.3h0M319.3 86.8h0M320.6 91.5h0M324.9 91.8h0M327.5 89.9h0M319.1 88.5h0M328.8 83.8h0M311.1 84.5h0M321.1 86.2h0M321.7 85.3h0M320.9 89.5h0M327.4 91.9h0M314.4 89h0M321.6 90.4h0M315.4 88h0M315.7 85.9h0M322 90.7h0M317.2 90.5h0M315.5 83.8h0M320.6 86.2h0M319.5 90.7h0M314.5 87.4h0M323.4 95h0M319.5 87.8h0M320.2 92.1h0M326.6 89.5h0M318.5 85.2h0M321.6 90.6h0M320.1 88.3h0M323.6 84.2h0M315.3 85.6h0M320.4 90.8h0M316.2 88.9h0M319.7 87.1h0M315.7 95.4h0M323.4 93.2h0M318.3 93.2h0M317.5 92.2h0M320.2 89.3h0M321 89.9h0M317.1 90.3h0M318.1 89.6h0M313.4 83.9h0M322.3 93.4h0M315.4 83.5h0M328.3 85h0M317.9 91.5h0M315.2 87.4h0M314.1 82.2h0M316 87.6h0M323.8 91.1h0M317.3 87.9h0M323.3 90h0M314.8 88.2h0M318.1 88.9h0M314.7 87.3h0M310.3 91.9h0M323.4 87h0M313.4 88.9h0M313.1 89.7h0M321.1 87.9h0M316 86.7h0M316.4 88.1h0M317.9 91.5h0M321.5 89.8h0M326.1 88.4h0M309.9 88.9h0M326.7 88.3h0M318 87.1h0M326 85.8h0M325.6 83.5h0M311.7 87.8h0M320.4 93.4h0M323.5 90.2h0M318.3 89.7h0M324.7 88.5h0M315.4 86.5h0M316.1 85.3h0M314.5 85h0M319.1 88.2h0M311.7 86.2h0M320.5 90.2h0M317.9 90.2h0M321.1 86.5h0M314.9 85.1h0M319.6 86.8h0M323 91.6h0M317 91.9h0M312 84.4h0M314.1 85.5h0M319.1 86.6h0M328.1 86h0M321.9 86.1h0" stroke="#1f77b4" stroke-width="1.1" stroke-linecap="round" stroke-opacity="0.5"/>
<path d="M314.8 87.7h0M313.5 84.8h0M315.9 86h0M315.1 90.6h0M315.3 88h0M315.1 84.7h0M316.1 89.5h0M323.5 88.7h0M325.5 91.3h0M317.9 89.9h0M319.8 91.5h0M318.5 90h0M319.1 85.7h0M308.8 82.5h0M312.2 88.4h0M317.8 92.5h0M320.7 86.7h0M316.2 87.8h0M320.8 88.7h0M322.3 94.4h0M327.1 91.9h0M326.1 87.8h0M323.5 90.3h0M320.8 91.8h0M316.1 87.4h0M314.4 90.2h0M320.7 89.3h0M324.2 86.1h0M320.9 88h0M316.2 87.6h0M318.2 88.3h0M327.1 89.4h0M323.5 94.7h0M318.5 91.9h0M317.8 91.6h0M321.8 87.1h0M326.1 88.6h0M323.6 92.4h0M320.8 88.9h0M320.4 83.4h0M327 84.6h0M314.7 89.1h0M318.4 90.7h0M322.7 89.3h0M324.2 85.9h0M314 91.3h0M319.1 87.8h0M317.8 94.3h0M320.7 84.2h0M327.7 89.6h0M317.4 91.1h0M322.9 90.4h0M322.9 89.6h0M320.8 91.5h0M325 85h0M319.2 90.6h0M318 88.5h0M319.4 85.9h0M319.1 92.6h0M324.1 84.8h0M324.2 88.3h0M318.5 91.8h0M318.4 85.7h0M322.1 87.9h0M322.6 87.3h0M324.3 84.1h0M312.2 90.2h0M320.6 88.3h0M322.9 87.5h0M316.1 90.2h0M315.5 84.1h0M317.3 85.8h0M326.5 89.7h0M318.8 87.1h0M325.5 92.7h0M326.7 90.4h0M319.7 89.8h0M314.1 90.3h0M319.1 87.4h0M320.9 90.9h0M320.3 87.3h0M318.5 86.7h0M317.1 87h0M319.6 90.2h0M320.4 85.2h0M320 87.2h0M321.7 88.5h0M324.8 88.2h0M317.9 92.6h0M320.3 88.4h0M317.6 84.3h0M322.1 84.8h0M326.3 83.5h0M308.9 88.3h0M328 92.5h0" stroke="#1f77b4" stroke-width="1.1" stroke-linecap="round" stroke-opacity="0.5"/>
<path d="M313.7 86.7C314.1 86.2 316.5 86.4 318.1 86.4C319.7 86.4 322.7 86.3 323.3 86.7C324 87 322.6 87.6 321.9 88.6C321.2 89.5 320.1 91.6 319.4 92.2C318.6 92.8 318.3 92.7 317.6 92.2C317 91.7 316.2 90.3 315.5 89.4C314.9 88.5 313.2 87.2 313.7 86.7Z" fill="#1f77b4"/>
<path d="M314.8 87.6h0M318.9 91.1h0M319.4 92.1h0M315.8 91h0M318.4 92.9h0M317.3 89.4h0M316.6 87.5h0M318.4 91.6h0M321.9 88.9h0M320.3 87.6h0M318 90.9h0M322.4 90.2h0M322.5 87.3h0M317.5 89.6h0M318.7 89.1h0M318.9 91.1h0M323 87.2h0M321.1 90.3h0M317.5 87.1h0M315.2 89.1h0M319.9 92.3h0M318.3 89.6h0M318.6 90.1h0M321.6 86.6h0M316.9 91h0M323.1 86.5h0M318.6 90.4h0M321.2 89.8h0M314.8 87.1h0M316.5 86h0M315.1 87.1h0M315.1 85.5h0M320.2 86.1h0M316.2 91.3h0M320.6 89.7h0M321 89.1h0M316.5 90.8h0M319.6 86.9h0M319.5 91.4h0M318.4 90h0M317.5 91.7h0M317.5 92.7h0M315.5 86.3h0M321.8 87.7h0M313.1 88.6h0M321.4 86h0M321.7 88.3h0M316.3 88.4h0M315.4 90.6h0M318 90.6h0" stroke="#1f77b4" stroke-width="1.2" stroke-linecap="round" stroke-opacity="0.6"/>
<path d="M316 88.1h0M314.9 87.5h0M317.6 93.2h0M315.9 86.2h0M316 88.1h0M315.1 86.9h0M319.4 86.2h0M316.5 88.1h0M319.3 92.2h0M317.1 90.9h0M323.4 85.3h0M317.2 91h0M321.9 87.2h0M315.4 89.9h0M314.4 86.6h0M318.9 91.3h0M318.5 89h0M318.1 90.7h0M317.2 90.6h0M317.4 87.5h0M320.2 91.3h0M316.3 86.5h0M318.6 87.1h0M316.7 89.7h0M320.7 89.2h0M322.8 89.3h0M319.3 87.1h0M315.5 88.9h0M320.8 87.1h0M321.3 87.4h0M315.4 90h0M315.2 88.2h0M313.4 87.9h0M316.4 86.5h0M318.3 88.4h0M320.3 89.4h0M316 88.3h0M313.6 86.6h0M318.6 86.6h0M319.9 89.7h0M315.5 86.4h0M320.2 87.6h0M313.6 87.2h0M319.6 85.4h0M317.3 91.5h0M317.3 93h0M320.4 87.2h0M317.2 91.5h0M318.8 88.3h0M316.2 88.8h0" stroke="#1f77b4" stroke-width="1.2" stroke-linecap="round" stroke-opacity="0.6"/>
<path d="M321.1 90.4h0M315.4 86.1h0M316.3 89.2h0M319.4 87.4h0M319.5 89.3h0M317.4 88.8h0M319.6 91.3h0M322.8 86.3h0M317.3 90.1h0M320.1 89.2h0M317.8 88.5h0M316.9 87h0M313.6 86.5h0M316 89h0M320.5 87.8h0M322 88.5h0M314.2 88.1h0M321 89.5h0M317.4 90.7h0M320 90h0M315.5 89.5h0M315.8 87.4h0M319.2 89.3h0M317.8 91.8h0M318.7 87.4h0M321.8 87.2h0M320 92.2h0M322.5 88.2h0M313.3 86.1h0M320.4 87.3h0M318.6 91.9h0M322.1 87.7h0M316.2 86.7h0M319.1 89.5h0M317.7 92h0M315.1 87.7h0M315.7 85.9h0M320.7 87.9h0M320.4 90.3h0M320.9 85.9h0M315.3 88.6h0M318 91h0M317.2 91.1h0M314.8 87.2h0M317.7 89.3h0M322.3 87.3h0M314.2 87.1h0M320.2 90.4h0M321.9 87.8h0M318.5 89.3h0" stroke="#1f77b4" stroke-width="1.2" stroke-linecap="round" stroke-opacity="0.6"/>
<polygon points="40.4,163.3 68.7,140 69.2,179.7 41.9,204.8" fill="#f4f4f4"/>
<polygon points="68.7,140 118.7,153.8 118.2,191.7 69.2,179.7" fill="#f2f2f2"/>
<polygon points="41.9,204.8 69.2,179.7 118.2,191.7 91.4,221.9" fill="#f6f6f6"/>
<g stroke="#b4b4b4" stroke-width="0.55"><line x1="42.7" y1="161.4" x2="44.1" y2="202.8"/><line x1="44.1" y1="202.8" x2="93.5" y2="219.5"/><line x1="48.3" y1="156.8" x2="49.5" y2="197.8"/><line x1="49.5" y1="197.8" x2="98.9" y2="213.4"/><line x1="54" y1="152.1" x2="55" y2="192.8"/><line x1="55" y1="192.8" x2="104.3" y2="207.4"/><line x1="59.6" y1="147.5" x2="60.5" y2="187.7"/><line x1="60.5" y1="187.7" x2="109.6" y2="201.4"/><line x1="65.3" y1="142.8" x2="65.9" y2="182.7"/><line x1="65.9" y1="182.7" x2="115" y2="195.3"/><line x1="73.2" y1="141.2" x2="73.6" y2="180.8"/><line x1="73.6" y1="180.8" x2="46.4" y2="206.3"/><line x1="82.1" y1="143.7" x2="82.3" y2="182.9"/><line x1="82.3" y1="182.9" x2="55.2" y2="209.4"/><line x1="91" y1="146.2" x2="91.1" y2="185.1"/><line x1="91.1" y1="185.1" x2="64" y2="212.4"/><line x1="99.9" y1="148.6" x2="99.8" y2="187.2"/><line x1="99.8" y1="187.2" x2="72.8" y2="215.5"/><line x1="108.8" y1="151.1" x2="108.5" y2="189.3"/><line x1="108.5" y1="189.3" x2="81.6" y2="218.5"/><line x1="40.5" y1="165" x2="68.7" y2="141.6"/><line x1="68.7" y1="141.6" x2="118.7" y2="155.3"/><line x1="40.8" y1="173.3" x2="68.8" y2="149.5"/><line x1="68.8" y1="149.5" x2="118.6" y2="162.9"/><line x1="41.1" y1="181.6" x2="68.9" y2="157.5"/><line x1="68.9" y1="157.5" x2="118.5" y2="170.5"/><line x1="41.4" y1="189.9" x2="69" y2="165.4"/><line x1="69" y1="165.4" x2="118.4" y2="178.1"/><line x1="41.7" y1="198.2" x2="69.1" y2="173.3"/><line x1="69.1" y1="173.3" x2="118.3" y2="185.6"/></g>
<polyline points="91.4,221.9 118.2,191.7 118.7,153.8" fill="none" stroke="#555" stroke-width="0.75"/>
<polyline points="118.2,191.7 118.7,153.8" fill="none" stroke="#333" stroke-width="0.9"/>
<polyline points="41.9,204.8 91.4,221.9" fill="none" stroke="#222" stroke-width="1"/>
<g stroke="#333" stroke-width="0.9"><line x1="118" y1="155.3" x2="120" y2="155.3"/><line x1="117.9" y1="162.9" x2="119.9" y2="162.9"/><line x1="117.8" y1="170.5" x2="119.8" y2="170.5"/><line x1="117.7" y1="178.1" x2="119.7" y2="178.1"/><line x1="117.6" y1="185.6" x2="119.6" y2="185.6"/></g>
<path d="M99.2 174.9h0M91.2 170.8h0M66.7 159h0M95.5 185.4h0M100.7 183.4h0M92.3 176.9h0M75.6 159.7h0M96.7 183.2h0M71.5 176.5h0M84.6 166.2h0M77.4 171.5h0M54.8 170.7h0M94 168h0M85.4 181.9h0M100.5 164.4h0M64.3 171.4h0M99.8 173.2h0M70.5 182.7h0M77.9 160.9h0M87.7 161.2h0M75.1 176.7h0M76.6 159.8h0M56.7 168.3h0M62.8 162.6h0M61 185.8h0" stroke="#aec7e8" stroke-width="2.6" stroke-linecap="round" stroke-opacity="0.3"/>
<path d="M70 185.1h0M81.6 179.7h0M98.1 176h0M70.2 159.3h0M63.2 162.4h0M86 158.7h0M53.5 161.8h0M80.7 179.9h0M69.7 176.2h0M69.4 172.8h0M70.5 184.6h0M64.5 178.9h0M92.9 183.9h0M75.5 185.8h0M94 182.4h0M80.4 172.3h0M91.3 160.6h0M75.5 174.9h0M97.1 178.7h0M71.9 168.7h0M56.6 171h0M63.5 175.4h0M56.6 168.7h0M87 163.1h0M80.4 174.9h0" stroke="#aec7e8" stroke-width="2.6" stroke-linecap="round" stroke-opacity="0.3"/>
<path d="M57.5 185.6h0M67.5 187.5h0M82.9 186.3h0M72.1 185.9h0M69.6 188.8h0M80 196.1h0M80.7 185.2h0M63.2 190.8h0M53.6 189.8h0M70.8 196.5h0M64.4 199.3h0M73.7 199.9h0M57.9 188.1h0M81.6 179.2h0M57.4 190.3h0M64 188.4h0" stroke="#1f77b4" stroke-width="2.6" stroke-linecap="round" stroke-opacity="0.42"/>
<path d="M63.7 185.9h0M64.3 188.2h0M62.2 199.3h0M62.3 189.9h0M63.9 187h0M64.3 205h0M61.1 187.5h0M75.9 184.2h0M67.1 199.9h0M71.6 193.1h0M55.4 191h0M70.6 184.4h0M67.7 200.9h0M68 196.1h0M63.5 189.4h0M69.8 201.4h0" stroke="#1f77b4" stroke-width="2.6" stroke-linecap="round" stroke-opacity="0.42"/>
<path d="M79.5 182.8h0M85 190h0M80.3 187.2h0M85.4 194h0M97.6 192.8h0M93.5 189.6h0M98.2 189.7h0M75.6 189.9h0M89.2 196.2h0M94.5 187h0M90.8 200.9h0M85.1 183.4h0M83.8 186.7h0M73 195.8h0M82.6 184.6h0M83.9 184.9h0" stroke="#ff7f0e" stroke-width="2.6" stroke-linecap="round" stroke-opacity="0.35"/>
<path d="M90.1 195.9h0M93.3 185.4h0M93.7 191.3h0M99.4 189.5h0M90.8 178.3h0M87.9 182.7h0M86.2 178.5h0M91.8 197.5h0M96.2 181.9h0M91 194.8h0M91 182.8h0M80.9 196.3h0M89.3 182.3h0M86.7 178.1h0M89.3 195.3h0M90.5 194h0" stroke="#ff7f0e" stroke-width="2.6" stroke-linecap="round" stroke-opacity="0.35"/>
<path d="M73.1 164.8h0M80.4 172.5h0M91.3 172h0M82.4 175.2h0M99.6 164h0M76 163.2h0" stroke="#ff7f0e" stroke-width="2.6" stroke-linecap="round" stroke-opacity="0.35"/>
<path d="M80.8 178.4h0M82.1 181.5h0M69.5 179.8h0M83.3 179.2h0M83.3 180.2h0M74.8 180.7h0M83.2 180.5h0M81.5 178.4h0M86.4 180.7h0M80.7 181.7h0M80.1 181.4h0M84.7 176.7h0M79.4 181.6h0M83.2 180.8h0M75.7 181.7h0M79.4 186.3h0M73.8 182.3h0M78.4 178.4h0M74.3 180.5h0M78.9 178.7h0M78.1 177.8h0M81.8 181.1h0M79.1 179.9h0M83 179.8h0M76.6 177.8h0M76.7 178.9h0M82.4 182.5h0M83 184.3h0M80.9 181.6h0M85 180.5h0M72.4 179.1h0M81.6 181.2h0" stroke="#ff7f0e" stroke-width="2.2" stroke-linecap="round" stroke-opacity="0.6"/>
<path d="M83.7 181.6h0M81.4 182.3h0M80.8 180.9h0M80.5 178.9h0M82 182.5h0M82.8 180.3h0M86.9 181.8h0M81 177.6h0M80.9 180.9h0M78.4 181.6h0M76.9 178.7h0M76.5 179.8h0M83.6 183.4h0M82.1 180.8h0M79.8 179.1h0M85.1 181.3h0M80.5 181.2h0M85.6 180.1h0M78.7 181.1h0M84.4 181.3h0M86.3 181h0M76.8 178.4h0M74.3 178.1h0M85.6 181h0M83.2 178.3h0M89.3 181.1h0M86.8 182.7h0M77.1 180.7h0M86.8 175.7h0M80.5 181.1h0M77.6 179.5h0M88.2 183.1h0" stroke="#ff7f0e" stroke-width="2.2" stroke-linecap="round" stroke-opacity="0.6"/>
<path d="M78 181.4h0M86.3 176.4h0M81.9 179.1h0M77 180.6h0M77 181h0M76.9 178.9h0M81.4 181.2h0M86.3 181.6h0M83.6 178.8h0M83.7 179.9h0M74.2 180.2h0M75.8 184.8h0M73.2 181.4h0M75.4 179.7h0M88.6 180.5h0M84.5 179.5h0M84.6 179.9h0M76 179.6h0M83.3 180.9h0M74 181.1h0M70.2 180.2h0M77.4 179.8h0M84.4 181.3h0M81.2 178.5h0M74.9 176.4h0M85 183h0M79.3 182.7h0M79.1 182.1h0M77.6 180.7h0M73.1 179.5h0M85.1 181.7h0" stroke="#ff7f0e" stroke-width="2.2" stroke-linecap="round" stroke-opacity="0.6"/>
<path d="M70.3 177h0M71.6 179.6h0M70.4 178.7h0M72.7 178.1h0M73.1 178.1h0M73.2 178.6h0M79.1 178.1h0M65.3 178.8h0M70.5 178.8h0M68.4 177.3h0M71.2 176.8h0M70 180.1h0" stroke="#ff7f0e" stroke-width="2" stroke-linecap="round" stroke-opacity="0.6"/>
<polygon points="146.3,169.5 176.7,147.9 176.8,187.7 147.5,209.8" fill="#f4f4f4"/>
<polygon points="176.7,147.9 230.3,159.3 229.4,198.5 176.8,187.7" fill="#f2f2f2"/>
<polygon points="147.5,209.8 176.8,187.7 229.4,198.5 199.6,227.4" fill="#f6f6f6"/>
<g stroke="#b8b8b8" stroke-width="0.55"><line x1="146.6" y1="169.3" x2="147.8" y2="209.6"/><line x1="147.8" y1="209.6" x2="199.9" y2="227.1"/><line x1="151.1" y1="166.1" x2="152.1" y2="206.3"/><line x1="152.1" y1="206.3" x2="204.3" y2="222.8"/><line x1="155.6" y1="162.9" x2="156.5" y2="203"/><line x1="156.5" y1="203" x2="208.7" y2="218.6"/><line x1="160.1" y1="159.7" x2="160.8" y2="199.7"/><line x1="160.8" y1="199.7" x2="213.1" y2="214.3"/><line x1="164.6" y1="156.5" x2="165.2" y2="196.5"/><line x1="165.2" y1="196.5" x2="217.5" y2="210"/><line x1="169.1" y1="153.3" x2="169.5" y2="193.2"/><line x1="169.5" y1="193.2" x2="221.9" y2="205.7"/><line x1="173.6" y1="150.1" x2="173.9" y2="189.9"/><line x1="173.9" y1="189.9" x2="226.4" y2="201.4"/><line x1="179.9" y1="148.6" x2="180" y2="188.3"/><line x1="180" y1="188.3" x2="150.6" y2="210.9"/><line x1="187" y1="150.1" x2="187" y2="189.7"/><line x1="187" y1="189.7" x2="157.6" y2="213.2"/><line x1="194.2" y1="151.6" x2="194" y2="191.2"/><line x1="194" y1="191.2" x2="164.5" y2="215.5"/><line x1="201.3" y1="153.1" x2="201" y2="192.6"/><line x1="201" y1="192.6" x2="171.4" y2="217.9"/><line x1="208.4" y1="154.6" x2="208" y2="194.1"/><line x1="208" y1="194.1" x2="178.3" y2="220.2"/><line x1="215.6" y1="156.2" x2="214.9" y2="195.5"/><line x1="214.9" y1="195.5" x2="185.3" y2="222.6"/><line x1="222.7" y1="157.7" x2="221.9" y2="197"/><line x1="221.9" y1="197" x2="192.2" y2="224.9"/><line x1="146.3" y1="169.9" x2="176.7" y2="148.3"/><line x1="176.7" y1="148.3" x2="230.3" y2="159.7"/><line x1="146.5" y1="175.1" x2="176.7" y2="153.5"/><line x1="176.7" y1="153.5" x2="230.2" y2="164.8"/><line x1="146.6" y1="180.4" x2="176.7" y2="158.6"/><line x1="176.7" y1="158.6" x2="230.1" y2="169.9"/><line x1="146.8" y1="185.6" x2="176.8" y2="163.8"/><line x1="176.8" y1="163.8" x2="229.9" y2="175"/><line x1="146.9" y1="190.9" x2="176.8" y2="169"/><line x1="176.8" y1="169" x2="229.8" y2="180.1"/><line x1="147.1" y1="196.1" x2="176.8" y2="174.1"/><line x1="176.8" y1="174.1" x2="229.7" y2="185.2"/><line x1="147.2" y1="201.3" x2="176.8" y2="179.3"/><line x1="176.8" y1="179.3" x2="229.6" y2="190.3"/><line x1="147.4" y1="206.6" x2="176.8" y2="184.5"/><line x1="176.8" y1="184.5" x2="229.5" y2="195.4"/></g>
<polyline points="199.6,227.4 229.4,198.5 230.3,159.3" fill="none" stroke="#555" stroke-width="0.75"/>
<polyline points="229.4,198.5 230.3,159.3" fill="none" stroke="#333" stroke-width="0.9"/>
<polyline points="147.5,209.8 199.6,227.4" fill="none" stroke="#222" stroke-width="1"/>
<g stroke="#333" stroke-width="0.9"><line x1="229.6" y1="159.7" x2="231.6" y2="159.7"/><line x1="229.5" y1="164.8" x2="231.5" y2="164.8"/><line x1="229.4" y1="169.9" x2="231.4" y2="169.9"/><line x1="229.2" y1="175" x2="231.2" y2="175"/><line x1="229.1" y1="180.1" x2="231.1" y2="180.1"/><line x1="229" y1="185.2" x2="231" y2="185.2"/><line x1="228.9" y1="190.3" x2="230.9" y2="190.3"/><line x1="228.8" y1="195.4" x2="230.8" y2="195.4"/></g>
<path d="M169.5 174.5h0M178.5 172h0M183.8 166h0M186.5 164.5h0M189 168h0M180 180h0M183 184h0M186 188h0M181.5 187h0M184 191h0M188 195h0M190.5 199h0M193.5 202h0M196.5 205h0M192 190h0M180 193h0M175 197h0M187 176h0M185 178h0M200 178h0M204 171h0" stroke="#aec7e8" stroke-width="1.8" stroke-linecap="round" stroke-opacity="0.55"/>
<path d="M203.7 182.6h0M211 185.1h0M215 188.5h0M206.1 174.6h0M212.6 183h0M208.9 173h0M216.2 185.4h0M210.6 182.3h0M217.9 174.3h0M205.1 174h0M202.9 181.4h0M206.9 180.9h0M214.2 181.7h0M210.2 189.6h0M216.7 189.6h0M217.9 177.3h0M216.7 173.3h0M203.8 177.3h0" stroke="#ff9896" stroke-width="1.6" stroke-linecap="round" stroke-opacity="0.35"/>
<path d="M211.2 179.3h0M203 185.7h0M201.1 186h0M208.1 177.4h0M209.4 183.4h0M201.6 176h0M199.9 183h0M201.5 176.7h0M202.5 182.7h0M204.4 172.2h0M207.4 174h0M212.7 180.4h0M204.2 174.3h0M208.5 175.5h0M208.9 181.1h0M203.2 175.4h0" stroke="#ff7f0e" stroke-width="1.8" stroke-linecap="round" stroke-opacity="0.45"/>
<path d="M189.7 181.2C189.7 180.4 190.6 179.7 191.5 179.4C192.4 179.1 194.2 179 195.1 179.2C196.1 179.5 196.6 180.3 197.4 180.8C198.1 181.2 198.9 181.6 199.6 182.1C200.4 182.6 201.5 183.2 201.9 183.9C202.2 184.7 202.2 186.1 201.7 186.6C201.2 187.1 199.8 187.3 198.7 187.1C197.6 187 196.3 186.4 195.1 186C194 185.5 192.9 185.2 192 184.4C191.1 183.6 189.8 182 189.7 181.2Z" fill="#aec7e8"/>
<path d="M199.9 187.2h0M201.5 183h0M197.4 186.8h0M191.3 180.3h0M193.5 181.6h0M194.3 183.6h0M196.5 181.1h0M196 181.3h0M195.2 185h0M190.5 180.3h0M196.9 181.8h0M196.8 182.4h0M193.2 182.5h0M196.8 180.8h0M190.4 183.3h0M195.2 182.9h0M199.1 185.6h0M189.6 183h0M198.6 184.2h0M200.1 185.2h0M196.8 181.3h0M193.5 183.6h0M195.5 181.9h0M196 179.1h0M195.6 184.1h0M190.2 180.4h0M199.1 187.6h0M196.4 185.8h0M196 184.7h0M200.9 185.8h0" stroke="#aec7e8" stroke-width="1.4" stroke-linecap="round" stroke-opacity="0.6"/>
<path d="M198 184.4h0M190.1 183.3h0M194.6 183.3h0M200 185.8h0M194.9 180.6h0M194 180.3h0M201.4 184.2h0M193.8 184.4h0M189.4 182.2h0M197.5 184.7h0M200.7 186.2h0M191.8 179.3h0M195.1 186.6h0M193.3 182.4h0M199.6 185.9h0M199.7 183.4h0M201.7 183.1h0M191.2 182.3h0M199.2 183.5h0M190.4 181.3h0M196.4 183.8h0M193 186h0M194.4 179.7h0M195.9 181.2h0M196.3 181.6h0M194.3 179.4h0M201.7 185.4h0M194.9 179.1h0M198 182.7h0M201.1 184.8h0" stroke="#aec7e8" stroke-width="1.4" stroke-linecap="round" stroke-opacity="0.6"/>
<path d="M193.5 193.5C194 193 195 192.2 196 192C197 191.8 198.7 191.9 199.5 192.3C200.3 192.7 200.8 193.6 201 194.5C201.2 195.4 200.4 196.5 200.5 197.5C200.6 198.5 200.8 199.8 201.5 200.5C202.2 201.2 203.8 200.9 204.5 201.5C205.2 202.1 205.8 203 206 204C206.2 205 206.2 206.8 205.5 207.5C204.8 208.2 203.2 208.5 202 208.5C200.8 208.5 199.2 208.2 198.5 207.5C197.8 206.8 198.4 205.2 198 204C197.6 202.8 196.8 201.4 196 200.5C195.2 199.6 194 199.4 193.5 198.5C193 197.6 193 195.8 193 195C193 194.2 193 194 193.5 193.5Z" fill="#1f77b4"/>
<path d="M200.7 194.3h0M201.7 208.7h0M198 192.6h0M198.3 191.8h0M200 207.7h0M206.4 206.7h0M204.7 208h0M193.5 196.3h0M194.9 192.5h0M206 205.6h0M195.7 192.2h0M198 191.7h0" stroke="#1f77b4" stroke-width="1.6" stroke-linecap="round" stroke-opacity="0.8"/>
<path d="M198.3 205.4h0M205.7 204.1h0M200.9 207.4h0M197.8 191.4h0M206.2 205.1h0M199.8 206.9h0M204.9 204.3h0M196 192.8h0M205.6 208.3h0M194.5 198.9h0M199.6 206.7h0M194 197.7h0" stroke="#1f77b4" stroke-width="1.6" stroke-linecap="round" stroke-opacity="0.8"/>
<path d="M201.5 185C201.8 184 202.8 183.5 203.5 183.4C204.2 183.3 205.5 183.7 206 184.3C206.5 184.9 206.9 186.3 206.7 187.2C206.5 188.1 205.8 189.2 205 189.5C204.2 189.8 202.6 189.9 202 189.2C201.4 188.4 201.2 186 201.5 185Z" fill="#ff7f0e"/>
<path d="M206.3 185.5h0M201.5 184.9h0M202.1 184.4h0" stroke="#ff7f0e" stroke-width="1.4" stroke-linecap="round" stroke-opacity="0.8"/>
<path d="M203.2 183.5h0M205.9 184.7h0M206 184.5h0" stroke="#ff7f0e" stroke-width="1.4" stroke-linecap="round" stroke-opacity="0.8"/>
<path d="M202.4 188.3C202.9 187.9 205.2 187.7 205.8 188C206.4 188.3 206.3 189.9 205.8 190.3C205.3 190.7 203.6 190.9 203 190.6C202.4 190.3 201.9 188.7 202.4 188.3Z" fill="#9467bd"/>
<path d="M201.7 189.2C202.1 188.8 203.9 188.6 204.4 189C204.9 189.4 204.8 191.2 204.4 191.7C204 192.1 202.4 192.1 202 191.7C201.6 191.3 201.3 189.6 201.7 189.2Z" fill="#2ca02c"/>
<path d="M205.5 189.5h0" stroke="#8c564b" stroke-width="1.6" stroke-linecap="round"/>
<polygon points="255,170.8 283.7,147.9 282.8,188.6 255.9,210.8" fill="#f4f4f4"/>
<polygon points="283.7,147.9 338.7,160.5 336,201.9 282.8,188.6" fill="#f2f2f2"/>
<polygon points="255.9,210.8 282.8,188.6 336,201.9 308.8,227.7" fill="#f6f6f6"/>
<g stroke="#cdcdcd" stroke-width="0.55"><line x1="256.1" y1="169.9" x2="257" y2="209.9"/><line x1="257" y1="209.9" x2="309.9" y2="226.7"/><line x1="260.3" y1="166.6" x2="260.8" y2="206.7"/><line x1="260.8" y1="206.7" x2="313.8" y2="223"/><line x1="264.4" y1="163.3" x2="264.7" y2="203.6"/><line x1="264.7" y1="203.6" x2="317.7" y2="219.3"/><line x1="268.5" y1="160.1" x2="268.5" y2="200.4"/><line x1="268.5" y1="200.4" x2="321.6" y2="215.6"/><line x1="272.6" y1="156.8" x2="272.4" y2="197.2"/><line x1="272.4" y1="197.2" x2="325.4" y2="211.9"/><line x1="276.7" y1="153.5" x2="276.2" y2="194"/><line x1="276.2" y1="194" x2="329.3" y2="208.2"/><line x1="280.8" y1="150.2" x2="280.1" y2="190.9"/><line x1="280.1" y1="190.9" x2="333.2" y2="204.5"/><line x1="284.4" y1="148.1" x2="283.4" y2="188.8"/><line x1="283.4" y1="188.8" x2="256.5" y2="211"/><line x1="290.4" y1="149.4" x2="289.2" y2="190.2"/><line x1="289.2" y1="190.2" x2="262.3" y2="212.8"/><line x1="296.3" y1="150.8" x2="295" y2="191.7"/><line x1="295" y1="191.7" x2="268.1" y2="214.7"/><line x1="302.3" y1="152.2" x2="300.8" y2="193.1"/><line x1="300.8" y1="193.1" x2="273.8" y2="216.5"/><line x1="308.3" y1="153.5" x2="306.6" y2="194.6"/><line x1="306.6" y1="194.6" x2="279.6" y2="218.4"/><line x1="314.3" y1="154.9" x2="312.4" y2="196"/><line x1="312.4" y1="196" x2="285.4" y2="220.2"/><line x1="320.3" y1="156.3" x2="318.2" y2="197.5"/><line x1="318.2" y1="197.5" x2="291.1" y2="222.1"/><line x1="326.3" y1="157.7" x2="324" y2="198.9"/><line x1="324" y1="198.9" x2="296.9" y2="223.9"/><line x1="332.3" y1="159" x2="329.8" y2="200.4"/><line x1="329.8" y1="200.4" x2="302.7" y2="225.7"/><line x1="255" y1="171.8" x2="283.7" y2="148.9"/><line x1="283.7" y1="148.9" x2="338.6" y2="161.5"/><line x1="255.1" y1="175.7" x2="283.6" y2="152.9"/><line x1="283.6" y1="152.9" x2="338.4" y2="165.6"/><line x1="255.2" y1="179.6" x2="283.5" y2="156.8"/><line x1="283.5" y1="156.8" x2="338.1" y2="169.6"/><line x1="255.3" y1="183.4" x2="283.4" y2="160.8"/><line x1="283.4" y1="160.8" x2="337.8" y2="173.6"/><line x1="255.4" y1="187.3" x2="283.3" y2="164.7"/><line x1="283.3" y1="164.7" x2="337.6" y2="177.6"/><line x1="255.5" y1="191.2" x2="283.2" y2="168.7"/><line x1="283.2" y1="168.7" x2="337.3" y2="181.6"/><line x1="255.5" y1="195.1" x2="283.2" y2="172.6"/><line x1="283.2" y1="172.6" x2="337.1" y2="185.6"/><line x1="255.6" y1="199" x2="283.1" y2="176.6"/><line x1="283.1" y1="176.6" x2="336.8" y2="189.6"/><line x1="255.7" y1="202.8" x2="283" y2="180.5"/><line x1="283" y1="180.5" x2="336.5" y2="193.7"/><line x1="255.8" y1="206.7" x2="282.9" y2="184.4"/><line x1="282.9" y1="184.4" x2="336.3" y2="197.7"/></g>
<polyline points="308.8,227.7 336,201.9 338.7,160.5" fill="none" stroke="#555" stroke-width="0.75"/>
<polyline points="336,201.9 338.7,160.5" fill="none" stroke="#333" stroke-width="0.9"/>
<polyline points="255.9,210.8 308.8,227.7" fill="none" stroke="#222" stroke-width="1"/>
<g stroke="#333" stroke-width="0.9"><line x1="337.9" y1="161.5" x2="339.9" y2="161.5"/><line x1="337.7" y1="165.6" x2="339.7" y2="165.6"/><line x1="337.4" y1="169.6" x2="339.4" y2="169.6"/><line x1="337.1" y1="173.6" x2="339.1" y2="173.6"/><line x1="336.9" y1="177.6" x2="338.9" y2="177.6"/><line x1="336.6" y1="181.6" x2="338.6" y2="181.6"/><line x1="336.4" y1="185.6" x2="338.4" y2="185.6"/><line x1="336.1" y1="189.6" x2="338.1" y2="189.6"/><line x1="335.8" y1="193.7" x2="337.8" y2="193.7"/><line x1="335.6" y1="197.7" x2="337.6" y2="197.7"/></g>
<path d="M330.4 175.3h0M329 177h0" stroke="#aec7e8" stroke-width="1.6" stroke-linecap="round" stroke-opacity="0.6"/>
<path d="M294.8 172.9h0M283.8 177.2h0M290.9 174.9h0M291.9 176.5h0M288.5 175.5h0M291 175.9h0M293.2 172.2h0M296 176.1h0M289.7 177.5h0M289.5 175.2h0M287.4 175.6h0M292.2 174.6h0M286.5 176.7h0M294.7 174.2h0M287.3 175.7h0M289.2 177.3h0M286.8 176.1h0M288.5 177.8h0M297.5 175.2h0M290.2 175.5h0M287.7 173.7h0M289.4 173.5h0M292.6 176.5h0M293 174.4h0M290 174.3h0M291.7 172.5h0M294.7 175.1h0M286.5 177.4h0M286.4 178.4h0M293.7 174.7h0M292 175.7h0M289.2 173.5h0M291.3 176.1h0M289 176.2h0M287.8 175.4h0M293.3 173.6h0M289 172.3h0M293 177.1h0M291.4 174.5h0M286.8 176h0M296.1 177.7h0M288.9 174.6h0M290.1 172.5h0M296 175.2h0M290.6 177.1h0M292.5 177.6h0M288.1 174.4h0M290.7 171.3h0M292.4 174.4h0M293.7 175.1h0M285.4 173.8h0M296.2 175.6h0M293.8 175.6h0M288 177.5h0M291.8 178h0M291.8 173.8h0M291.9 177.1h0M288 175.5h0M291.1 175.4h0M292.6 174.8h0M286.3 176.2h0M294.2 172.8h0M289.9 177.4h0M291.7 174.6h0M287.2 178.6h0M293.9 174.6h0M291.8 173.6h0M291.3 178.8h0M288.1 173h0M286.3 174.8h0M297.3 171.8h0M285.5 173.9h0M288.3 171.4h0M290.4 179h0M285.9 178.1h0M294.1 177h0M292 174h0M285.5 176.6h0M293.5 175.9h0M292.8 175.7h0M296.8 176.8h0M289 179.4h0M293 176.2h0M294.8 178.4h0M289.9 178.2h0M289.1 174.2h0M293.4 174.8h0M294.2 176.4h0" stroke="#aec7e8" stroke-width="1.3" stroke-linecap="round" stroke-opacity="0.55"/>
<path d="M293.2 173.1h0M285.7 172.9h0M292.5 175.2h0M290.9 179h0M289.7 176.1h0M284.8 176.7h0M292 172.6h0M294.4 174.1h0M285.6 174.9h0M297.1 174.9h0M291.1 172.9h0M290.8 173.7h0M287.2 174.9h0M286.9 175.7h0M290.8 175.6h0M287.6 174.9h0M294.1 175.9h0M291.4 175.9h0M293.8 172h0M295.2 178.9h0M288 177.7h0M288.3 175.2h0M284.3 176.1h0M297.2 176.5h0M288.5 173.5h0M292.7 174.5h0M290 173.9h0M287.9 175.4h0M294.2 171.9h0M296.6 176h0M288.1 175.9h0M292.4 176.1h0M286.6 173h0M291.7 178.6h0M294.1 174.5h0M289.7 176.2h0M289.2 176.9h0M285.9 178.5h0M290 175.2h0M289.2 178.5h0M297.1 174.9h0M290.7 175.9h0M289.4 177.4h0M288.7 175.6h0M290.5 175.2h0M292.7 177.1h0M288.5 176.9h0M290.7 176.7h0M287.6 178.4h0M288.6 172.4h0M292.2 177.2h0M288 173.5h0M285 173.1h0M287.8 174.3h0M285.4 175.8h0M292.2 176.8h0M291.9 174.6h0M284.6 176.3h0M287.2 176.2h0M289.5 174.7h0M292.9 173.6h0M294.1 175.8h0M294.3 177.8h0M295 175.4h0M292.1 177.9h0M289.3 174.2h0M294.4 175.6h0M292.7 173.9h0M293.7 177.4h0M289.7 177h0M289.2 172.3h0M290.9 176.4h0M290.5 176.6h0M292.1 176h0M294.7 176.7h0M288.9 177h0M290.1 177.5h0M293.3 176.4h0M292.2 177.1h0M288.1 176.8h0M289.9 176.4h0M294.9 172.4h0M291.6 174.8h0M290.9 174.1h0M285.3 175h0M284 178.3h0M291.4 178.9h0M286.2 175.3h0" stroke="#aec7e8" stroke-width="1.3" stroke-linecap="round" stroke-opacity="0.55"/>
<path d="M294.6 172.4h0M289.1 177h0M287.4 174.4h0M296.4 175.7h0M293.3 175.1h0M293.4 178.9h0M292 177h0M289.7 179.7h0M294.7 175.7h0M290.1 176.1h0M288.5 176.2h0M288.8 177.1h0M294.8 175.1h0M296.7 176.3h0M295.4 178.4h0M287 178.1h0M292 176h0M292.5 173.2h0M290 175.9h0M292.5 174.8h0M292.7 173.9h0M289.1 175.5h0M289.5 173.5h0M289 179.4h0M287.8 176.2h0M290.2 177.9h0M295.8 177.2h0M292.9 175.1h0M293.3 174.9h0M286.9 175.4h0M289 178.8h0M291.7 178.6h0M293.9 173.1h0M298.4 177.2h0M296.8 173.6h0M291.3 176.6h0M288.9 177.1h0M284.5 175.8h0M287.6 175.8h0M287.8 178h0M294.5 178.8h0M292.8 177.1h0M293.5 172.9h0M294.3 176.3h0M293.1 173.3h0M289.7 173.9h0M293 178.4h0M288.2 173h0M297.3 173.8h0M285.1 175.2h0M294.2 175.5h0M287 174.7h0M287.5 174.4h0M290.9 177h0M293.9 172.3h0M288.1 174.2h0M290.9 173.7h0M295.4 176.7h0M293.9 179.3h0M290.1 178.7h0M294.1 173.5h0M289.1 172.4h0M287.8 177h0M292.5 177.4h0M291.8 175h0M290.7 175.8h0M286.5 173.7h0M288.6 179h0M287.6 179h0M289.7 177.4h0M292.4 175.8h0M291.7 179.2h0M287.1 177.3h0M289.8 173.3h0M293.1 172.8h0M293.3 178.9h0M284.7 173.8h0M292.2 172.8h0M292.8 174.2h0M293.9 176.6h0M291.2 175.1h0M291 175.7h0M287 172.2h0M296.5 177.9h0M293.5 175.8h0M292 177.2h0M293 176.7h0" stroke="#aec7e8" stroke-width="1.3" stroke-linecap="round" stroke-opacity="0.55"/>
<path d="M288.6 174.3h0M288.2 179.5h0M291.6 178.7h0M292.8 175.4h0M294.8 173.2h0M290.8 176.7h0M291.9 171.4h0M290.3 174.6h0M291.8 175.1h0M296.1 176.5h0M289.5 178.9h0M290.8 171.7h0M290.1 174.7h0M296.4 178h0M293.7 178h0M289.8 177.2h0M291.1 175h0M286.7 173h0M289.4 177.9h0M290.4 178.1h0M288.7 175.6h0M289.9 174.1h0M293.6 176.1h0M288.2 178.6h0M290.7 172.2h0M292.9 174.1h0M286.1 175.3h0M286.7 174.6h0M294.2 176.2h0M289.9 176.3h0M287 174.9h0M289 176.4h0M294.8 178.6h0M294.1 178.1h0M290.4 175.7h0M288.1 173.2h0M293.1 175.3h0M288.5 174.2h0M287 176.5h0M289.9 172.4h0M290.9 178h0M284.7 176.3h0M289.6 174.8h0M293 175.2h0M293.5 173.6h0M294.5 175.2h0M287.2 175.6h0M296.1 176.1h0M295.1 175.5h0M290.1 173.1h0M293.3 172.9h0M293.5 173.8h0M291.6 175.9h0M291.9 174.6h0M295.3 176.6h0M287.8 175.9h0M294.1 173.5h0M293.3 176.5h0M289.7 176.2h0M285.4 173.2h0M296.1 175.7h0M293.7 176.9h0M291.7 174.3h0M297.5 177h0M286.6 176h0M294 174.9h0M290.5 177.8h0M288.6 174h0M294.5 174.9h0M289.1 178.1h0M288.4 176.1h0M291.4 174h0M286.5 176.9h0M289 173.6h0M292.9 176.7h0M293.6 176.1h0M293.9 174.3h0M288.9 177h0M292 176.6h0M285.9 176.5h0M293.3 176.4h0M295.2 175.7h0M288.7 177.5h0M293.2 176.7h0M296.9 176.6h0M287.5 173.7h0M292.5 174.9h0" stroke="#aec7e8" stroke-width="1.3" stroke-linecap="round" stroke-opacity="0.55"/>
<path d="M286 181.7h0M290 181.4h0M288.7 179.8h0M289.1 177.4h0M288.2 179.6h0M283.8 180.1h0M289.3 180.1h0M291.9 177.6h0M289.4 181.7h0M287.9 181.7h0M295.7 177.9h0M292.6 177.8h0M286.9 179.5h0M291.7 178.2h0M293.6 179.3h0M286 177.1h0M292.9 180.6h0M286.4 179.8h0M285.8 178.7h0M292.6 179.5h0M289.8 178.8h0M288.4 180h0M294.4 179.6h0M288.4 178.4h0M286.5 178.3h0M290.1 177.8h0M290.4 180.6h0M288.5 177.2h0M285 181.3h0M289 179.5h0M287.8 181h0M290.2 180.1h0M292.5 178.3h0M288 179.9h0M283.3 179.9h0M286.1 179.1h0M288.3 178.5h0M285.5 181.4h0M291.4 181.2h0M290.2 181.1h0M288 181.1h0M285.1 179.1h0M292.6 178.2h0M289.2 179.6h0M288.2 180.4h0M287.8 178.8h0M287.2 179h0M289.1 179.7h0M289.6 179.2h0M287.7 177.3h0M294.1 179.3h0M290.5 180.3h0M288.8 179.5h0M283.9 179.1h0M286.3 180.6h0M283.2 178.6h0M291.9 179.9h0M292.3 181.4h0M292.7 180.6h0M291.3 178.9h0M284.2 181.1h0M290.4 179h0M286.1 179.1h0M289 181.1h0M287.5 178.5h0M292 177.7h0M291.5 177.9h0M288.3 177.1h0M286.3 182.3h0M288.3 178h0M291.1 181.4h0M290.8 178.2h0M292.7 180.8h0M290.9 177.7h0M287 177.4h0" stroke="#9467bd" stroke-width="1.3" stroke-linecap="round" stroke-opacity="0.55"/>
<path d="M290.3 179h0M286.8 180.6h0M291.2 179.4h0M290.1 182.2h0M286.2 178.2h0M286 178.4h0M291.9 180.5h0M284.2 179.6h0M285.6 179.6h0M291.9 177.4h0M286 178.3h0M284.7 178.8h0M290.6 181.8h0M283.9 179.1h0M285.9 178h0M290.4 177.2h0M282.8 180.3h0M292.4 180h0M291.7 181.5h0M283.5 178.4h0M292.1 180.2h0M287.8 178h0M286.3 178.9h0M292.2 179.8h0M289.8 177.6h0M287.3 182.3h0M291.6 178.9h0M294 180.5h0M289.4 178.8h0M291.4 179.5h0M286.9 180.3h0M291.9 179.6h0M292.2 179.9h0M288.3 180.3h0M283.4 181h0M286.2 179.6h0M285.4 178.7h0M286.5 180.1h0M289.9 180.6h0M288.9 180.2h0M289.9 180.4h0M284.9 178.1h0M291.4 179.4h0M292.3 180.3h0M291.6 178.7h0M289 178.6h0M291.3 179h0M287.4 180.4h0M287.8 178.6h0M292.7 180.4h0M291.1 178.2h0M286.4 180.1h0M291 180.7h0M289.6 180.4h0M288.2 180.3h0M288 181.7h0M294.1 177.9h0M288.4 178.1h0M290.4 179.9h0M289.5 179.9h0M291.5 177.8h0M291.4 178.8h0M287.6 179h0M290.3 177.4h0M293 177.9h0M285.4 180.7h0M290 182.4h0M287.5 178.4h0M291.1 180.6h0M285.9 180.2h0M289.2 176.4h0M286.4 179.8h0M292.6 178.8h0M291 181h0M283.9 178.9h0" stroke="#9467bd" stroke-width="1.3" stroke-linecap="round" stroke-opacity="0.55"/>
<path d="M292.1 179.8h0M291.3 180h0M287.1 179h0M291.8 178.7h0M290.9 179.1h0M291.1 178.9h0M287.8 179h0M285.8 178.9h0M286.8 179h0M290.8 179.1h0M290.6 178.6h0M287.5 178.8h0M292.9 179.9h0M289.9 179.2h0M290.1 177.9h0M284.1 180.1h0M293.5 179.6h0M290.2 182.3h0M292.7 180.9h0M295.4 179.5h0M283.2 178.6h0M289.5 178.9h0M286.7 178.6h0M288.9 179.7h0M285.7 179.7h0M289.3 179.8h0M286.7 179.3h0M285.1 181.9h0M288.2 180.9h0M290.6 179.5h0M292.5 179.8h0M287.9 179.3h0M286.5 178.8h0M290.6 180.2h0M286.8 178.8h0M285.7 179.9h0M289.7 178.1h0M289 180.8h0M284.6 178.1h0M290.3 178.4h0M287.8 178.8h0M290.7 179.9h0M294.2 178.7h0M289 179.1h0M284.6 179.9h0M292.3 180.7h0M288.1 177.9h0M289.2 180h0M290.3 181.3h0M293.7 180.4h0M286.1 181.9h0M286.5 178.5h0M286.7 181.8h0M289.9 179.1h0M290.6 181.6h0M289.6 178.4h0M290.1 177.9h0M286.6 180.9h0M289.4 179.3h0M288.7 178.8h0M288.2 179.4h0M286.5 178.7h0M287 179.1h0M286 177.5h0M287 180.3h0M289.7 179.5h0M287.7 180.3h0M291 181.3h0M289 179h0M293.2 179.8h0M291.1 178h0M291.3 179.3h0M289.8 177.4h0M291.9 180.4h0M285.4 178.9h0" stroke="#9467bd" stroke-width="1.3" stroke-linecap="round" stroke-opacity="0.55"/>
<path d="M284.2 179.9h0M289.2 179.6h0M288.1 179.1h0M284.5 179.2h0M292.3 178h0M291.2 178.6h0M291.7 180.9h0M289.2 179.1h0M285.5 180.1h0M288.1 181.1h0M285.9 180.6h0M291.9 178.4h0M287.6 181h0M287.2 178.1h0M293.3 177.3h0M291.9 178.5h0M286.1 179.1h0M289.5 181.5h0M290.2 180.7h0M288.4 178.5h0M288.7 178.7h0M286.7 178.5h0M287.1 180.3h0M288.3 180.4h0M295 179.4h0M286.7 180.7h0M289.1 180.3h0M285.2 177h0M287 180h0M285 178.7h0M289.7 179h0M288.9 180.3h0M285.6 177.8h0M290.4 180h0M286.2 180.2h0M288.3 178.3h0M289.1 180.3h0M287.4 179.3h0M288.3 179.8h0M283.3 179.2h0M290.3 181.3h0M287.3 179.4h0M287.8 178.4h0M292 179h0M287.9 181.9h0M290.7 180.5h0M287.8 179h0M289.1 178.7h0M288.7 180.3h0M293.7 176.6h0M283.7 180.4h0M287.7 181h0M290.2 179.6h0M288.5 178h0M286.8 179.5h0M293.9 182.6h0M293.8 180.7h0M295.4 181.2h0M285.3 179.7h0M289 179.1h0M291.4 178.7h0M286.4 179h0M292.2 180.5h0M284.7 181.2h0M289.6 180.1h0M288.7 180h0M295.6 178.9h0M289.5 180h0M283.8 181.6h0M286 178h0M290.2 180.1h0M286.9 177.6h0M288.6 179.3h0M292.4 180.2h0M288.3 177.8h0" stroke="#9467bd" stroke-width="1.3" stroke-linecap="round" stroke-opacity="0.55"/>
<path d="M287.6 184.9h0M295.1 183.3h0M290.1 185.1h0M289.5 185.3h0M293.8 182.1h0M290.1 186.9h0M286.9 183.9h0M292.2 185.3h0M291 183.1h0M286.9 184.8h0M292.2 186.7h0M290.5 188.8h0M289.6 182.6h0M287 183.6h0M294.3 186.2h0M291.3 185.8h0M285.5 185.5h0M290.5 182.5h0M292.7 184.6h0M292.6 186.9h0M291.4 183h0M292.2 185.8h0M291.1 187.2h0M289.5 187.1h0M291.3 182.9h0M291.7 184.9h0M290.3 187h0M290.9 185.1h0M291.5 186.3h0M288.8 188.4h0M290.7 183h0M291.2 186.2h0M291 187h0M292.3 185.2h0M291.6 183.9h0M288.2 181.9h0M291.5 185.8h0M288.4 181.8h0M292.2 183.7h0M291 185.8h0M288.7 187.2h0M289.5 186.3h0M291.9 182.8h0M292.5 184.3h0M288.5 185.8h0M289.7 187h0M291.5 184.9h0M290.5 186.4h0M294.4 186.1h0M289.6 185.4h0M293.8 182.4h0M290.9 185.6h0M292 188.2h0M289.9 187.2h0M287.5 187.1h0M290.6 183.3h0M295.4 187.8h0M289.4 185.2h0M286.1 186.1h0M292.2 184.1h0M288.4 185.5h0M293.8 185.4h0M288 187.8h0M295.5 187.4h0M291.4 187.5h0M291.9 187.4h0M291 183.8h0M291 186.8h0M294.8 183h0M292.7 184.8h0M290.7 187.8h0M295 182.2h0M288.5 187.8h0M292.9 181.7h0M288.4 180.8h0M292.1 188.2h0M292.7 183.6h0M291.6 185.2h0M292.8 185.6h0M285.4 182.6h0M289 183.3h0M292.1 185.3h0M290 183.5h0M294.7 185.1h0M289.5 184.7h0M287.1 183.8h0M286.8 187.9h0M289.8 181.7h0M290.4 184.4h0M290.1 188.9h0M289.4 184.8h0M286.4 182.4h0M289.2 182.1h0M293.1 183h0M289.8 183.7h0M292.5 186.5h0M290.1 187h0M295.5 187.6h0M290 183.5h0M290.6 182.9h0" stroke="#ff9896" stroke-width="1.3" stroke-linecap="round" stroke-opacity="0.6"/>
<path d="M294.3 187.2h0M291.4 184.5h0M289.9 186.2h0M293.1 180.9h0M288.8 187.1h0M291.4 183h0M292.6 184.4h0M290.1 184.2h0M291.4 183.8h0M290.6 183h0M289.9 182.9h0M294.3 183.1h0M293.1 186.4h0M289.4 186.7h0M288.4 184.9h0M287.9 185.7h0M286.8 187h0M289.4 182.2h0M289.6 185.6h0M290.6 183h0M289.4 185.3h0M293.1 181.6h0M287.3 183.9h0M291.3 186h0M293.1 184h0M286.6 188.1h0M290.1 184.9h0M292.8 184.8h0M290.3 184.2h0M290.2 183.9h0M291.6 184.7h0M290.8 187.9h0M290.6 184.8h0M289.2 184.7h0M294.2 186.5h0M290.8 184.7h0M293.2 185.6h0M290 185.2h0M289.9 188.2h0M292.1 183.5h0M293.1 188.3h0M288.8 185.3h0M290.6 182.8h0M290.1 180.9h0M289.4 184.6h0M292.6 180.3h0M288.6 189.4h0M289.4 187h0M294.3 184.1h0M294.6 186.6h0M287.9 182.5h0M291.4 186.7h0M289.5 185.7h0M293.6 188.6h0M285.5 183.7h0M288.4 187.1h0M288.6 185.4h0M286.3 184.9h0M289.1 186.4h0M290.8 185.1h0M285.2 180.6h0M286.4 184.3h0M294.1 182.1h0M293 183.8h0M288.5 184h0M289.1 183.5h0M287.4 181.9h0M287.3 181h0M288.4 183.9h0M292.7 188h0M289.2 180.3h0M289.9 182.6h0M286.7 188.4h0M290.6 183.7h0M289 182.5h0M293.9 183.3h0M289.8 187.7h0M291.2 187.4h0M291.1 182.2h0M289 186.8h0M289.3 185h0M290.9 182.9h0M292.8 182.2h0M289.7 181.6h0M288 183.8h0M293 186.5h0M290.8 187.7h0M288.4 182.5h0M291.9 189.6h0M294.5 185h0M293.6 185.8h0M286.3 184h0M291.1 182.3h0M289.1 187.3h0M289.3 186.7h0M291.5 187.8h0M289.8 186.2h0M293.4 187.3h0M288.9 187.3h0M290.4 185h0" stroke="#ff9896" stroke-width="1.3" stroke-linecap="round" stroke-opacity="0.6"/>
<path d="M291.5 186h0M293.5 185.1h0M291.8 183.5h0M291.1 184.9h0M289.5 186.3h0M289.1 184.1h0M290 183h0M292.5 184.4h0M290.3 187.7h0M288.5 188.8h0M293.5 188.1h0M293.7 185.2h0M289.2 185.7h0M294.4 182.7h0M286.4 186.9h0M288.3 186.4h0M290.7 183.9h0M288.5 182.1h0M293.1 185.1h0M294.9 187.5h0M293.3 184.3h0M289.8 183.7h0M289.8 185.6h0M291.1 184h0M286.5 185.2h0M285.3 183.6h0M291.3 189.3h0M288.4 188.1h0M292.7 187.3h0M290.6 182h0M296.4 185.6h0M290.2 183.1h0M291 186.5h0M289 185.7h0M292.1 183.9h0M284.9 185.4h0M292.9 186.1h0M289.6 185h0M286.7 184.8h0M286.2 181.9h0M293.1 186.9h0M290.5 186h0M294.1 184.6h0M294.6 185.8h0M292.7 185.7h0M288.4 188.7h0M286.7 184h0M289.7 185.7h0M289.8 181.1h0M291.1 183.5h0M286.5 185.4h0M289.8 186.2h0M288.4 184.4h0M287.3 184.2h0M294.4 185.2h0M285.7 185.1h0M293.4 184.5h0M294.7 183.2h0M285.1 188.2h0M287.4 185.9h0M292.5 182.7h0M288.3 186.4h0M293.1 185.3h0M289.9 186.3h0M286.5 184.4h0M292.7 184.3h0M295.2 186.3h0M290.6 186.2h0M286.4 182.8h0M293.4 184.7h0M292.5 181.6h0M294.5 184h0M294.5 187.5h0M289.5 187.4h0M289.7 184.5h0M290.6 182.7h0M292.5 185.4h0M286.1 183.7h0M295.9 187.5h0M291.8 187.5h0M289.4 185.3h0M291.1 187.8h0M289.9 183.1h0M293.1 188.6h0M294.3 186.4h0M292.4 182.2h0M290.6 184.3h0M292.8 185.1h0M290.7 187h0M290.6 185.3h0M290.8 184.7h0M292.1 180.9h0M288.5 183.5h0M289.6 184.5h0M291.5 183.5h0M291.9 185.4h0M291.5 184.2h0M289.6 186.4h0M291.4 181.6h0M293.2 183.5h0" stroke="#ff9896" stroke-width="1.3" stroke-linecap="round" stroke-opacity="0.6"/>
<path d="M294 182h0M290.9 186.2h0M292.7 184.8h0M294.5 185.3h0M291.7 183.6h0M290.2 186.9h0M287.4 187.4h0M290.1 181.1h0M287.8 184.4h0M289.5 186.1h0M288.9 187.8h0M286.9 186.2h0M287.4 186h0M292.9 186h0M293 187.3h0M291 185.8h0M291 185.3h0M293.2 187.6h0M288.3 181.3h0M293.9 187.7h0M293.2 183.9h0M288.4 189.4h0M291.8 188.3h0M293.9 183h0M286.7 185.6h0M286.1 183.6h0M290 182.1h0M290.3 185.3h0M290.3 185.5h0M293.7 188.4h0M292.7 183.2h0M288 185.8h0M292.3 184h0M291.7 187h0M290.2 185h0M295.2 186.1h0M291.4 186.4h0M291.8 186.7h0M294.7 186.4h0M290.4 184.8h0M294.7 182.7h0M287.7 184.6h0M294.6 184.6h0M288.6 181.3h0M290.9 186.3h0M288.2 182.3h0M292.4 185.4h0M293.5 184.1h0M290.3 184.9h0M285.4 188.4h0M290.2 185h0M291.9 181.6h0M290.3 181.8h0M295.6 181.6h0M290.2 181.3h0M292.9 183h0M291.1 183.9h0M295.5 185.1h0M290.2 187.1h0M294 184.2h0M287.9 187.7h0M290.1 180.6h0M291.4 183.1h0M290.3 183.5h0M288.1 184.9h0M290.5 182.7h0M293.3 181.2h0M288 187h0M289.2 185.3h0M289.3 183.9h0M292.2 184.4h0M287.8 187.9h0M289.3 187.4h0M290.3 186.8h0M290.9 182.7h0M291 181.3h0M296 184h0M292.4 184.5h0M292.6 182.8h0M289.4 182.7h0M288.4 187.2h0M295.5 182.8h0M288.1 183.4h0M292.2 186.4h0M293.8 185.8h0M291.3 182.3h0M295.8 186h0M292.6 188.5h0M292.3 189.4h0M286.8 184.4h0M288.8 189.4h0M289.3 183.1h0M289.6 185.2h0M288.8 188h0M291.5 184.8h0M291.7 188.1h0M289.9 182.4h0M292.3 184.8h0M292.2 186h0M294.7 184.6h0" stroke="#ff9896" stroke-width="1.3" stroke-linecap="round" stroke-opacity="0.6"/>
<path d="M299.6 183.1h0M298.1 182.3h0M296.1 189.7h0M297.6 190.4h0M297.8 187h0M296.7 183.1h0M300.1 184.4h0M297.1 180.5h0M297.5 185.8h0M296.9 181.5h0M296.9 182.6h0M296.9 185.9h0M298.1 187.9h0M297.7 182.6h0M298.4 189.1h0M298.8 189.9h0M297.6 186.2h0M295.2 187.3h0M296.3 185.9h0M297.1 183.9h0M297.1 180.8h0M297.5 190.5h0M298 184.1h0M298.7 185h0M295 180.1h0M297.6 189.2h0M297.9 186.6h0M299.7 186.9h0M297.2 182.8h0M299.2 186.1h0M299.7 188.7h0M297.6 183.4h0M299.7 185.1h0M299.4 188.1h0M297.3 183.5h0M297.7 188.3h0M298.4 183h0M297.2 186.4h0M299.1 185.7h0M299.8 181.9h0M299.1 191.6h0M297.5 182.3h0M296.4 186h0M298 186.3h0M298 187.2h0M297.3 187.1h0M297.9 186.2h0M298.7 187.7h0M298.2 186.5h0M299.8 184h0M301 185.6h0M299.3 186.1h0M299.5 187.2h0M299.2 183.9h0M298.3 185.8h0M296.9 187.8h0M296.1 185.4h0M297.6 181.9h0M296.3 185.9h0M296.9 187h0M298.9 184.6h0M299.8 188.1h0M295.5 189.4h0M299.1 189h0M299.7 185.6h0M295.6 181.5h0M297.4 187.1h0M298 189.4h0M297.7 186.8h0M295.1 185.4h0M297.3 185.7h0M297.8 183.8h0M298 184.5h0M297.8 183.4h0M296.4 183.2h0M296.9 179.6h0M296.3 184.5h0M299.6 181.3h0M298.8 186h0M298.3 187.7h0M301.1 184.5h0M296.3 181.4h0M298.5 183.2h0" stroke="#ff7f0e" stroke-width="1.3" stroke-linecap="round" stroke-opacity="0.6"/>
<path d="M296.7 180.6h0M300 184.3h0M298.6 181.2h0M298.4 179.6h0M297.2 181h0M297.9 185.2h0M299.4 184.3h0M296.6 187.1h0M298.2 182.2h0M301.1 187.8h0M298.3 182.6h0M298 189.7h0M294.9 186h0M297.7 182h0M298.7 185.2h0M299.5 190.3h0M297.1 189.1h0M299.2 179.6h0M299.9 181.7h0M299.1 187h0M298.1 190.5h0M296.7 188.9h0M299.7 185.3h0M298.9 182.6h0M300.3 182.3h0M296.7 186h0M296.6 184.6h0M299.7 182.8h0M296.2 186.4h0M301.3 190.4h0M298.2 184.2h0M299.6 184.4h0M299 180.1h0M296.7 183.5h0M298 185h0M297.5 187.9h0M299.4 188.6h0M296.4 179.9h0M298.6 190.2h0M296.8 184.4h0M296.9 186.6h0M299.2 185.5h0M299 187.1h0M298.1 187.4h0M298.4 186.7h0M296.4 182h0M301.2 188.1h0M299.6 190h0M298 187.5h0M297.7 184.6h0M301.2 189.8h0M298.7 183.6h0M297.9 184.5h0M300.8 186.6h0M297.6 184h0M296 189h0M298.1 185.9h0M299.4 189.3h0M299.2 185.4h0M296.5 187.7h0M297.5 184.5h0M299.8 187.8h0M295.6 179.8h0M300.4 187.5h0M297.7 184h0M297.6 191.2h0M297.5 186.8h0M300.6 187.2h0M298.2 190.5h0M298.8 185.6h0M297.7 183.6h0M300 180.1h0M297.1 186.2h0M298.6 180.1h0M296 184.5h0M299.2 187.2h0M301.5 182.1h0M297.2 189.6h0M300.5 188.4h0M299.5 187.7h0M299.8 186.6h0M300.3 181.1h0M296.9 188.7h0" stroke="#ff7f0e" stroke-width="1.3" stroke-linecap="round" stroke-opacity="0.6"/>
<path d="M298.6 185h0M300.1 186.7h0M299.9 183.4h0M296 184.4h0M299.1 180.5h0M297.5 186.9h0M298.2 186.6h0M298.3 186.8h0M295.8 188.3h0M300.3 189.7h0M295.9 185.6h0M299.1 182.8h0M296.1 183.9h0M294.9 190.8h0M297.1 182.7h0M296.6 186.2h0M299.6 185.6h0M297.5 185.4h0M299.2 180.9h0M300 190.7h0M298.4 183.6h0M299.7 185.9h0M297.1 189.6h0M294.8 188.2h0M300 189.7h0M299.1 182.3h0M299.7 183h0M299.3 186h0M300.3 182.2h0M299.7 187.1h0M297.5 184h0M295.9 181.8h0M295.3 181.8h0M298.6 181.2h0M297.4 187.2h0M297.3 180.9h0M296 186.7h0M296.3 185.6h0M300.9 183.9h0M297.3 183.7h0M297 185.4h0M301.1 181.2h0M298.4 187.5h0M300.4 187.5h0M298.7 190.5h0M297.3 191.9h0M298.8 187.7h0M301.7 183.2h0M297.5 182.7h0M297.4 188.3h0M299 183.9h0M299.7 184.4h0M297.5 187.5h0M299.1 190.2h0M296 188.8h0M294.8 184.8h0M298.2 184.3h0M299.4 185.4h0M298.8 187.3h0M298.7 187.7h0M296.8 185.6h0M300 185.6h0M299.4 184h0M298.2 185.9h0M297.6 189.7h0M300.3 185.7h0M297.8 187.2h0M299.8 183.2h0M297.6 186.3h0M298 189.1h0M300.3 189.5h0M295.8 188.1h0M296.7 187.4h0M298 184.9h0M298.8 187.7h0M297.6 188.3h0M297.4 185.1h0M299.9 188.6h0M298.2 183.9h0M299.4 181.7h0M298.1 188.2h0M297.2 187.5h0" stroke="#ff7f0e" stroke-width="1.3" stroke-linecap="round" stroke-opacity="0.6"/>
<path d="M299.2 190.1h0M296.9 188.3h0M300.6 188.1h0M295.5 187.9h0M296.6 183.8h0M300.8 184.5h0M297.5 190.4h0M300.5 184.2h0M297.5 183.8h0M296.6 188.3h0M296.5 184.5h0M298.4 185.8h0M299 182.2h0M301.5 184h0M299 183.6h0M298.1 189.9h0M301.2 184.8h0M297.1 183.2h0M298.1 184.8h0M300.7 186.3h0M299 188.7h0M299 188h0M297.7 186.4h0M297.9 189.4h0M299.1 183.2h0M298.7 187.4h0M298.5 190.8h0M298.3 183.5h0M297.8 187.1h0M297.5 187.8h0M299 187h0M298.6 182.3h0M296.5 181.1h0M301.7 188.5h0M298.7 188h0M299.6 191.6h0M297.1 185.8h0M299.2 185.4h0M298 182.2h0M296.8 188.4h0M297.4 186h0M299.3 186.4h0M298.3 184h0M298.5 182.3h0M299.2 190.9h0M296.2 186.9h0M300.4 185.9h0M298 184.6h0M297.9 188.8h0M296.9 182.5h0M297.1 186.6h0M297.5 184.6h0M298.6 188.4h0M296.8 190.3h0M298.5 186h0M298.7 186.9h0M301.4 184.9h0M297.4 179.8h0M297.9 190.1h0M297.4 185.9h0M300.3 183.5h0M299.5 181.7h0M298.5 187.8h0M299.9 181.5h0M295.9 182.3h0M298.1 188.8h0M300.8 189.5h0M295.1 182.4h0M296.6 188.5h0M297.6 187.1h0M298.6 184.7h0M296 186.9h0M297.1 184.9h0M295.2 191.2h0M299.2 184.4h0M299.8 188.1h0M296.2 180.3h0M296.7 185.9h0M300.3 188.6h0M295.2 187.1h0M298.4 189.1h0M300.4 185.1h0" stroke="#ff7f0e" stroke-width="1.3" stroke-linecap="round" stroke-opacity="0.6"/>
<path d="M305.5 195.7h0M311.7 191.4h0M309.9 196.6h0M313.9 196.1h0M316 195.1h0M310.5 193.5h0M314 189h0M309.2 195.3h0M316.1 197h0M306.9 192.4h0M316.8 194.3h0M314.3 196.3h0M307.6 186.8h0M310.2 190.8h0M306 200.1h0M316.4 195.2h0M311.4 197h0M302.4 196h0M304.2 197.4h0M314.8 193.1h0M303.2 195.9h0M317.5 197.4h0M315.6 190.6h0M307.3 191.1h0M312.7 192.5h0M309.3 197.1h0M310.5 195.9h0M304.3 193h0M308.4 190.5h0M309.6 195.9h0M308.1 191.3h0M308.5 195.1h0M306.7 191.8h0M312.5 192.2h0M302.9 193.6h0M317.8 189.3h0M313.1 197.4h0M317.1 194.9h0M309 189.5h0M309.2 193.5h0M309 198.9h0M312.8 188.3h0M311.5 193.2h0M304.7 187h0M305.7 190.9h0M308.4 195.8h0M315.7 191.7h0M312.9 199.6h0M311.7 194.9h0M310.9 191.6h0M301.9 199.1h0M304.6 192.8h0M315.6 189.8h0M303.9 193.5h0M304.9 195.1h0M318.1 193.6h0M315.1 191.7h0M312.1 194.3h0M307.9 193.6h0M304.8 189.1h0M310.5 195.6h0M309.3 191.2h0M313 188.1h0M311.3 192.7h0M301.6 194.2h0M316.2 189.6h0M308.6 189.3h0M311.8 193.7h0M306.6 191.6h0M315.1 194.2h0M303.5 188.3h0M302.3 198.4h0M305.2 190.7h0M304.8 189.1h0M315.3 194.1h0M316.6 198.2h0M310.3 195.8h0M303.9 195.1h0M311.4 197.8h0M311.6 196h0M302.2 186.9h0M310.7 194.8h0M306.7 192.6h0M303.4 189.8h0M304.3 196.1h0M313.3 190.5h0M304.6 195.9h0M309.7 194.1h0M310.2 192.1h0M316.2 188.6h0M309.9 197.2h0M308.6 192.5h0M312.8 191.3h0M314.7 192.3h0M314.9 195.6h0M315.9 190.8h0M312.5 195.4h0M310.5 195h0M306.3 196.7h0M310.2 189h0M305.5 193.1h0M308.3 191.7h0M310.8 190.3h0M314.7 190.6h0M317 194.6h0M312 190.6h0M308.7 195.7h0M309.8 189.9h0M304.9 198.2h0M308.3 189.7h0M306.7 195.9h0M311.4 190.8h0M315.7 193.8h0M311.3 192.8h0M309 196.1h0M310.9 193.2h0M306 187.4h0M307.9 195.2h0M308 192.5h0M308.3 193.4h0M310 195.8h0M308.6 195.9h0M303.9 193.4h0M309.9 194h0M313 192.5h0M306.2 199h0M313 191.6h0M311.4 192.5h0M304.4 193.1h0M314.5 192.2h0M307.9 194.4h0M310.5 194.7h0M315.8 192.4h0M307.7 191.7h0M309.5 194.7h0M311.6 190.5h0M313.4 191.4h0M313.4 191.7h0M310.3 192.3h0M312.1 192.6h0" stroke="#1f77b4" stroke-width="1.3" stroke-linecap="round" stroke-opacity="0.5"/>
<path d="M307.6 195.9h0M307.4 192.5h0M304.9 191.4h0M310.8 190h0M312 189.6h0M318.2 194.2h0M307 192.8h0M312.1 195.2h0M316.7 194h0M311.9 194.4h0M317.7 193.8h0M307.5 193.3h0M306.6 192.5h0M305 192.2h0M316.1 192.9h0M305.2 195.6h0M308.9 192.2h0M310.1 192.9h0M311.9 188.4h0M309.3 195h0M305.8 191.5h0M310.5 194.7h0M309.1 193.2h0M311 186.4h0M306.7 189.8h0M307.4 188.9h0M313.6 192.2h0M314.6 194.6h0M307.1 190.6h0M308.2 192.8h0M309.9 195.1h0M304.5 192h0M314.6 195.8h0M306.1 194.3h0M315.6 192.9h0M301.8 194.9h0M312.5 193.5h0M310 191.5h0M311.6 196.8h0M316 193.2h0M311.1 192.3h0M315.2 191.6h0M307.6 194.5h0M305 195.3h0M309.4 194h0M306.1 191.7h0M304.8 196h0M309.6 192.8h0M307 192.8h0M307.9 196.9h0M304.2 196.2h0M309.4 196.6h0M313 191.1h0M311.4 196.2h0M312.4 193.5h0M315.7 189.3h0M317.3 191.7h0M310 193.2h0M315.8 191.2h0M314.1 192.1h0M309.4 190.3h0M304.7 187.6h0M314 190.2h0M311.2 198.1h0M311.4 195.4h0M308.4 197.6h0M307.8 194.8h0M306.5 188.1h0M308.5 197.2h0M314.2 192.4h0M309.9 197.6h0M314.3 192h0M310.7 199.4h0M307 193.8h0M314.1 196.2h0M308.1 195.8h0M315.5 196.1h0M311.6 189.5h0M316.7 196.9h0M318 192.1h0M309.1 194.6h0M312.3 197.6h0M320.4 195.2h0M309.4 195.5h0M310.3 192.2h0M313 198.5h0M309.5 195.7h0M316.7 191.5h0M306.2 196.7h0M310.2 193.4h0M309.6 192.3h0M305.7 195.9h0M307.3 190.1h0M308.4 195h0M315.8 196.5h0M310.4 189.9h0M311.6 194.7h0M311.6 191.3h0M300.3 197h0M310.1 192.6h0M315.4 191.6h0M313.6 188h0M307.2 191.5h0M308.7 197.5h0M306.5 191.3h0M308.1 192.6h0M310.4 191.9h0M301.1 190.8h0M314 192h0M312.1 191.9h0M308.9 194.1h0M308 189.8h0M314.7 192.7h0M318.5 197.8h0M307.9 192.5h0M315.4 193.9h0M311.7 195.7h0M314.1 191.8h0M313.1 186.2h0M310.4 191.3h0M316.9 193.2h0M311.2 186.2h0M305 200h0M314.8 193h0M311 197.3h0M315.2 195.5h0M316.4 191.8h0M313.1 196.6h0M311.4 189.1h0M303.4 189.6h0M307.5 196.3h0M303.8 196.8h0M317.4 193h0M312.3 191.6h0M312.4 197h0M305.5 196.6h0M310.1 198h0M313.3 195h0M308.2 192.1h0M312.2 188.6h0" stroke="#1f77b4" stroke-width="1.3" stroke-linecap="round" stroke-opacity="0.5"/>
<path d="M305.4 194.3h0M310.3 192.2h0M315 197h0M302.9 191.2h0M305.4 187.9h0M308 195.4h0M314.2 193.9h0M309.7 194.2h0M307.1 192.5h0M308.7 193.5h0M314.3 198h0M306.2 189.8h0M312 200h0M305.3 197.9h0M314.4 193.6h0M307.6 189.9h0M311.7 186.1h0M314.8 187.7h0M311.9 188.7h0M311.4 193.6h0M308 191.9h0M315.2 193.1h0M302.3 189.7h0M310.5 193.8h0M305 188.8h0M305.8 192.8h0M306.2 194.9h0M312.4 195.3h0M306.7 192.8h0M314 190.4h0M318.1 198h0M315.8 196.5h0M314 193.7h0M315.3 194.8h0M312.8 194.4h0M312.9 192.4h0M305.7 193.9h0M311.4 194.9h0M312.1 196.7h0M314.3 197.1h0M316 191.9h0M302 195.2h0M306.1 195.3h0M306.4 195.1h0M307.2 195.6h0M304.2 193h0M304.4 196.2h0M307.6 192.2h0M308.9 194.6h0M303.9 187.9h0M314.1 194.5h0M309.9 192h0M315.6 191.2h0M304.9 195.1h0M306.5 190.2h0M305 190.9h0M314.3 193.2h0M308.5 188.4h0M311.3 196.8h0M308.7 190.9h0M314.6 198.3h0M311.4 196.5h0M309.4 197.1h0M311 189.7h0M310.1 195.7h0M306.1 199.2h0M310.6 189.9h0M303.6 197.3h0M302.6 191.4h0M313.8 189.3h0M310 195.4h0M308 198.5h0M315.9 192.1h0M307.8 193.8h0M312.1 194.4h0M311.2 188.2h0M310.9 189.1h0M313.8 196.7h0M315.3 195.4h0M309.8 198.8h0M316.6 194.1h0M304.7 198h0M312.4 187.4h0M306.2 194h0M308.7 190h0M315.7 193.4h0M304 191.5h0M318.2 192.6h0M312.7 192.1h0M305 193.6h0M309.7 191.2h0M316 199.2h0M316.1 191.8h0M313.1 191.5h0M317.2 196.2h0M302 195.7h0M310.1 199.3h0M317.9 187.4h0M315.3 190.5h0M313.9 190.3h0M310.3 191.1h0M314.7 193.1h0M312.6 199.8h0M314.7 192.6h0M308.2 196.6h0M309.7 195.4h0M304.9 193.7h0M318.1 190.1h0M309.4 188.7h0M316.1 188.2h0M308.4 195.4h0M313.9 194.3h0M307.7 198.8h0M307.3 195h0M311.8 194.8h0M311.1 192.6h0M311.9 189.1h0M309.6 193.5h0M307.5 189.3h0M316.8 194.2h0M309.2 188.9h0M312.9 194.4h0M310.5 192.6h0M311.6 197.1h0M303.4 192.6h0M305.5 194.9h0M302.9 191.3h0M316.4 192.7h0M311.3 198h0M307.9 190.8h0M316.2 195.4h0M304.2 199.8h0M313.4 190.6h0M314.7 192.4h0M313.8 200.5h0M309.1 196.7h0M310.6 190.4h0M317.4 191.1h0M310.6 195.3h0M312.6 198.6h0" stroke="#1f77b4" stroke-width="1.3" stroke-linecap="round" stroke-opacity="0.5"/>
<path d="M312.7 190.6h0M305.6 198.2h0M310.2 193.5h0M308.3 190.6h0M316.4 198.2h0M305.5 189.9h0M302 191.6h0M319.3 198.4h0M308.5 196.6h0M308.2 188.3h0M310.1 191h0M308.4 192.6h0M308.1 189.8h0M310.1 195h0M307 193.7h0M314.7 195h0M319.8 195.5h0M306.2 193.5h0M315.9 191.5h0M307.9 193h0M303.9 194.5h0M310.7 194.2h0M314.1 194.1h0M311.9 194.4h0M310.7 192.2h0M301.7 191.3h0M306.2 191.6h0M314 195.3h0M312.6 194.3h0M313.3 188.2h0M311.5 195h0M311 200.5h0M320.8 192h0M315.1 191.8h0M312.5 189h0M307.6 196.5h0M310.9 187.2h0M303.3 190.7h0M309.2 195.6h0M317.7 196h0M309.1 191.5h0M311.5 189.6h0M316.7 196.1h0M309.6 195.7h0M316.1 194.1h0M307.5 188.7h0M306.8 192.6h0M311.8 191.2h0M312.8 189.4h0M315.5 191.2h0M312.3 195.8h0M314.5 197.2h0M306.3 192.4h0M308.4 194.6h0M307.5 192.8h0M311.1 191.4h0M309.2 189.1h0M309.9 194.7h0M312.1 193.5h0M313.9 198.1h0M316.7 196.5h0M317.7 197h0M314 197.4h0M309.1 200.7h0M307.2 196.5h0M312.2 196.2h0M309.2 196h0M316.2 197.8h0M314.1 191.1h0M302 187.3h0M308.1 197.3h0M304.3 197.1h0M316.7 195.5h0M316.6 197.4h0M309.4 193.7h0M305.2 194.5h0M310.3 188.9h0M315.9 197.1h0M313.3 191.4h0M312.2 196.8h0M311 191.7h0M300.4 197.1h0M311.4 198.1h0M315.6 198.1h0M314.3 193h0M314.2 194.3h0M310.8 191.7h0M312.3 192.4h0M311.9 193.2h0M316.5 195.8h0M313.5 193.1h0M311.3 190.2h0M310.8 196.3h0M311.7 200.3h0M310.3 194.9h0M312.4 188.8h0M303.9 192.9h0M312.9 189.4h0M310.1 196.6h0M313.7 198.6h0M314.5 194.9h0M308.2 190.1h0M313.3 189.6h0M310.4 192.6h0M312.5 194.3h0M308.8 193.1h0M319.5 196.1h0M305.7 195.2h0M308.8 195.5h0M305.2 196.2h0M310.3 192h0M310 190.7h0M311.6 196.3h0M313.2 188.2h0M319.7 188.8h0M313 195.1h0M316.5 200.8h0M316.1 191.1h0M314.6 192.7h0M306.1 192.4h0M309.8 189h0M307.7 188h0M308.1 190.7h0M316.3 191.3h0M305.5 192.3h0M318.1 197.1h0M305.3 188.4h0M315.5 196.4h0M316.8 194.7h0M306.5 192.8h0M310.4 196.4h0M310.5 194.4h0M310.2 189.2h0M307.4 187.7h0M309.5 196h0M310.2 195.2h0M315.4 189h0M313.6 196h0M306.2 192.2h0M311.2 191.5h0" stroke="#1f77b4" stroke-width="1.3" stroke-linecap="round" stroke-opacity="0.5"/>
<path d="M307.8 194.3h0M310.4 193.6h0M309.9 194.5h0M303.9 194h0M306.1 194.9h0M304.5 191.1h0M307.7 190.4h0M308.5 189.6h0M310.4 196.4h0M310.8 190.3h0M309.7 191.5h0M309.4 190.2h0M305.9 194.2h0M309.1 189.9h0M309.7 195.5h0M309.9 194.4h0M308.6 192.6h0M312.6 189.2h0M312.4 194.6h0M308.6 195.4h0M313.7 195.2h0M309.1 187.2h0M302.8 191.7h0M314 194h0M309.1 195.5h0M310.5 191.3h0M304.1 189.4h0M315.8 198.8h0M313.8 192.6h0M305.9 190.3h0M306.9 197.1h0M312.1 191.3h0M318.6 189.6h0M307.6 196.2h0M314.4 195.1h0M307.8 193.3h0M314 192.3h0M302.2 188.1h0M313.4 192.5h0M307.2 192.5h0M309.3 194.1h0M310.2 195.9h0M302.4 188.5h0M311.4 194.8h0M312.6 195.7h0M308.5 191.3h0M310.7 195.3h0M300.5 189.6h0M309.4 186.2h0M315 186.9h0M314.2 190.5h0M316.3 191.4h0M308.8 194.6h0M304.9 194.1h0M316.8 193.5h0M314 198h0M311.9 198.1h0M304.4 191.7h0M318.7 189.9h0M310.4 198.1h0M315.8 194.4h0M308.8 195.6h0M312.9 197.2h0M316 193.3h0M312.5 189h0M309.1 187.5h0M313.3 191.4h0M303.6 195.6h0M313.3 191.1h0M309.3 191.1h0M313.9 197.6h0M307.8 198.1h0M309.8 199.5h0M311.5 188.2h0M305.1 194.8h0M314.2 190.5h0M309.3 192.4h0M307.4 191.9h0M312.3 196.5h0M302.7 189.7h0M311.8 190.7h0M304.3 188.4h0M310.7 192.8h0M311.5 194.2h0M314.8 192.2h0M307.5 188.7h0M312.1 192.1h0M310.5 195.1h0M314.3 193.2h0M303.7 190.5h0M318.5 193.6h0M307.4 191.9h0M308.8 192.2h0M312.9 193.8h0M307.8 193.2h0M307.3 189.6h0M316.7 194.3h0M314.3 193.1h0M315.2 198.7h0M308.5 192.5h0M309 199.4h0M318.4 191.7h0M316.2 190.5h0M312.5 194.4h0M317.8 196.1h0M306.9 191.5h0M309.2 192h0M313.8 197.2h0M305.1 189.2h0M309.6 195.3h0M314 188.8h0M317.1 200.4h0M315.8 195.8h0M314.9 192.5h0M308.2 195.2h0M316.9 191.9h0M318.2 194.5h0M307.8 191.7h0M304.1 196.2h0M316.3 190.8h0M312.2 189.5h0M310.7 192h0M313.9 199.5h0M311.7 192.8h0M313.1 193.5h0M307.4 195.4h0M311.7 188.2h0M314.3 190.9h0M307.9 192.6h0M314.1 199h0M303.8 191.1h0M313.8 194.2h0M311 199.5h0M308.1 190.8h0M310.9 194.6h0M310.7 188.8h0M303.8 191.2h0M310 195.4h0M309.1 192.5h0M313.2 194.9h0" stroke="#1f77b4" stroke-width="1.3" stroke-linecap="round" stroke-opacity="0.5"/>
<path d="M284.2 196.3h0M280.6 197.1h0M283.6 194.9h0M282.5 190.2h0M282 190.7h0M285.1 191h0M283.8 195.7h0M279.4 194.8h0M284.6 192.8h0M278.3 193.7h0M281.3 198.3h0M278.1 196.6h0M285.3 196.3h0M280.5 196.1h0M278 192h0M288 200h0M280.3 191.9h0M280 194.9h0M280.3 191.5h0M285 193.3h0M280.4 192.8h0M284.6 194.3h0M278.9 196.2h0M283 193.1h0M285.8 193.3h0M282.8 194.3h0M287 191.2h0M284.9 197.1h0M283.9 193.3h0M277.7 194.1h0M284 193.7h0M282.6 191.2h0M283.9 188.2h0M282.4 192.9h0M280.5 195.2h0M285 196.5h0M280.5 192h0M283.1 196h0M284.1 196.1h0M282.6 199.7h0M284.3 196.3h0M285.6 195h0M277.4 193.2h0M277 188.6h0M282.3 192.9h0M284.6 197.9h0M282.2 195.1h0M280.2 193.6h0M286.7 190.7h0M284.7 190.4h0M283.1 197.1h0M276.6 198.9h0M285.7 197.4h0M287.3 199h0M286.2 196.4h0M286.4 191.5h0M280.8 194.2h0M281.9 196.2h0M281.2 197h0M281.8 200.5h0M283.9 195.6h0M280 189.2h0M280.7 192h0M288.5 192.4h0M282.4 194.7h0M284.4 193h0M283.2 190.9h0M282.3 192.6h0M283.6 190.9h0M278.5 193.8h0M283.4 198.4h0M287.6 191.3h0M283.6 190.3h0M281.6 192.5h0M281.9 195.5h0M281.9 193.6h0M278.2 197.5h0M280.3 197.9h0M281.6 196.6h0M282.7 196.6h0M282.3 192.8h0M283.5 195.2h0M282.5 199.2h0M276.8 188.1h0M282.5 195.1h0M279.9 194.5h0M284.7 191.7h0M284.4 196h0M279.5 194h0M283.2 190.9h0M283.4 199.5h0M281.1 198.5h0M287.1 200.1h0M283.4 199.3h0M286.9 188.8h0M281.4 191h0M280.3 187.6h0M282 194h0M282.6 195.2h0M280 196.5h0M281.9 194.9h0M280 193.8h0M282.7 197.3h0M281.8 190.9h0M279 196.3h0M277.4 193h0M283.3 195.6h0M281.7 190.6h0M281.7 189.4h0M278.3 196.4h0M279 193.9h0M285.2 194.4h0M283.4 196.4h0" stroke="#d62728" stroke-width="1.3" stroke-linecap="round" stroke-opacity="0.55"/>
<path d="M282.3 192.1h0M282.7 187.5h0M280.1 193h0M283.3 195.8h0M285.9 196.5h0M285.8 196.3h0M287.9 197h0M283.5 192.4h0M285.1 193.5h0M284 197.7h0M280.6 191.5h0M285.2 192.3h0M283.8 192.4h0M285.6 196.9h0M283 193.3h0M284.1 194.4h0M279.3 195.9h0M282.4 189.8h0M281.7 195.2h0M282.7 195.2h0M283.3 194.4h0M280.7 194.5h0M280 191.5h0M278.6 197.2h0M283.9 199.3h0M277.8 196.7h0M285.2 194h0M284.1 192.2h0M284.3 196.3h0M282.4 191h0M280.2 194.3h0M283 187.5h0M279.9 193.1h0M282.2 196.5h0M281.1 191.4h0M283 198.2h0M280.1 194.6h0M280.3 195.3h0M283.7 197.1h0M281.8 191.4h0M284.4 192.6h0M286.1 196.1h0M280.6 189.4h0M285.9 194.9h0M281.3 191.6h0M284.3 197h0M282.7 195.2h0M279.5 191.8h0M280.4 192.4h0M280.7 194.4h0M284 193.7h0M282.9 192.9h0M279.7 196.8h0M286.5 194.9h0M285.9 193.8h0M280.8 189.9h0M283.6 191.9h0M283.9 195.4h0M287.8 196.2h0M280.9 196.4h0M283.1 199.5h0M283.2 195.1h0M280.7 195.1h0M283.7 194h0M278 196.3h0M283.6 194.7h0M278.1 194.4h0M286.8 196.8h0M279.8 193.1h0M283.3 196.3h0M280.7 196.9h0M281.6 190.5h0M287.6 192.2h0M277.9 199.6h0M286.7 188.8h0M280 194.7h0M281.9 195.5h0M282.5 197.2h0M280.3 196h0M284 198.2h0M279.1 193h0M288.2 193.7h0M283.3 191.5h0M284.3 197.2h0M286.5 194.4h0M284.7 197.5h0M282.3 193.5h0M282.4 196.3h0M284.5 198.3h0M280.5 197.3h0M280.2 198.5h0M281.1 192.7h0M277.2 192.3h0M282.8 197.5h0M280.1 193.7h0M283.2 189h0M279.8 196h0M278.6 196.7h0M284 199.4h0M277.8 194.2h0M284.2 193.6h0M280.3 197.4h0M283.8 192.6h0M285.5 191.2h0M280.6 200h0M285 198.3h0M276.9 192.9h0M279.8 192.8h0M283 197.5h0M279 198.5h0M284.3 191.9h0M279.5 199.1h0M284.8 191.9h0" stroke="#d62728" stroke-width="1.3" stroke-linecap="round" stroke-opacity="0.55"/>
<path d="M279.9 198.3h0M277.3 196.5h0M277.5 195.2h0M281.6 188.1h0M280.1 198.7h0M280.7 191.1h0M279.8 198.3h0M286.4 195.6h0M284.7 193.5h0M278.2 196.7h0M285.7 193.1h0M279.4 192.9h0M280.1 195.7h0M282.4 192.4h0M280.5 194.4h0M281.8 194.4h0M278.8 198h0M281 198.4h0M285.2 196.1h0M285.3 200.4h0M284.4 195h0M282.7 197h0M283.1 194.5h0M282.6 193h0M284.4 192.3h0M280 194.4h0M279.5 195.8h0M278.7 198.3h0M280.8 193.8h0M278 197.4h0M282.1 192.1h0M286.6 195.4h0M280.5 194.6h0M281 196.5h0M282.3 195.1h0M281.5 199.4h0M282.6 195.6h0M282.2 193.1h0M285.2 193h0M281.7 193.6h0M279.7 196.8h0M282.3 191.8h0M285 193h0M284.7 196.4h0M285 197h0M284.7 193.8h0M287.1 193.6h0M282.2 193.5h0M281.9 193.7h0M279.2 193.6h0M284.8 197.2h0M282.7 193h0M280.2 199.9h0M285.5 192.5h0M287.7 199.6h0M278.6 195.6h0M284.1 192.6h0M284.6 196.2h0M285 192.5h0M277.1 199.8h0M284.5 195.3h0M281.3 195.4h0M281.5 199.2h0M284.5 190.7h0M288.2 193.1h0M282.2 195.3h0M280.6 197.6h0M284.4 192.6h0M282.4 198.1h0M283 197.1h0M282.2 194.1h0M287.4 199.4h0M284 197h0M278.7 193.5h0M286.7 189.1h0M282.5 197.5h0M285.4 192.3h0M284.4 195.5h0M285.1 190.5h0M276.4 193.5h0M282.3 192.3h0M278.9 189.1h0M281.6 196.8h0M286.8 194.4h0M280.8 192.1h0M278.1 191.8h0M279.7 192.5h0M282.5 197h0M284.4 188.8h0M286.5 192.9h0M280.2 197.3h0M285.5 192.7h0M284.6 196.8h0M281 195.7h0M279.9 199.8h0M283.1 195.3h0M276.8 197.3h0M281.3 195.5h0M285.3 190.1h0M281.7 191.8h0M278.9 194.4h0M281.1 191.2h0M282.3 196.5h0M282.5 190.9h0M280.8 191.2h0M280.7 190.3h0M285.6 200.2h0M285.1 198.1h0M282.5 197.3h0M278.9 194.3h0M284.4 194.7h0M282.7 196.9h0" stroke="#d62728" stroke-width="1.3" stroke-linecap="round" stroke-opacity="0.55"/>
<path d="M287 198.8h0M285.5 196.3h0M285.3 197.3h0M283.6 191.6h0M282.1 198.8h0M284.3 191.3h0M279.6 198.4h0M284.2 196.3h0M283.8 195.4h0M280.8 194.5h0M282.1 187.5h0M288 199.4h0M283.4 198.7h0M283.5 189.8h0M281.3 191.4h0M283.3 192.9h0M281.1 195.6h0M280.3 194.9h0M286 197.1h0M278.9 197.8h0M281.6 197.9h0M278.7 196h0M281.6 193.1h0M286.7 190.3h0M282.8 189.4h0M283.6 192.5h0M281.1 198.1h0M286.4 192h0M280.6 194.4h0M279.8 199.9h0M286.3 196h0M277.1 197.6h0M282 191.8h0M284 192.7h0M281.2 196.3h0M280.9 195.7h0M278.9 193.8h0M287.3 188.9h0M281.3 192h0M281 198h0M282.5 194.1h0M281.4 195.7h0M277.8 196.7h0M280.4 195.1h0M282.4 196.1h0M286.3 192.7h0M286.1 199.4h0M284.4 195.2h0M283.4 195h0M284.4 197.3h0M281.5 196.2h0M284.6 196.8h0M283 189.4h0M280.8 201.2h0M281.1 194.5h0M284.3 193.9h0M284.5 194.7h0M286.6 196.7h0M281.6 190.6h0M282.5 193.1h0M280.1 196.9h0M286.8 191.4h0M284.6 196.8h0M280.3 193.4h0M283.3 196.7h0M282.4 196.4h0M282 195.8h0M279.8 196.3h0M280.6 190.9h0M287 190.4h0M283.6 189.9h0M278.7 192.4h0M276.9 198.3h0M284.4 197h0M279.3 197.1h0M283.9 198h0M281.7 194.1h0M281.7 193.5h0M280.3 195.4h0M283 192.6h0M281.8 195.8h0M287.3 195.8h0M279 191h0M278.8 193h0M283.3 197.8h0M282.3 196.5h0M283.5 196.5h0M284.5 193.2h0M285.5 196.4h0M278.2 192.9h0M284.1 198.1h0M282.4 200.3h0M281.5 195.7h0M284.7 198.9h0M286.6 196.6h0M281.2 198.4h0M284.1 190h0M282 189.8h0M284.8 195.3h0M280.3 191.5h0M282.4 197.7h0M285.5 193.4h0M283.6 199.3h0M276.7 192.2h0M283.6 195.8h0M283.9 193.5h0M282.5 188.8h0M281.1 197.8h0M279.5 201.2h0M280.6 197.6h0M278.2 192.3h0M282.5 194.2h0" stroke="#d62728" stroke-width="1.3" stroke-linecap="round" stroke-opacity="0.55"/>
<path d="M274.2 200.2h0M284.1 202.8h0M285.1 203.5h0M284.2 194.7h0M276.7 192.2h0M272.6 195.9h0M285.5 198.1h0M287.8 189h0M282.4 193.8h0M286.4 191.7h0M284.2 186.7h0M283.6 198.3h0M287.7 201h0M273.7 201h0M287 200.6h0M280.6 200.5h0M284.9 186.7h0M289.1 198.4h0M288.8 192.1h0M288.1 190h0M285.1 198.9h0M289.2 196.5h0M287.7 188.3h0M289.7 192.6h0M285.1 193.9h0M288 190h0M273.4 198.2h0M283.3 200.5h0M271.5 193.7h0M273.8 193h0" stroke="#d62728" stroke-width="1.2" stroke-linecap="round" stroke-opacity="0.35"/>
<path d="M292.3 193.6h0M290.4 195.6h0M291.5 191.3h0M289.1 191.1h0M291.2 194.7h0M294.4 194.8h0M290.6 190.5h0M294.2 191.4h0M290.7 193.2h0M295 196.5h0M288.5 196.7h0M295.4 197.1h0M288.6 196.1h0M295.3 201h0M293.9 196.4h0M289.1 193.3h0M290.5 194.6h0M293.1 197.6h0M292.3 193.8h0M287.5 200.1h0M295.8 199.5h0M292.3 193.7h0M285.3 196.7h0M293.4 196.4h0M295.2 193.5h0M289.9 195.5h0M289.8 193.7h0M288.1 194.6h0M291.5 194.9h0M293 193.4h0M291.8 194.5h0M289.4 197.4h0M293.2 197.4h0M287.3 191h0M292.1 199h0M293.9 194h0M287.6 197.7h0M294 190.9h0M294.3 194.5h0M287.5 194h0M290.2 196.3h0M288.3 197h0M288.9 199.7h0M295.4 193.2h0M292.3 198.6h0M295 195.4h0M291.2 197.9h0M290.8 190.4h0M292.5 192.5h0M290.1 191.9h0M294.8 199.2h0M294.1 197.8h0M286.7 194h0M292.3 195.9h0M294.5 194.9h0M293.5 195.5h0M291.8 194.7h0M292.8 194.6h0M293.2 197.8h0M291.4 200.2h0M290.3 199.7h0M291.1 200.8h0M289.8 193.4h0M287.8 198.4h0M294.5 193.1h0M289.4 193.8h0M293.6 195.2h0M294.5 192h0M286.3 196.3h0M287.6 193.5h0M289.3 201h0M291.6 200h0M289.1 193.6h0M292.2 196.1h0M293.7 198.1h0M292.9 197.5h0M291.9 192.6h0M290.7 194.7h0M292.1 194.7h0M295.1 193.6h0M289.2 199.7h0M287.2 198.4h0M289.1 199.7h0M290.8 194.7h0M292.5 191h0M293.4 195.2h0M293.7 194.7h0M287.9 199.5h0M294.5 194.6h0M293.2 193.1h0M292 196.6h0M289 190.9h0M291.4 201.5h0M293.3 193.4h0M293.2 194h0M293.6 195.9h0M291.7 190.9h0M294.2 194.8h0M291.2 196.8h0M296.6 194.4h0M286.4 192.1h0M293.9 195.1h0M291 193.3h0M294.5 189.9h0M293.3 193h0M292.1 193.1h0M288.9 190.7h0M287.2 196.3h0M289.1 196.2h0M287.2 198.5h0M288.7 194.5h0M288.5 196.1h0M297.4 193.9h0" stroke="#2ca02c" stroke-width="1.3" stroke-linecap="round" stroke-opacity="0.55"/>
<path d="M292.7 195.2h0M285.9 195.5h0M291.8 198.4h0M292.1 196.5h0M289.3 200.9h0M293.7 193.5h0M295.4 197.8h0M293.7 201.1h0M290.9 198.1h0M292.8 194.5h0M294.5 196h0M290.4 192.7h0M289.9 189.9h0M290.4 198.1h0M287.2 193.7h0M292.4 195.7h0M290.9 195.9h0M293.2 194.9h0M294.3 196.8h0M292 196h0M291.9 194h0M285.8 196.3h0M289.9 191.8h0M290.8 198.8h0M291.9 193.3h0M292.8 192.4h0M290.6 198.5h0M294.1 201.5h0M294.6 191.6h0M288.5 201h0M287.9 191.5h0M290.2 194.9h0M294 193.7h0M292.2 193.9h0M292.4 192.5h0M290.1 194.8h0M287.8 192.6h0M294.7 198.6h0M294.9 197.9h0M289.8 195.1h0M291.9 192.2h0M286.6 199.6h0M296.3 194.9h0M290.1 192.8h0M291.8 193.2h0M292.5 194.3h0M288.8 193.8h0M287.9 195.2h0M294.1 196.4h0M291.5 199.4h0M290.3 195.7h0M292.7 195.2h0M290.4 193.5h0M287.3 198.4h0M292.1 196.6h0M296.6 192.7h0M293.6 196.3h0M290.6 196.9h0M294 195.2h0M296.9 200.9h0M290.4 195.7h0M291.9 194.2h0M295.3 195.4h0M292.7 192.2h0M290.5 192.7h0M291.4 199.6h0M291.5 196h0M289.9 201h0M288.8 196.2h0M290.1 198h0M290.2 198.2h0M292.5 191.7h0M290.1 202.1h0M286.7 195.5h0M295.3 201.8h0M291.6 197.3h0M287.4 199h0M293.9 195.2h0M290.4 193.2h0M287.2 197.8h0M286.7 197h0M298.1 195.1h0M295 199.7h0M296.1 198h0M289.6 197.3h0M288.2 191.4h0M293.5 190.5h0M291.8 193.6h0M288.6 191.8h0M289.6 195.5h0M288.5 197.5h0M290 195.3h0M294.1 194.8h0M291 195.1h0M288.3 195.7h0M288.3 197h0M291.3 194.8h0M291.1 201.9h0M289.4 197.4h0M290.1 190.2h0M292.8 196.3h0M294.6 199.9h0M288.7 190.5h0M294.9 195.8h0M293 192.8h0M294.2 194.5h0M294.1 193.6h0M289.8 197.2h0M293.7 197.2h0M294.8 191.8h0M294.4 199h0M288.5 192.6h0M286.6 194.6h0" stroke="#2ca02c" stroke-width="1.3" stroke-linecap="round" stroke-opacity="0.55"/>
<path d="M292.4 199h0M285.6 197.1h0M287.9 199.6h0M296.7 201.8h0M291.7 194.4h0M292.3 195.7h0M290.7 198.4h0M289.1 197.5h0M290.3 199.7h0M293.6 195.4h0M290.8 196.8h0M288.7 198h0M290.3 199.9h0M297.1 195h0M289.9 192.5h0M292.3 195.6h0M289.1 197.5h0M290.7 193.8h0M289.4 191.5h0M286.4 192.1h0M295.9 193.6h0M291.4 192.7h0M292.6 191.9h0M295.3 191.2h0M290.7 197.5h0M292.5 193.2h0M291.9 196.4h0M293 192.4h0M296.1 191.8h0M293.5 199.2h0M288.6 195.1h0M285.9 198.1h0M292.2 195.5h0M291.1 194.4h0M292.2 198h0M287.8 196.8h0M292.4 194.6h0M291 192.6h0M287.8 196.5h0M288.8 200.6h0M292.3 200.8h0M295.5 197.9h0M289 196.4h0M295.9 196.8h0M290.9 196.3h0M289 195.9h0M294.3 190.5h0M294.5 190.1h0M293 194.6h0M293.1 197.4h0M294.6 200.4h0M295 193.9h0M294.8 198.2h0M290.7 192.9h0M296.8 193.9h0M289.7 194.3h0M296.9 197.3h0M285.5 191.9h0M296.3 192.7h0M292.5 192.5h0M285.7 198.3h0M292.6 200.8h0M294.5 197.2h0M289 192.3h0M295.5 192.7h0M289 197.4h0M294.7 193.5h0M289 197h0M290.3 193h0M293.8 193.2h0M290.3 198h0M287.2 196.5h0M294.1 192h0M289.8 199h0M289.5 192.7h0M289.2 192.4h0M294.8 197.2h0M292.4 190.7h0M291.1 197.5h0M296 195.7h0M292.9 196.5h0M290.4 194.7h0M292.1 195.4h0M287.7 194h0M288.5 199.3h0M289.2 196.7h0M290.7 196.5h0M294.7 195.9h0M290.5 194.1h0M288.3 193.2h0M291.5 194.5h0M295.2 193.4h0M289 192.3h0M289.2 198.4h0M294.4 194.1h0M296.1 192.9h0M295 193.3h0M291.9 196.8h0M287.6 194.9h0M287.6 193.9h0M288.5 196h0M287.3 198.4h0M290.4 194.1h0M292.4 195h0M293.1 191.8h0M291.5 196.9h0M291.3 195.7h0M296.7 189h0M291.1 199h0M297.1 194.1h0M291.6 195.1h0M292.3 195h0" stroke="#2ca02c" stroke-width="1.3" stroke-linecap="round" stroke-opacity="0.55"/>
<path d="M291.2 196h0M290.2 197.1h0M291.5 193.8h0M293.3 194.6h0M292.5 198.1h0M291.9 192.3h0M290.4 198.9h0M295.1 195.7h0M290 195.7h0M293.9 195.8h0M294 190.7h0M289.9 196.8h0M289.8 201.4h0M297 193.3h0M292.3 194.6h0M296.2 194.1h0M292 192.1h0M294.1 195.6h0M289.3 195.9h0M291.4 193.6h0M289.2 199.3h0M289.7 196.7h0M290.7 194.8h0M287.9 196.4h0M290 192.4h0M287.1 196.8h0M292.1 196.4h0M289.6 195.8h0M293 191.2h0M285.6 190.6h0M289.6 197.5h0M292.6 196.3h0M288.6 196h0M291.1 194.6h0M290.8 194.9h0M292.4 194.3h0M286.9 194.9h0M290 195.6h0M293.4 195.5h0M290.1 196.1h0M287.6 197.5h0M291.4 196.2h0M286.9 196.2h0M291.4 197.8h0M288.6 194.4h0M286 193.7h0M288.6 195.8h0M291.8 192.4h0M294.7 196.2h0M291.9 199.2h0M291.1 195.1h0M296.2 198.1h0M290.3 196.3h0M289.6 190h0M292.2 197.9h0M292 199.4h0M294.9 198.6h0M291.2 194h0M292.6 197.1h0M291.9 196.7h0M290.2 190.9h0M290.4 198.8h0M295.6 201.6h0M289.8 193.5h0M288.6 197.7h0M288 190.5h0M292.2 192.9h0M292.9 192.1h0M289.8 197.4h0M287.5 195h0M291.9 200.5h0M291.7 195.8h0M287.7 199.5h0M291.8 192.1h0M291 197.4h0M289.9 197.1h0M294 195.6h0M291.5 196h0M288 197.1h0M287 191.5h0M294.9 198.5h0M288.9 200.5h0M292.5 192.9h0M295.6 199.2h0M289.3 192.4h0M294.6 191.9h0M287.7 201.3h0M289.6 194.4h0M294.3 193.1h0M289.3 195.9h0M288.5 197h0M293.7 196.6h0M292.9 198.1h0M290.2 198.8h0M294.7 197.7h0M287 196.5h0M289.3 196.5h0M292.1 196h0M289 195h0M289.7 194h0M289.8 201h0M290.4 192.5h0M292.9 197.4h0M292.6 200.7h0M297.8 197h0M289.6 191.3h0M293.4 200.2h0M291 193.9h0M291.8 202h0M291.1 191.6h0M288.3 194.1h0M293.6 193.4h0" stroke="#2ca02c" stroke-width="1.3" stroke-linecap="round" stroke-opacity="0.55"/>
<rect x="368" y="49" width="78" height="78" fill="none" stroke="#444" stroke-width="0.9"/>
<g stroke="#444" stroke-width="0.9"><line x1="377.5" y1="127" x2="377.5" y2="125.5"/><line x1="392.9" y1="127" x2="392.9" y2="125.5"/><line x1="408.7" y1="127" x2="408.7" y2="125.5"/><line x1="423.5" y1="127" x2="423.5" y2="125.5"/><line x1="438.2" y1="127" x2="438.2" y2="125.5"/><line x1="368" y1="54" x2="369.5" y2="54"/><line x1="368" y1="68.6" x2="369.5" y2="68.6"/><line x1="368" y1="83.2" x2="369.5" y2="83.2"/><line x1="368" y1="97.5" x2="369.5" y2="97.5"/><line x1="368" y1="112.2" x2="369.5" y2="112.2"/></g>
<path d="M374.4 97.6h0M379.4 77h0M375.8 83.9h0M375.6 72.8h0M373.7 91.1h0M382.1 82.4h0M374.5 87.2h0M375.3 82.6h0M375.8 81.6h0M380.4 70.5h0M377.1 87.9h0M381 96.6h0M377.5 66.8h0M375.9 79.9h0M379.3 79.6h0M378.5 88.7h0M372.4 65.6h0M377.9 84.1h0M380.4 98.4h0M378.4 75.7h0M377.5 89.2h0M378.2 76.2h0M377.6 90.7h0M373.8 91.3h0M375.5 80.2h0M378.2 75.5h0M377.1 67.7h0M380.9 84.2h0" stroke="#2ca02c" stroke-width="3" stroke-linecap="round" stroke-opacity="0.18"/>
<path d="M378.3 93.5h0M379.4 76.4h0M377.6 77.2h0M377.4 69.9h0M376.9 80.5h0M376.4 97.2h0M378.4 80.3h0M376.7 86.3h0M377.3 64.1h0M380.9 71.5h0M374.4 82.3h0M375 86h0M381.8 81.2h0M378.3 78.9h0M377 91.8h0M374.9 82.9h0M380.6 96.8h0M376.4 71.3h0M374.3 82.6h0M381.1 73h0M380.4 81.6h0M380.2 85.7h0M376.4 77.4h0M381.6 78.6h0M377 62.7h0M376.7 78.8h0M377.6 77.8h0M380.8 91.3h0" stroke="#2ca02c" stroke-width="3" stroke-linecap="round" stroke-opacity="0.18"/>
<path d="M379.6 67.6h0M379.5 80h0M382.2 74.5h0M378.8 78.9h0M375.6 77h0M378.2 81.5h0M378.5 85.2h0M375.7 84h0M383.6 70.9h0M382.4 84.9h0M375 75.1h0M376.6 83.3h0M380.5 79.5h0M379.7 71.3h0M376 91.5h0M379.5 74.8h0M377.8 88h0M380.7 76.2h0M377.8 80.1h0M378 64.8h0M375.9 69.7h0M376.1 74.7h0M376.7 76.5h0M379.5 85.3h0M375 97.2h0M378 83.3h0M379.4 84.9h0M377.9 77.7h0" stroke="#2ca02c" stroke-width="3" stroke-linecap="round" stroke-opacity="0.18"/>
<path d="M379 83h0M380.5 79.9h0M373.9 94.7h0M372.3 71.1h0M381.6 83.3h0M377.6 76.6h0M378.1 68.1h0M372.9 79.5h0M378.1 81.4h0M376.1 84h0M380.5 92.7h0M374.3 84.2h0M375.4 85.7h0M376.4 85h0M379.2 79.9h0M374.9 74.8h0M378.7 79.1h0M373.3 72.6h0M374.6 88.5h0M375.6 89.4h0M381.1 76.2h0M378.9 89.8h0M379.8 94.1h0M380.8 91.1h0M373 77.6h0M373.3 82.2h0M376 86.3h0M375.6 77.7h0" stroke="#2ca02c" stroke-width="3" stroke-linecap="round" stroke-opacity="0.18"/>
<path d="M374.9 80.5h0M383.6 74h0M378.4 83h0M374.8 70.7h0M375.9 77h0M377.5 72.1h0M379.2 78.5h0M378.5 92.7h0M377.8 83.7h0M382.3 85h0M379.6 90.7h0M372.2 85.1h0M380.7 85.3h0M375.1 78.6h0M376.9 97h0M376.5 90.3h0M372.9 95.9h0M378.5 71.5h0M377.6 86.6h0M379.1 79.3h0M378 94.2h0M377.3 65.3h0M382.8 77.4h0M378 91.5h0M377.3 93.4h0M380.4 99.3h0M384.5 82.8h0M378.9 81.5h0" stroke="#2ca02c" stroke-width="3" stroke-linecap="round" stroke-opacity="0.18"/>
<path d="M394.9 77.6h0M401.3 74.4h0M399.4 83.9h0M389.5 85h0M397.2 75.6h0M393.9 82.3h0M398.9 69.7h0M399.2 85.3h0M402.4 84.5h0M390.2 83.9h0M400.9 74.9h0M399.5 96.6h0M395.8 78.6h0M399 77.4h0M398.8 62.7h0M399.5 94h0M397.5 95.2h0M402.1 77.8h0M396 96.4h0M405.4 72.6h0M397.8 70.1h0M397.7 92.2h0M386.9 85.9h0M397 101h0M390 67.2h0M396 91.1h0M404.4 70.5h0M403.6 82.8h0M402.1 92.5h0M386.9 85.6h0M402.3 66.3h0M394.4 89.8h0M398.5 62.6h0M397.5 84.6h0M397.8 80.1h0M388.6 92.1h0M389 87.3h0M391.4 75.9h0M392.3 71.1h0M396.5 85.9h0M397.8 74.7h0M401 103.2h0M401.2 78.6h0M393.1 74.8h0M398 74.8h0M395 68.7h0M401.1 99h0M397.1 64.5h0M389.3 69.5h0M394.3 82.4h0M396.4 93.9h0M387.2 88.5h0M403.4 77.6h0M398 88h0M396.1 74.8h0M397.1 88.4h0M399.9 72.5h0M390.6 87.2h0M396.2 87h0M401.6 87.7h0M392.7 81h0M391.7 69.7h0M392.8 78.5h0M400.7 78.7h0M395.5 92.5h0M395.8 76.2h0M395.1 72.1h0M394.7 84.8h0M393.1 84.5h0M395.5 79.2h0M393.5 95.1h0M393.8 70.7h0M398.6 73.1h0M390.6 75.9h0M402.7 80.4h0M397.5 65.1h0M402.1 92.5h0M395.4 83.1h0M392.6 84.4h0M394.7 77.2h0M394.7 67.8h0M394.5 87.6h0M401.5 61.2h0M392.5 102.7h0M397.4 70.6h0M397.4 81h0M400.4 90.2h0M392.2 88.6h0M396 78.8h0M390.4 66.1h0M403.9 83.3h0M397.7 70.7h0M393.4 67.1h0M394.9 97.3h0M394.7 79.4h0M393.6 84.8h0M401 87.4h0M390.4 84.4h0M398.9 68.2h0M399.5 93.3h0M391 64.1h0M401.9 82.3h0M392.9 99.2h0M390.1 80.4h0M399.7 73h0M397.6 83.2h0M394.8 93.7h0M395.9 80.8h0M397.5 86.7h0M397.1 79.3h0M400.2 83h0M396.8 64.1h0M395.8 80.6h0M398.3 76.6h0M394.4 79.6h0M397.1 91.3h0M403.7 100.7h0M394.7 94h0M393.2 101.9h0M397.8 68.8h0M394.1 67.6h0M398.1 71.8h0M395.1 96.3h0M390.5 85.7h0M396.3 77.8h0" stroke="#aec7e8" stroke-width="3" stroke-linecap="round" stroke-opacity="0.24"/>
<path d="M393.3 77.7h0M400 88.3h0M393.8 90.8h0M402.5 82.9h0M395.7 96.9h0M400.4 64.5h0M405 75.2h0M394.3 91.2h0M397.2 92.4h0M400.6 89.3h0M391.3 82.2h0M389.8 64.9h0M392.6 96.3h0M398.4 90.3h0M389.7 77.9h0M392 95h0M396.6 73.9h0M402.7 86.1h0M395.4 89.4h0M396.1 92.1h0M397.3 81.2h0M398.6 80.4h0M398.1 101h0M398.5 73h0M396.1 93.7h0M402 90.1h0M383.8 99.6h0M396.6 81.6h0M394.5 77.9h0M399.1 73.8h0M396.6 65.7h0M401.8 75.7h0M397.9 74.7h0M394 93.7h0M391.6 71.2h0M395.9 79.6h0M392.3 71.8h0M401.8 67.6h0M400.8 88.7h0M392 98.8h0M399 67.1h0M396.8 78.6h0M400.3 65.6h0M389.2 78.3h0M395.3 90.4h0M393.8 75.8h0M402.9 90.3h0M397.1 69.5h0M404.1 93.7h0M393 83.2h0M396.7 88.3h0M396.9 81.8h0M401.4 76.3h0M396.5 82.3h0M392.9 85.9h0M399 93.3h0M395.4 97h0M401.6 66.4h0M399.1 79.8h0M396.5 87.4h0M400.7 88.2h0M401.9 80h0M404.4 83.4h0M393.4 72.6h0M395.9 76h0M399.4 75.6h0M391.5 83.2h0M391.7 82.9h0M397.6 78.1h0M405.9 80.7h0M403.7 68.4h0M388.6 82.7h0M401.1 92.8h0M394 64h0M395.9 99.6h0M397.6 66.4h0M399.5 79.1h0M402.2 62.5h0M399.2 82.5h0M395 98.2h0M398.9 75.3h0M404 80.4h0M397.6 65.7h0M395.8 77.4h0M395.8 71.9h0M396.5 85.8h0M397 71.1h0M397 78.4h0M397 71.5h0M396 73.5h0M402.7 83.4h0M388.1 85.6h0M396 73.3h0M397.6 80.4h0M398.1 93.5h0M386.2 91.2h0M395.5 77.5h0M392.6 77.1h0M402.9 95.7h0M403.4 88.3h0M395.3 63.7h0M399.2 81.4h0M401 87.2h0M390.3 77h0M390.1 75.2h0M402.9 94.6h0M386.8 83.4h0M396.7 90.3h0M401 87.3h0M388.2 101.2h0M400.7 81.7h0M401.3 81.1h0M396.6 80.9h0M397.3 65.3h0M397.9 78.2h0M403 88.8h0M403.2 89.5h0M392.6 71.7h0M391.2 88.7h0M393.6 68.3h0M400.9 78h0M397.9 91.5h0M400.2 83h0M396.7 92.2h0M390.6 97h0" stroke="#aec7e8" stroke-width="3" stroke-linecap="round" stroke-opacity="0.24"/>
<path d="M403 81.4h0M392.5 94.9h0M396.5 72.3h0M397.3 74.6h0M402.5 81.5h0M403.4 67.6h0M390.2 88h0M400.6 85.6h0M393.1 92.5h0M391.1 81.9h0M394.9 88.8h0M392.9 84.7h0M392.6 82.7h0M385.8 62.5h0M400 86.2h0M391.7 95h0M402.6 91.4h0M402.5 77.9h0M393.4 78.6h0M402.1 71.1h0M394.3 74h0M391.1 66h0M396.5 92.9h0M405.3 80.8h0M389.9 86.1h0M393.9 71.5h0M402.3 92.7h0M387.2 87.3h0M399.8 76.6h0M386.7 84.5h0M395.1 93.1h0M391.9 65.8h0M405.5 69.7h0M393.9 89.7h0M395.5 84.3h0M403.7 85.8h0M402.7 76.3h0M400.8 74.1h0M387.1 79.9h0M392.7 86.3h0M393 75.7h0M391.6 79.2h0M391.8 86h0M391.3 87.4h0M393.2 71.3h0M402 78.6h0M397.7 100.8h0M401 78.1h0M402.9 70.6h0M395.6 96h0M389.7 83.8h0M398.9 90h0M394.2 86.7h0M395.7 80.5h0M403.4 77.9h0M387.2 78.8h0M396 73.4h0M391.9 87.9h0M393.8 92.9h0M387.7 81.3h0M397.6 96.4h0M389.2 76.4h0M392.2 85.2h0M390.4 92.9h0M400.7 71.1h0M394 78.4h0M397.8 88.8h0M396.7 87.1h0M400.4 78h0M393.9 83.1h0M394.1 84.2h0M388.1 85.5h0M396.6 81.6h0M385.9 92.6h0M399.6 89.4h0M404 94.4h0M397.2 71.2h0M394.3 82h0M391.4 89.4h0M390.9 84.9h0M397.5 79.4h0M395.2 88.9h0M403.1 58.6h0M394.5 94.1h0M395.5 85.6h0M397 93.2h0M401.2 89.3h0M393.1 99.9h0M395.6 76.9h0M398.7 66.3h0M393.9 81.1h0M401.9 75.2h0M402.8 80.3h0M395.9 95.3h0M395.7 91.2h0M395 88.8h0M395.7 83h0M393 80.8h0M395.5 77.8h0M403.8 89h0M396.6 77.3h0M394.7 86.4h0M401.1 78.9h0M383.4 69.5h0M389 84.7h0M397.8 71h0M394.1 83h0M399.1 64.5h0M389.6 88.9h0M405.1 73.8h0M394.3 85.7h0M398.8 93.5h0M393.6 84.1h0M394.8 72h0M393.5 88.4h0M392.4 78.4h0M392.8 87.7h0M397.2 77.7h0M399.8 72.9h0M398.2 94h0M397.5 88.5h0M396.7 82h0M404.8 92.3h0M396.3 92.3h0M397.3 78.4h0" stroke="#aec7e8" stroke-width="3" stroke-linecap="round" stroke-opacity="0.24"/>
<path d="M393.7 83.1h0M387.7 74.1h0M402.8 78.4h0M392.2 79.2h0M392 85.4h0M390.4 71.5h0M396.6 78.9h0M398.2 77.9h0M394.3 89.5h0M388.3 73.6h0M401.2 88.8h0M400.6 88.2h0M393.6 99.7h0M401.8 77.2h0M394.5 72.2h0M399.2 75.5h0M397.8 86.4h0M395.6 68.9h0M398.1 88h0M397.5 74.5h0M401.9 76h0M397.8 85h0M400.3 80.6h0M396.4 88.8h0M391.6 80.8h0M394.7 86.1h0M401.8 77.5h0M393.3 89.5h0M394.2 82.5h0M396.2 78.8h0M397.8 77.9h0M395.8 74.5h0M396.8 91.2h0M402.3 88.9h0M395.2 92.2h0M391.4 88.7h0M393.4 84.3h0M398.4 93.2h0M401 92.9h0M395.9 73.3h0M400.5 89.7h0M403.7 83.6h0M392.2 83.1h0M392.7 91.2h0M397.9 73.8h0M402 86.3h0M392.5 97.5h0M405.3 89.4h0M396.3 82.6h0M397 72.3h0M401.7 79.3h0M397 81.1h0M401.4 81.3h0M397.7 71h0M397.3 85.3h0M394.9 83.9h0M396 84.7h0M398.4 83.5h0M392 76.4h0M394.3 78.2h0M397.8 92.2h0M393.3 77.2h0M399.5 93.2h0M400.6 62.2h0M395.1 97.6h0M396.9 95.6h0M394.3 71.1h0M395.6 74.9h0M402.1 77.1h0M398 72.6h0M396.1 94.8h0M395.5 83.9h0M396 63.5h0M401.4 97.3h0M396.4 65.2h0M392.4 81.4h0M398 87.5h0M390.8 81.1h0M392.2 83h0M390.5 80.7h0M397.1 93.8h0M398.5 81.6h0M400.8 77.2h0M400.9 95.3h0M395.2 95.3h0M398 86.3h0M399.3 87h0M389.3 66.2h0M397.2 76.8h0M393.6 101.6h0M393.1 73.3h0M400.2 69.4h0M390.5 68.4h0M404.4 92.3h0M395 72.9h0M392.3 78h0M401.9 82.4h0M404.3 83.5h0M390.7 98.2h0M398.3 98.3h0M400.1 75.7h0M394.3 69.9h0M403.9 86.6h0M390 85.7h0M400.8 88.4h0M403.5 100.2h0M391.9 95.1h0M396.8 79.5h0M393.1 70.1h0M397.9 86.9h0M396.2 92.7h0M402 79.9h0M396.1 69.7h0M401.2 73.5h0M393.7 67.2h0M398.1 84h0M399.8 77.3h0M390.4 76h0M395.6 75.6h0M397.2 86.3h0M398.3 93.3h0M393.9 79.6h0M392.4 66.8h0M394 90.5h0M392.8 76.9h0" stroke="#aec7e8" stroke-width="3" stroke-linecap="round" stroke-opacity="0.24"/>
<path d="M396.5 82.6h0M401 72.6h0M389.8 86.7h0M389.1 73.2h0M400 76.7h0M393.7 94.2h0M393.7 86.3h0M396.1 92.4h0M397.9 69.8h0M395 85.7h0M396.3 79.6h0M385.6 91.7h0M395.2 85.8h0M401.5 82.4h0M391.7 74h0M401.2 82.8h0M388.4 91.4h0M392.5 84.5h0M392.5 79.1h0M397.3 89.4h0M392.9 82.3h0M396.5 83.7h0M390.4 87.2h0M395.7 72.2h0M388.3 82.3h0M393.3 81.7h0M394.4 83.2h0M402.3 81.8h0M393.4 63h0M391.5 81.4h0M398.6 83.3h0M397.5 77.1h0M389.6 71.5h0M399.1 87h0M395 90.6h0M399.9 72.7h0M396.9 62.8h0M395.9 84.8h0M398.1 76h0M398.5 83.8h0M398.9 65.5h0M392.5 83.1h0M401.8 101.5h0M394.8 77.6h0M394.3 80.3h0M403.9 74.5h0M396 87.4h0M403.6 82.4h0M389.3 81.8h0M389.4 78.3h0M398.9 85.2h0M398 59.7h0M394.5 78.5h0M398 91.1h0M393.1 70.7h0M392.1 85.9h0M394.2 92.2h0M400.2 99.4h0M400.5 72.9h0M393.4 67.8h0M397.7 89.2h0M393.2 88.3h0M400.5 68.6h0M399.6 84.3h0M398.1 80h0M395.5 89.1h0M402.7 89.5h0M396 92.1h0M396 74.2h0M393.3 91.6h0M396.3 66.1h0M401.5 78h0M399 80.5h0M396.4 92.3h0M390 92.6h0M389.8 76.3h0M397.8 80.4h0M396.8 84.8h0M393.9 96.9h0M405.7 68.5h0M394.9 90.8h0M398.8 87.2h0M397.8 79.9h0M399.3 88h0M395.8 70.5h0M395.6 93.8h0M390.7 89.6h0M393.7 94.8h0M395.5 58.8h0M393.8 82.1h0M395.1 98.2h0M394.3 66.8h0M393.9 77.8h0M392.3 90.7h0M395.1 82.6h0M395 61.7h0M391.8 80.7h0M393.3 73h0M391.4 67.2h0M396.6 99.9h0M389 77.2h0M396.5 80.2h0M398.7 90.4h0M388.1 69.7h0M402.3 83.5h0M396.9 93.1h0M401.2 90.5h0M398.8 95.4h0M396.7 91.5h0M397 91.9h0M390.1 88.2h0M395.9 80.5h0M393.9 84h0M397.1 91.8h0M394 86.5h0M394.1 76.5h0M400.3 78h0M395.4 64.3h0M389.5 97.9h0M397.9 95.8h0M399.1 92.7h0M399.9 79.9h0M397.5 81.1h0M403.7 91.2h0M398.8 91.5h0" stroke="#aec7e8" stroke-width="3" stroke-linecap="round" stroke-opacity="0.24"/>
<path d="M398.7 87.2h0M396.9 90.1h0M395.6 76.2h0M396.9 70.4h0M403.3 78h0M390.8 88.4h0M399.4 79.3h0M395.3 92.5h0M398.5 66.4h0M398 72.9h0M401.7 82h0M400.4 83.2h0M395.1 80.1h0M400.8 84.3h0M396.8 66.6h0M394.1 87.5h0M392.7 90.6h0M399.8 66.2h0M394.7 84.1h0M398.2 89.9h0M389.6 87.8h0M389.2 95h0M401.8 82.7h0M394.6 91.7h0M400 71.1h0M392.2 82.4h0M397.1 100.8h0M392.1 83.5h0M395.1 71.8h0M398.1 66.8h0M400.5 88.8h0M399.9 79.9h0M395.6 63.3h0M403.8 81.9h0M400 69.6h0M396.7 79.3h0M396.2 65.9h0M392.8 89.7h0M398.7 84.3h0M402.1 99.7h0M404.7 71.4h0M398.1 75h0M399.8 74.6h0M398 80.2h0M400.8 82.1h0M392.4 75h0M399.4 90.5h0M392.6 75.2h0M403.2 78.1h0M390.9 71.3h0M399.4 89.9h0M399.2 92.4h0M397.5 80.6h0M385.5 70.7h0M398.6 80.3h0M403 101.9h0M392.2 69.9h0M398.9 85h0M399.3 81.6h0M401 68.5h0M399.3 79.1h0M399.9 77.6h0M398.3 98.2h0M395.9 62h0M402.1 80.9h0M402 88.3h0M398.5 94.2h0M397.1 100.1h0M398 91.9h0M400 90.3h0M398 77h0M401.5 86.5h0M402.8 85.9h0M402.6 84.8h0M398.6 93.7h0M400.8 77.2h0M397.3 83h0M393.5 84.8h0M392.6 77.6h0M397.4 85.7h0M395.3 84.7h0M388.3 87.2h0M393.6 92.2h0M401.3 64.1h0M398 75.7h0M401 72.7h0M390.9 90h0M396.3 83.8h0M392.8 85.4h0M399.9 86.8h0M397.1 88.3h0M398.7 77.6h0M394.2 73h0M399.8 76h0M391.7 75.2h0M392.5 92.8h0M397.1 80.5h0M399.8 75.7h0M403.1 91h0M399.3 71.6h0M388.5 76.7h0M389.4 86.2h0M402 83.7h0M399.3 83.7h0M390.9 80.1h0M397.5 81.2h0M390.1 68.5h0M397.6 83.3h0M393 74.4h0M391.9 73.5h0M397.6 87.5h0M397.5 88.2h0M401.5 65.9h0M399 90.8h0M404 76.1h0M397.9 64.4h0M395.8 72.8h0M396.9 69.2h0M395.3 82.4h0M394.7 79.3h0M398 90.8h0M397.7 95.2h0M402.3 61h0M400.2 67.2h0M395.2 91.4h0" stroke="#aec7e8" stroke-width="3" stroke-linecap="round" stroke-opacity="0.24"/>
<rect x="391.8" y="62.5" width="12.2" height="38" rx="5.5" ry="5.5" fill="#aec7e8"/>
<path d="M429.1 100.8h0M432.3 68.7h0M430.1 92.2h0M421.6 66.2h0M441.2 81.4h0M430.2 104.4h0M423.2 90.4h0M421.4 74.9h0M424.8 81.7h0M422.3 97.7h0M426.6 82.5h0M429.4 94.3h0M433.9 82.1h0M421.1 86.5h0M424.5 82.6h0M426.2 72.7h0M430.1 80.4h0M431.6 82.3h0M425.8 71.2h0M428.6 82.4h0M423.4 76h0M418.5 101.9h0M430.5 67.9h0M428.8 98.2h0M423.3 85.9h0M435.1 82.3h0M418.9 83.2h0M431.5 87.8h0M426.2 84.8h0M424.6 84.6h0M419.7 85.9h0M432.3 109.8h0M414.6 86h0M432.3 83.9h0M422.4 90.1h0M420.4 102.9h0M430.3 81.1h0M429.4 102.9h0M432.3 91.7h0M419 87.9h0M417.6 96.9h0M434.6 86.1h0M415 87.7h0M423.1 75.3h0M430.9 82.6h0M427.3 90.5h0M425.4 81.5h0M438.8 79.3h0M429.5 88.3h0M434.3 92h0M424 85h0M426.9 69.4h0M425.6 80.7h0M424.8 68.7h0M426 81.1h0M418 96.7h0M422.1 96.6h0M422.7 87h0M428.7 101.3h0M426.3 91.8h0M428.6 86.4h0M418 76.4h0M415.7 88.7h0M423.2 85.3h0M415.5 86.1h0M418.9 68.1h0M423 97.6h0M418 85.2h0M428.9 82.9h0M441.8 85.2h0M428.5 86.6h0M421.1 91h0M424.3 67.9h0M431.4 93h0M421.5 88h0M435.9 83.4h0M425.5 96.5h0M428.3 93.9h0M425.1 88.3h0M418.4 95.8h0M429.7 90.9h0M421 97.3h0M430.1 102.5h0M419 102.5h0M418.4 80.6h0M429.8 101.8h0M431.1 78h0M430.2 77.8h0M415.7 83.5h0M416.1 77.3h0M430.5 98.5h0M428.1 91h0M425.7 77.8h0M421.1 86h0M417.5 88.9h0M429.2 73h0M429.7 84.9h0M428.5 95.5h0M416.3 84.9h0M429 99.9h0M420.6 92.6h0M425.9 78.8h0M427.1 85.2h0M429.3 90.8h0M418.9 84.4h0M429.4 81.4h0M426.9 88.9h0M420.3 91.7h0M414.8 79.3h0M426.2 85.5h0M417.3 87.6h0M427.8 109.9h0M429 86.9h0M425.3 97.8h0M427.6 79h0M428.4 90.5h0M425 87.5h0M429.5 69.2h0M436.9 85.1h0M426.4 78.9h0M431.5 104.9h0M421 74.8h0M436.6 72.9h0M424.5 85.9h0M422.3 91.5h0M424.7 83.6h0M420 86.4h0M429.5 79.2h0M423 97.8h0M419.7 90.2h0M420.4 74.9h0M422.2 85.7h0M420.5 78.8h0M432.4 83.7h0" stroke="#ff7f0e" stroke-width="3" stroke-linecap="round" stroke-opacity="0.25"/>
<path d="M430.1 73.6h0M424.2 84.1h0M421.9 76.3h0M420.1 84.7h0M438.6 78.1h0M419.2 78.3h0M423.8 73.9h0M424.1 83.3h0M415.3 93h0M423.8 82.4h0M432.3 74.7h0M433.4 81.8h0M424.5 87.9h0M438.8 83.7h0M415.4 89.5h0M419.2 73.2h0M418.8 85.3h0M425 80h0M423.2 84.7h0M415.8 85.5h0M416.8 91h0M425.3 89.5h0M420.1 76.9h0M424.1 77.6h0M427 87.1h0M430.1 78.1h0M423.6 82h0M428.1 89.6h0M428.3 80.9h0M427.8 91.2h0M438.7 80.2h0M426.9 87.5h0M428.3 97.3h0M424.2 84.3h0M429.5 104.2h0M421.9 96h0M424.2 100.6h0M431.5 82.9h0M431.6 83.3h0M427.5 100h0M423.6 81.3h0M425.5 81.2h0M429.3 93h0M436.5 81.5h0M423.4 89.8h0M425.7 69.7h0M431.3 83h0M421.5 75.5h0M421.5 98h0M424.8 94.1h0M426.5 93h0M432.7 90h0M437.1 80.8h0M433 81.8h0M426.2 81h0M430 81.7h0M430.6 93.3h0M429.9 76.7h0M414.9 74.6h0M427.6 84.3h0M436.8 87.8h0M434 87.7h0M427.1 82.4h0M423.8 80.5h0M434 84.5h0M421.4 76.3h0M422.2 77.2h0M429.4 84.8h0M416.3 80.2h0M427.6 73.3h0M420.3 75.6h0M423.2 90.5h0M433.1 81.1h0M420.8 80.2h0M430.9 82.7h0M423.5 92.3h0M426.6 105.3h0M434.9 74.9h0M417 93.7h0M436.2 82.6h0M430.4 87.6h0M432.5 84.4h0M435.1 81.6h0M432.7 93.5h0M431.2 92.1h0M432.5 87.5h0M435.7 82.7h0M429.6 86.4h0M430.1 86.4h0M434.3 94.7h0M427.1 101.5h0M425.9 81.4h0M418 95.2h0M434.7 84.3h0M421.2 85.5h0M415.5 84h0M423.5 84.9h0M423.8 98.3h0M430.8 70h0M419.3 76.7h0M427.9 86.9h0M433.3 89.4h0M434.9 99.2h0M419 72.1h0M429 80h0M430.3 79h0M442.9 62.5h0M417.1 85.6h0M418.6 80.9h0M416.5 89.7h0M419 102.5h0M419.1 82.3h0M423.7 96.1h0M416.2 95.1h0M419.3 75.9h0M426.6 76.6h0M440.4 86.6h0M429.6 76.4h0M433.5 79.6h0M430.6 90.3h0M430.3 82.5h0M427.6 85.1h0M422.6 66.1h0M434.4 65.7h0M421.9 81.5h0M425.1 83h0M426 72.3h0M427 100.8h0M422.8 80.8h0M421.2 71.1h0M427.7 91.2h0M425.3 79.8h0M428.7 98.4h0M431.8 78.7h0" stroke="#ff7f0e" stroke-width="3" stroke-linecap="round" stroke-opacity="0.25"/>
<path d="M417.8 97.6h0M426 78h0M425.7 63h0M416.2 99.2h0M416.2 90.1h0M435.5 85.3h0M430.2 78.1h0M443.6 101.9h0M420.8 81.6h0M427.7 84.7h0M421.6 85.3h0M422.8 81.7h0M416.7 86.8h0M428.7 70.8h0M418.8 81h0M426.4 100.1h0M424 82.2h0M425.4 95.4h0M418.6 84.1h0M423 94.8h0M419 103.1h0M431 73.5h0M418.6 67h0M426.5 86.4h0M417.9 99.6h0M438.3 71.2h0M418.5 99.7h0M427.7 81.4h0M424.3 83.8h0M427.4 79.8h0M431.7 82.7h0M424.2 91.7h0M422.5 84.2h0M423.5 96.2h0M429.9 95.1h0M426.2 89.7h0M435.7 74.8h0M420.3 76h0M435.4 83.5h0M428.4 95.3h0M424.5 90.5h0M419.8 71.7h0M426.9 80h0M419.5 91.3h0M420.2 89.5h0M427.2 109.7h0M416.8 76.9h0M439.9 87.5h0M425.7 92.9h0M422.7 74.9h0M420.1 91.3h0M431.3 68.5h0M434 70h0M430.3 89.1h0M425.8 78.3h0M426.6 79.6h0M434.9 80h0M418.9 68.7h0M423.2 84.8h0M427 83.5h0M431.5 93.5h0M424.6 72.7h0M438.5 83h0M420.8 88.9h0M425.9 95.3h0M430.9 69.8h0M425.3 70.7h0M422.4 82.2h0M429.6 86.2h0M425.1 88.4h0M438 74.7h0M439.5 84.7h0M417.1 77.3h0M430.3 92.2h0M428.5 98.5h0M426.1 78.2h0M431.6 99.2h0M425.2 94.5h0M423.6 88.2h0M417.1 79.3h0M417 94.2h0M437.3 101h0M417.4 77.2h0M429.8 92.3h0M421.3 82.3h0M430.6 86.3h0M426 83.3h0M425.6 75.3h0M430.2 96.6h0M431.7 91.4h0M418.9 82.8h0M428.4 74.8h0M421.2 83.2h0M426.3 96.7h0M415.3 103.7h0M422.7 90h0M427 90h0M428 86.4h0M422.9 76.9h0M416.9 105.5h0M430.9 69.5h0M423.4 94.8h0M435 93.8h0M434.2 74.9h0M420.3 78.8h0M435.5 78h0M422.5 89.8h0M421.9 88.9h0M422.4 83.9h0M434.5 77.2h0M428.1 95.5h0M431.7 71.8h0M417.5 100.6h0M436 77.8h0M435.8 88.9h0M435 88.2h0M425.8 91.5h0M421.5 71.9h0M427.4 78.9h0M423.2 70.9h0M427.9 98.6h0M426 92.9h0M429.9 79.8h0M432.5 78.4h0M422.8 105.5h0M428.3 80.9h0M431.2 95h0M427.3 76.9h0M431.9 78.6h0M427.4 79.5h0M420.8 79.5h0M424.2 80h0M423.6 86.7h0" stroke="#ff7f0e" stroke-width="3" stroke-linecap="round" stroke-opacity="0.25"/>
<path d="M416.9 85.6h0M419 69.2h0M418.1 96.4h0M425.6 89.2h0M420.5 78.7h0M437.5 66.8h0M417.3 77.7h0M419.4 89.4h0M418.7 95h0M429.7 97.5h0M423.2 103.7h0M435.4 82.3h0M427 84.8h0M436.9 89.5h0M419.1 90.1h0M423.3 76.9h0M419.8 79.4h0M433 69.3h0M422.8 64.3h0M424.3 82.4h0M434.2 75.6h0M419.6 81h0M423.2 79.8h0M420.8 90.2h0M430.1 94.5h0M427.1 78.3h0M429 90.1h0M424.8 98.6h0M418 78.7h0M426.7 74.7h0M433.8 75.9h0M434.1 83.8h0M430 86.6h0M433.6 84.7h0M429.5 71.9h0M422.9 84.4h0M425.2 74.5h0M428.4 90.1h0M423.3 76.1h0M426.3 89.4h0M420.6 83.4h0M420.7 99h0M424.7 88.4h0M430 90.7h0M429.2 88.7h0M427.3 76.6h0M418.9 88.2h0M419.7 73.4h0M415.7 76h0M417.4 75.7h0M414.6 87.6h0M416.3 89.1h0M433.7 90.9h0M415.6 89.2h0M430.1 88.4h0M425.3 75.5h0M419.6 81.5h0M423.6 94.2h0M424.2 86.1h0M437.9 108.2h0M429.7 88h0M427.2 88h0M437.3 81h0M428.6 74.6h0M419.5 97.5h0M429.2 103.1h0M422.7 86.9h0M418 94.1h0M427.6 77.1h0M424.4 93.3h0M421.7 71.8h0M424.5 80.6h0M423.3 88.1h0M425.5 89.5h0M427.4 86.4h0M421.1 98.6h0M440.8 79.4h0M423.4 85.9h0M433.5 79h0M425.1 68.9h0M424.7 81.5h0M420.6 83.1h0M426.5 89h0M428.9 85.4h0M429 75h0M423.7 71.3h0M423.7 66.7h0M423.1 92.2h0M415.7 81h0M422.6 86.4h0M426.9 85.8h0M420.5 85.7h0M420.1 90.8h0M415.9 62.7h0M424.2 89.1h0M417.9 94.3h0M427.4 79.1h0M427.1 101.7h0M425.4 76.2h0M434.2 87.4h0M416 96.4h0M425.6 94.5h0M418.7 90.9h0M417.9 100.9h0M434.4 80.9h0M421.6 108.9h0M432.1 99h0M420 87.3h0M426.9 92.2h0M428.2 70.5h0M421.2 83.4h0M428.7 82.7h0M430.1 108.3h0M419.1 91.1h0M420.8 79.5h0M419.8 88.5h0M431.6 95.9h0M426.7 84.7h0M418.8 83.5h0M433.3 68.1h0M430.9 78.9h0M427.8 87.4h0M428.1 102.9h0M429.9 81.5h0M430.1 100.7h0M417.4 81.5h0M422.6 97.7h0M424.1 85.8h0M416.4 84h0M415.5 71.7h0M416.7 82.7h0M427.5 81.1h0M432.9 101.2h0" stroke="#ff7f0e" stroke-width="3" stroke-linecap="round" stroke-opacity="0.25"/>
<path d="M432.7 70.1h0M431.8 84.7h0M426.8 74.5h0M423.8 76h0M419.9 91.3h0M423.5 89.7h0M418.9 71.2h0M423.5 85.7h0M423.5 95.6h0M421.9 67.1h0M428.9 89.2h0M422.1 73.8h0M432.4 68.4h0M418.3 67.1h0M419 78.8h0M428.9 79.2h0M415.5 86.4h0M432.4 84.1h0M432.5 94.9h0M429.2 92.4h0M431.2 87.2h0M427.6 78.3h0M421 70.6h0M416.6 74.5h0M414.6 100.4h0M426.1 82.3h0M427.6 93.1h0M436.2 80.3h0M425.6 72.2h0M425.8 68.5h0M424.6 73.5h0M427.4 104.6h0M432.8 86.2h0M427.8 80.3h0M419.7 85.1h0M429.8 97.1h0M435.6 79.1h0M432.4 80.6h0M429 89.7h0M424 92.2h0M427.3 70.8h0M424.5 86.7h0M424.5 84h0M425.9 85.9h0M435 79.6h0M433.4 105.9h0M420.3 85.7h0M418.5 104.1h0M430.7 76h0M418.5 70.9h0M432.1 81.6h0M418.3 90h0M431.7 80.5h0M431.4 93.2h0M430 77.1h0M427.9 90.7h0M429.8 90.6h0M423.9 76.6h0M423.7 83.3h0M428.2 81.5h0M432.3 83.7h0M434.1 90.2h0M429.7 108.7h0M422.3 95.2h0M438.3 104.5h0M417.4 100.6h0M423.4 82.6h0M422.1 89.6h0M432.3 88.3h0M416.7 77.5h0M415.7 88h0M433.4 81.4h0M428.9 87.9h0M434.3 80.2h0M426.1 87.6h0M415.3 74h0M417.7 85.4h0M419.7 73.1h0M418.1 85.7h0M414.6 77.6h0M417.1 84.1h0M417.7 80.5h0M421.9 65.6h0M416.2 86.8h0M423.2 91.5h0M429.2 101.7h0M437.5 94.3h0M422.4 78.6h0M420.5 92.3h0M418.2 68.9h0M421.5 78.1h0M425.6 81.9h0M430 97.6h0M430.1 83.8h0M420.3 90.6h0M428.3 95.7h0M416.2 84.8h0M419.6 97.5h0M425.1 71.8h0M430.2 75.8h0M427.8 79.9h0M428.1 79.1h0M431 68.9h0M428.7 92.4h0M418.9 91.6h0M425.6 72.7h0M426 80.1h0M426.5 82.3h0M419.3 76.6h0M421.2 86.5h0M423.3 94.3h0M430.4 97.1h0M418.4 81h0M417.9 90h0M421.2 87h0M419.1 77.9h0M417.5 77.2h0M418 83.1h0M417.9 85h0M423.1 86.7h0M436.7 90.8h0M437.2 91.8h0M422.4 74.3h0M416.4 86.6h0M415.4 93.1h0M415.1 95.6h0M433.2 74.7h0M417.4 82h0M425.3 83.2h0M421.9 87.2h0M430.1 101.4h0M417 88h0M426.3 89.7h0" stroke="#ff7f0e" stroke-width="3" stroke-linecap="round" stroke-opacity="0.25"/>
<path d="M418.8 92.1h0M432.6 74.2h0M432 92.6h0M423.8 63.6h0M432.3 82.8h0M421 83.6h0M432 90.3h0M420.9 94.2h0M424.9 76.5h0M422 101h0M419.6 87.7h0M417.6 96.5h0M434.6 85.5h0M422.6 90.8h0M417.1 89.4h0M423.2 98.3h0M433 81h0M425.7 90.3h0M426.6 79.9h0M427.3 80.4h0M421.9 99.8h0M417.6 80h0M417.4 75.4h0M419.1 73.6h0M421.8 85.3h0M436.9 81.8h0M416.6 81h0M421 81.5h0M434 88.1h0M418.4 77.6h0M436 95.7h0M428.1 96.6h0M420.5 96.8h0M424.7 88.2h0M427.4 90.9h0M428 92.8h0M424.1 70.4h0M432.4 93h0M414.2 84.2h0M434.5 86.4h0M423.7 72.7h0M419.3 76.7h0M430.4 74.8h0M422.9 84.3h0M429.4 85.7h0M430 89.6h0M422.9 80.2h0M432.5 85.5h0M427.8 85.5h0M422.7 90.7h0M424.2 85.6h0M425.2 82.9h0M430.8 83.9h0M423.6 76.8h0M428.7 76.4h0M414.7 76.6h0M427.8 82.2h0M415.1 88.4h0M427.8 95.7h0M431.7 92.6h0M418.3 80.8h0M430.4 86.8h0M424.8 95h0M429.3 93.4h0M432.2 80.4h0M421.2 85.2h0M425.7 74.3h0M417.9 95.6h0M417.4 94.8h0M436.8 75.3h0M419.9 106.2h0M421.2 83.6h0M420.9 92.8h0M434.3 92.6h0M424.5 90.2h0M435.1 93.6h0M426.7 79.1h0M430.1 84.2h0M420.8 77.5h0M420.8 87.5h0M418.6 100.6h0M421.8 86.5h0M422.6 86.7h0M415.4 86.8h0M420 89.4h0M428.3 79h0M419.6 97.9h0M414.1 75.2h0M420.7 99.8h0M419.2 95.7h0M437 78h0M422.2 83.4h0M424.7 83.8h0M416.2 98.1h0M418.3 91.4h0M427.9 87.1h0M424 91.6h0M441.7 79.7h0M428.8 93.7h0M432.7 87.9h0M422.9 97.8h0M427.7 81.3h0M416.4 98.9h0M421.7 86.6h0M444.9 89.5h0M432.1 80.6h0M419 90.1h0M431.2 96.3h0M426.3 91.2h0M418 83.7h0M438.4 91.5h0M422.8 66.9h0M430.7 81.7h0M416.6 91.9h0M428.2 74.7h0M429.1 66.5h0M419.9 90.2h0M418.6 74.8h0M434.4 91.4h0M424 62.4h0M416.4 81.5h0M430.1 99h0M414.4 87.5h0M433.1 86.5h0M422.8 85.8h0M424 68.3h0M416.2 76.3h0M419.3 81.1h0M418.6 94.3h0M421.6 85.5h0M417.1 83.4h0M437.4 80.2h0M415.2 93.2h0" stroke="#ff7f0e" stroke-width="3" stroke-linecap="round" stroke-opacity="0.25"/>
<rect x="414" y="68" width="18" height="34" rx="8" ry="10" fill="#ff7f0e"/>
<path d="M405.6 86.8h0M407.6 82h0M406.2 77h0M404.3 84.7h0M405.2 98.8h0M406.5 76.9h0M406.4 79.8h0M406.2 81h0M408.8 87.7h0M406.8 72.2h0M406.6 85.3h0M406 80.1h0M406.9 88.4h0M408.5 87.1h0M406.3 74.9h0M403.9 85.4h0M405.7 84h0M405.9 71.2h0M404.2 97.4h0M406.7 86.2h0M408.1 83.1h0M405.7 78.9h0M406.8 93.5h0M403 83.2h0M404 90.9h0M405.7 81.6h0M406.9 81.7h0M406.4 80.2h0M405.1 84.1h0M406.5 77.9h0M408.1 84.9h0M407.5 83.8h0M406.4 84h0M405.5 76.8h0M404.7 79.1h0M405.5 81h0M405.5 79.8h0M405.4 78.7h0M406.3 73.3h0M406.8 92h0M406.8 89.7h0M405.6 89.3h0M404.6 84.1h0M408.3 94.2h0M408.6 73.3h0M407 75.8h0M406.3 77.6h0M405.2 88.9h0M406 86.6h0M405.7 92.6h0M409.6 80.8h0M405.3 83.5h0M404.9 92.3h0M406.7 83h0M405.6 78.2h0M405.9 79.7h0M407.1 79.9h0M408.3 92.2h0M405.5 86.4h0M406.3 80.4h0M407.7 93.1h0M406 80.6h0M406.4 86.4h0M404.1 77.3h0M405.6 81.9h0M405 87.5h0M406.5 92.2h0" stroke="#ffbb78" stroke-width="2.6" stroke-linecap="round" stroke-opacity="0.4"/>
<path d="M407.3 92.8h0M406.2 72.6h0M408.3 84.1h0M407 81.6h0M404.7 80.1h0M403.5 77.9h0M405.9 87.5h0M406 84.1h0M408.9 82.6h0M404.9 78.2h0M404.3 96h0M408.3 87.3h0M406.8 82.2h0M406.4 96.9h0M407.1 91.8h0M408.2 88.9h0M407.1 86.8h0M408 87.1h0M405.8 82.1h0M404.3 78.8h0M407.4 73.7h0M404.5 88.8h0M407 71.6h0M405.5 90.9h0M407 90h0M408.4 89.8h0M405.6 93.7h0M408 83.5h0M407.7 79.9h0M406.9 84.9h0M406.8 87.4h0M404.3 90.2h0M409.4 93.9h0M405.1 75.3h0M407.6 72.7h0M407 79.2h0M405 90.9h0M406.3 91h0M405 82.2h0M407.3 82.9h0M407.8 93.8h0M408.9 78.1h0M408.1 81.7h0M407 83.5h0M403.6 75.1h0M405.3 75.5h0M406.1 96.1h0M406.3 82.9h0M405.5 88.5h0M403.6 78h0M405.8 83h0M406.6 89.5h0M405.7 82.8h0M407.6 72.3h0M407 71.4h0M405.5 79.7h0M403.3 84h0M406.7 83h0M404.9 88h0M404.4 92.7h0M404.3 96.4h0M405.4 78.6h0M405.3 87.1h0M405.2 82h0M403.9 75.6h0M405.7 92.5h0M407 89.3h0" stroke="#ffbb78" stroke-width="2.6" stroke-linecap="round" stroke-opacity="0.4"/>
<path d="M404.3 89.9h0M405.8 79.2h0M407.5 79.2h0M406.8 88.8h0M407.6 95.8h0M407.5 95.6h0M407.8 76.6h0M407.3 87.5h0M407.7 79h0M408.9 84.4h0M407.6 85.4h0M406.1 79.8h0M405.7 77.5h0M405.4 88.8h0M405.8 76.4h0M406.2 80.2h0M407.4 78.6h0M405.6 81.4h0M407.3 81.2h0M404.8 88.1h0M406.6 79.7h0M406.1 94.1h0M407.8 78.5h0M407.4 89.3h0M403.8 73.1h0M408.4 89.9h0M405.9 91.1h0M408.3 89.4h0M406.1 83.1h0M404.8 82.2h0M404.9 72.4h0M406.4 87.9h0M408.1 95.2h0M406.7 90.2h0M405 91.1h0M405.9 85.2h0M406.8 73.5h0M405.6 80.9h0M408 90.5h0M409.5 81.2h0M405.7 93.3h0M406.3 88.7h0M407.2 87.7h0M406.7 92.5h0M405.7 86.2h0M408.7 84.9h0M401.3 85.3h0M407.8 98.9h0M405.2 96.1h0M406.7 84.3h0M408.6 82.5h0M407.6 94.5h0M408.2 75.1h0M408.4 75.7h0M407.8 87h0M406.7 90.7h0M406.9 86.4h0M406.3 74.7h0M407 78h0M406.7 95h0M409.8 85.6h0M408.4 86.3h0M407.2 89.5h0M406.3 90.6h0M407.5 75.3h0M406.8 75.9h0" stroke="#ffbb78" stroke-width="2.6" stroke-linecap="round" stroke-opacity="0.4"/>
<ellipse cx="406.1" cy="84" rx="2.9" ry="13" fill="#ffbb78"/>
<ellipse cx="409.3" cy="83.5" rx="1.6" ry="17.5" fill="#2ca02c"/>
<path d="M412.3 83h0M413.1 83.9h0M410.8 91.9h0M415.1 65.8h0M412 96.1h0M414.1 94.8h0M412.4 89.3h0M411.6 62.7h0M410.8 82.9h0M412.2 100.2h0M415.8 65.5h0M410.9 82.4h0M412.8 77.8h0M413.6 87.3h0M412.8 81.1h0M412.3 82.5h0M411.6 75.8h0M411.5 75.6h0M413.3 84.3h0M413.7 62.6h0M411.3 90.7h0M414.7 88.1h0M414.5 87.1h0M413.1 60.5h0M415.4 83.9h0M415.6 93.9h0M413.8 98.7h0M412.3 60.5h0M408.8 87.4h0M413.1 87.6h0M414.5 65.5h0M411.5 77.8h0M412.2 74.9h0M413.4 68.1h0M416.5 105.6h0M414.3 79.9h0M409.1 84.1h0M415.9 67.8h0M413.6 86.5h0M413.7 57.4h0M412.3 78h0M415 79.2h0M412.2 66.9h0M414.2 66.8h0M410.3 57.9h0M412.3 89.8h0M412.4 84.6h0M413.4 90.9h0M412.3 79.2h0M412.5 71.8h0M411.7 71h0M412.3 75.1h0M414.1 80.4h0M413.8 80h0M412.1 83.9h0M412.7 77.4h0M412.7 74.3h0M415.2 75.7h0M411.3 82.5h0M411.6 91.3h0M411.4 76.6h0M413.4 75.5h0M410.1 92.7h0M412.7 69.7h0M411.5 81.5h0M412 83.2h0M412.5 72.9h0M412.6 106.9h0M412.9 81.6h0M412.7 77.7h0M410.9 68.5h0M412.5 80.1h0M414.4 78h0M412.9 67.9h0M411.6 92h0M412 65.5h0M412.7 77.4h0M410.3 98.2h0M413.6 96h0M414.4 87.8h0M412.6 80.8h0M412.4 84.8h0M410.4 67.5h0M412.7 87.9h0M412.1 76.8h0M414.2 74.3h0M413.3 100.6h0M414.3 85.1h0M412.9 93.1h0M412.4 86.2h0M413.6 71.5h0M413.1 76.8h0M411 78h0M415.1 94.5h0M412.8 72.1h0M412.1 72.2h0M410.7 88.1h0M411.9 83.6h0M412.6 78.6h0M412.1 79h0" stroke="#1f77b4" stroke-width="2.6" stroke-linecap="round" stroke-opacity="0.4"/>
<path d="M414.4 97.3h0M413.6 76.5h0M413.2 64.6h0M412.3 70.2h0M411.1 102.7h0M413.8 102.2h0M413.4 69.7h0M414.7 68.5h0M409.7 81.4h0M410.4 77.5h0M412.5 78.7h0M414.3 94.4h0M412.6 88.8h0M413.6 86.7h0M410 88h0M413.6 89.4h0M414.1 78.8h0M413.6 82.2h0M414 95.7h0M413.7 78.3h0M409.2 91.8h0M414.2 77.5h0M415.7 87h0M414.2 61.5h0M412.6 79.7h0M411.7 84.2h0M413.2 86.1h0M415.2 77.1h0M415.4 88.3h0M414.3 72.6h0M412.2 92.6h0M412.6 66.7h0M413.3 81.8h0M413.9 69.9h0M412.8 64.8h0M414.6 66h0M413.5 65.8h0M413.4 92.7h0M413.5 77.3h0M412.9 69.3h0M411.4 80.6h0M413.7 83.3h0M413.7 85.9h0M412.9 61.4h0M411.7 76.4h0M411.8 85h0M415 75.4h0M413.7 80.8h0M411.9 79.1h0M414.7 84.9h0M413.2 73.3h0M413.2 76.9h0M411.7 92.7h0M413.1 78.8h0M412.5 76.5h0M412.6 73.5h0M416.4 72.7h0M413 76.6h0M413 83.9h0M415.1 93.9h0M414.9 70.4h0M412.1 81.1h0M414.6 68.1h0M412.4 93.9h0M414.1 77.3h0M413.5 72.3h0M413.4 84.4h0M411.2 96.6h0M412.6 78.4h0M411.1 81.6h0M412.1 85.9h0M412.2 63.6h0M412.6 87.9h0M414.8 88h0M413.2 83.2h0M414.5 70.1h0M413.9 67.3h0M415 83.7h0M411.7 73.1h0M411.9 81.7h0M415.7 95.1h0M412.6 95.9h0M412.2 99.6h0M412.1 89.8h0M413.6 65.3h0M413.3 62.7h0M412 74.5h0M413.7 90.5h0M411.4 59.6h0M412.9 71h0M413.5 96.9h0M414.9 66.8h0M414.6 105.7h0M413.1 80.1h0M414 77.6h0M413.6 78.4h0M413.1 82.4h0M414.3 91h0M411 78.4h0M414.6 95.6h0" stroke="#1f77b4" stroke-width="2.6" stroke-linecap="round" stroke-opacity="0.4"/>
<path d="M414.3 79.7h0M412 92.7h0M411.9 87.5h0M411.5 83.3h0M411.4 74.9h0M411.6 71.5h0M415.8 75.6h0M411.7 81.8h0M414.7 71.1h0M413.3 86h0M414.3 102.3h0M414.4 95.3h0M414.4 91.7h0M413.2 85.6h0M411.4 69.8h0M415.7 85.3h0M413.7 97.8h0M413.2 73.9h0M411.5 85.2h0M410.7 61.9h0M412 72.7h0M414.3 97h0M412.2 85h0M412.1 70.7h0M413.2 91.7h0M413.6 82.4h0M416.7 81.1h0M412.5 92h0M410.3 101.1h0M413.5 86.5h0M413.1 83.6h0M413.7 75.4h0M412.4 67.6h0M413.1 77.8h0M414.6 88.8h0M412.2 100.2h0M414.7 79.1h0M413.2 70.9h0M414.7 88.4h0M413.6 102.9h0M415 67.3h0M412.6 75.7h0M411.8 61.8h0M412.3 92.3h0M412.5 87.6h0M415.2 73h0M413.3 74.4h0M414.5 72h0M412 83.6h0M413.4 85.5h0M414.4 101.8h0M412.8 73.5h0M411.9 83.1h0M411.5 77.4h0M409.8 79h0M410.2 86.6h0M413 97.7h0M412.2 79.8h0M411.3 79.9h0M414.6 73.8h0M415.8 92.5h0M414.3 81.4h0M414.7 85.1h0M413.2 86.4h0M413.9 89.4h0M413.8 88.1h0M413.8 68.4h0M412.8 87.3h0M412.5 81h0M413.2 79.5h0M413.6 81.3h0M412.3 73.9h0M412.5 84.7h0M414.3 71.8h0M412.8 65.7h0M411.5 94.2h0M412.1 88.1h0M412.4 79.2h0M416.3 80.7h0M412.6 75.4h0M414.9 77.9h0M415.8 89.6h0M414.1 79.9h0M411 85h0M414.2 76.4h0M413.7 78.1h0M414 91.8h0M414.4 82.3h0M414.3 80.9h0M414.5 57.4h0M414.3 88.3h0M412.1 94.6h0M412.2 70.2h0M414 79.5h0M412.3 94.8h0M410.7 78h0M411.8 93.5h0M412.5 85.2h0M410.8 100.2h0M414.3 78.2h0" stroke="#1f77b4" stroke-width="2.6" stroke-linecap="round" stroke-opacity="0.4"/>
<path d="M412 91.4h0M413.8 84.6h0M412.7 91.9h0M411.5 76.5h0M410.3 76.8h0M415.2 89h0M411.8 88.9h0M412.8 72.9h0M411.7 82.7h0M413 87.5h0M413.8 60.8h0M411.8 58.2h0M414.1 75.9h0M412 73h0M413.4 96.3h0M410.6 77.1h0M414.4 84.9h0M412.9 82.9h0M411.8 91.1h0M412.9 67.4h0M412.5 83.8h0M413.5 83.4h0M411.2 79.3h0M412.4 76.9h0M413.1 82.7h0M413.4 62.4h0M411.8 82.7h0M414.3 91.9h0M412.5 75.9h0M415 78.6h0M411 79.2h0M413.3 69.8h0M411.7 76.5h0M413.2 80.9h0M411.8 65.7h0M415.1 72.6h0M414.4 102h0M413.5 98.1h0M413.6 75.8h0M415.3 73.1h0M415.2 92h0M414.2 82.1h0M413.2 98.4h0M414 84.7h0M412.9 66.1h0M415 65.9h0M412.7 88.7h0M416.3 85.4h0M409.4 87.8h0M412.8 59.5h0M413.5 80.9h0M414.6 70.4h0M413.4 81.8h0M413.6 91.5h0M412.1 86.5h0M412.5 84h0M413.2 82.3h0M413.6 91.3h0M413.8 76.6h0M411.7 75.2h0M412 75.8h0M412.5 75.1h0M412.6 70.2h0M412.1 93.4h0M415.3 91h0M414.5 83.7h0M410 72.6h0M414.4 82.3h0M415.6 86.5h0M412.2 69.3h0M413.2 84.1h0M414.8 99.6h0M412.7 100.8h0M411.7 100h0M411.3 85.3h0M413 81.4h0M412.7 82.3h0M413.1 68.9h0M414.7 68.6h0M413.9 88h0M414.6 94.9h0M414.7 75.4h0M414.5 93.6h0M412.1 78h0M411.9 79.1h0M413.4 79.9h0M414.1 77.6h0M413.8 91.7h0M411.3 104.1h0M414.4 76.3h0M413.5 74.6h0M414.3 82.1h0M414.1 77.2h0M414.8 85.9h0M411.6 69.3h0M413.5 86.6h0M413.8 95.8h0M414.2 96.1h0M412.6 92.7h0M412.8 89.5h0" stroke="#1f77b4" stroke-width="2.6" stroke-linecap="round" stroke-opacity="0.4"/>
<ellipse cx="413" cy="81.5" rx="2.8" ry="23" fill="#1f77b4"/>
<path d="M413.5 52h0M413 54.5h0M414.2 56.5h0M412.5 58h0M413.8 108.5h0M412.8 111h0M414 114h0M413.4 123h0" stroke="#1f77b4" stroke-width="2.8" stroke-linecap="round" stroke-opacity="0.55"/>
<path d="M412.1 164.9h0M385.3 157.1h0M392.1 162.2h0M407.6 159.6h0M403.7 152.8h0M378.9 155h0M408.5 155.7h0M385.4 158.3h0M391.7 157h0M410.3 158.6h0M400.2 159h0M406 163.2h0M417.8 157.5h0M384.2 161.4h0M406.7 162.1h0" stroke="#ff7f0e" stroke-width="3" stroke-linecap="round" stroke-opacity="0.2"/>
<path d="M405.8 163.2h0M381.4 155.8h0M408.4 158.3h0M393.8 164.8h0M411.4 151.7h0M399.1 157.4h0M411.5 165.3h0M396.8 156.6h0M387.4 160.8h0M400.1 152.9h0M387.4 162.9h0M378.6 166.7h0M397.5 164.5h0M395.9 152.2h0M411.5 166.8h0" stroke="#ff7f0e" stroke-width="3" stroke-linecap="round" stroke-opacity="0.2"/>
<path d="M398.8 168.8h0M397.9 170.2h0M410.3 164.5h0M393.3 169h0M405 163.8h0M402.1 165.5h0M398.1 169.8h0M395.4 167.7h0M393.6 166.9h0" stroke="#ffbb78" stroke-width="3" stroke-linecap="round" stroke-opacity="0.35"/>
<path d="M392.3 167.1h0M398.8 164.1h0M399.2 170.3h0M402.5 164.5h0M403.1 166.2h0M398.6 166.6h0M398.7 170.1h0M400 163.9h0M396.4 167.7h0" stroke="#ffbb78" stroke-width="3" stroke-linecap="round" stroke-opacity="0.35"/>
<path d="M369.8 197.5h0M382 216h0M394.5 224.5h0M409 200.5h0M399 214h0M388 206h0M383 200h0" stroke="#2ca02c" stroke-width="3" stroke-linecap="round" stroke-opacity="0.25"/>
<path d="M380.5 205h0M392 210h0M404 204h0M386 212.5h0M375 200h0M396 207h0M401 209h0" stroke="#2ca02c" stroke-width="3" stroke-linecap="round" stroke-opacity="0.25"/>
<path d="M433.4 180.6h0M434.7 192.2h0M435 180.9h0M438.6 195.4h0M433.8 195.3h0M425.7 187.9h0M439.1 188.2h0M439 175.5h0M426.7 175.9h0M435.6 178.6h0M428.1 183h0M433.1 181.7h0" stroke="#1f77b4" stroke-width="3" stroke-linecap="round" stroke-opacity="0.3"/>
<path d="M374.7 185.2h0M383.2 188.9h0M373.6 170.4h0M376.5 173.8h0M382.9 177.5h0M384.4 172.4h0M380.8 176.8h0M377.1 186.4h0" stroke="#aec7e8" stroke-width="3" stroke-linecap="round" stroke-opacity="0.3"/>
<path d="M389.9 176.8C390 175.8 390.6 174.1 391.3 173.2C392 172.2 393 171.6 394.2 171.3C395.4 171.1 397.2 171.4 398.4 171.6C399.5 171.8 400.4 172.7 401.1 172.2C401.8 171.7 401.9 169.6 402.5 168.6C403.1 167.6 403.8 166.7 404.8 166.3C405.8 165.8 407.3 165.9 408.5 166.1C409.7 166.3 411.2 166.6 412.2 167.5C413.1 168.3 413.6 169.9 414 171.3C414.4 172.7 414.5 174.4 414.5 175.9C414.4 177.5 414.2 179.1 413.5 180.5C412.9 182 412.2 183.9 410.8 184.7C409.3 185.4 406.7 185.4 404.8 185.1C402.9 184.9 401.1 183.9 399.3 183.3C397.4 182.7 395.2 182.1 393.8 181.4C392.3 180.8 391.2 180.4 390.5 179.6C389.9 178.8 389.8 177.9 389.9 176.8Z" fill="#ffbb78"/>
<path d="M391.9 179.2h0M401.1 177h0M404.9 181h0M406 170.2h0M407.8 174.9h0M405.5 183.8h0M400.3 174.8h0M407.1 181.6h0M400.9 182h0M410.4 180.5h0M412.1 181.6h0M405.6 174.6h0M414.2 168.9h0M396.4 175.2h0M407.3 185.2h0M412.2 174.8h0M398.7 173.3h0M394.9 176.2h0M410.3 174.9h0M405.7 168.5h0M408.5 168.1h0M405 186.1h0M407.9 172.4h0M395.1 179.6h0M412.8 166.6h0M401.7 172.9h0M395.4 179.1h0M404.7 168.8h0M402 174.2h0M401.3 171.1h0M411.8 183.9h0M389.5 175.9h0M393.5 176.8h0M399.5 181.5h0M402.5 180.1h0M401 177.5h0M415.7 170.5h0M407.1 181.5h0M403.1 182.1h0M394.9 174.5h0M410.7 185.3h0M402 178.4h0M415.6 180.1h0M397.4 180.2h0M411.7 170.6h0M410.4 169.7h0M401 180.7h0M390.1 176.2h0M403.6 169.4h0M403.9 184.1h0M408 173.3h0M413.3 174.8h0M409.3 172.9h0M411.6 177.6h0M407.2 184.3h0M399.3 183.6h0M393.7 177.7h0M410.5 167.7h0M399.5 177.2h0M402.9 183.4h0M411.6 167.9h0M403.5 184h0M393.6 180.8h0M407.8 168h0M401.2 178.1h0M399 180.9h0M404.8 172.7h0M393.6 172.7h0M413.7 173.1h0M401.8 176.5h0M405 173.9h0M411 165.7h0M403.5 167.9h0M399 179.1h0M406.3 182.8h0M413.7 169.4h0M401.6 173.1h0M410.7 170.6h0M407.8 170.4h0M397.5 174.6h0M413.6 179.3h0M391.1 174.8h0M403.4 174.2h0M395.8 176.9h0" stroke="#ffbb78" stroke-width="2.6" stroke-linecap="round" stroke-opacity="0.45"/>
<path d="M409.9 169.1h0M393.4 176h0M411 168.3h0M407.6 187.5h0M410.5 168.6h0M405.2 181.4h0M398.5 176.9h0M404.8 184.6h0M407.3 176.5h0M403.8 176.9h0M412.3 178.3h0M395.7 174.8h0M399.7 173.4h0M410 174.4h0M396.7 179.6h0M409.7 180.1h0M398.3 180.2h0M405.9 175.9h0M393.2 178.5h0M405.6 166.3h0M411.7 167.1h0M401.6 183.4h0M413.6 179.3h0M393.3 177.1h0M411.2 180.2h0M400.3 177.2h0M414.1 167.5h0M412 168.5h0M407.9 170.8h0M407.5 171h0M406.5 166.9h0M413.9 169.5h0M402.8 175.3h0M406.1 169.6h0M409.7 166.8h0M407.2 182.9h0M403.5 168h0M399 175.3h0M404.7 184.7h0M412.1 168.8h0M404.9 181.4h0M392.3 179h0M402.9 171.5h0M408.4 185.6h0M400.6 174.5h0M396.8 177.9h0M394.7 172.8h0M402.6 177h0M401.3 184.2h0M398.4 173.1h0M405.4 173.6h0M411.7 179.8h0M394.7 178.7h0M393.3 172.5h0M410.6 178.9h0M389.6 173.9h0M414.2 177h0M396.2 174.4h0M412.3 177.3h0M393.6 180.5h0M400.9 171.9h0M394.8 181.4h0M401.5 173h0M407.9 166.7h0M399.2 178h0M405.9 167.7h0M405.8 179.3h0M398.5 177.7h0M399.8 176.3h0M413.2 170.7h0M390.9 181.1h0M411.3 181.9h0M410.3 182.6h0M408.7 167h0M390 177.1h0M408.1 181.2h0M407.5 185.2h0M395.3 183h0M395.7 172.2h0M408.8 174.9h0M404.7 181.3h0M412.6 183.1h0M406.9 176.3h0" stroke="#ffbb78" stroke-width="2.6" stroke-linecap="round" stroke-opacity="0.45"/>
<path d="M407.2 176h0M412.2 182.3h0M409 174.5h0M407.8 179h0M393.3 176.2h0M390.4 174.3h0M408.6 181.3h0M397.9 172h0M410 168.7h0M406.4 181.8h0M390.3 174.8h0M406.3 186.9h0M411.3 171.6h0M390.9 181h0M393.7 172.8h0M402.4 173.6h0M396 177.4h0M404.4 168.8h0M397.3 174.9h0M404.8 185.2h0M403.4 172.2h0M413.3 180.3h0M408.4 173.3h0M401.7 175.2h0M398.5 172.5h0M413.3 167.5h0M403.9 170.6h0M408.5 176.1h0M409.6 180.5h0M392.5 177.8h0M412 182.2h0M401.3 172.4h0M401.1 179.3h0M404.6 170.8h0M399 170.3h0M406.7 184.2h0M402.8 178.4h0M395.7 174.2h0M399.2 182.4h0M412.3 181.3h0M412.4 180.5h0M394.4 181.2h0M403.5 175.7h0M395.5 172.4h0M403.5 175.4h0M412.5 175.9h0M413.3 176.1h0M406.1 185.2h0M408.4 182.5h0M398.4 171.9h0M399.3 180.6h0M405.8 164.8h0M413.9 174.1h0M404.4 169.1h0M391 179.4h0M415.9 176.7h0M406.2 182.1h0M400.9 176.1h0M413 172.8h0M408.9 173.9h0M405.2 168.4h0M401 183.9h0M409.9 174.3h0M403.7 184.2h0M388.7 175.4h0M414.3 175.6h0M406.5 184.6h0M403.9 180.8h0M401.3 181.7h0M414.9 173.3h0M408.6 177.4h0M404.7 184.7h0M403.6 171.8h0M408.5 170.7h0M409.5 178.9h0M394 172h0M408.6 171.8h0M403.4 183.7h0M392.3 172.9h0M399.6 175.1h0M409.3 179.4h0M407.7 173.4h0M404.3 184h0" stroke="#ffbb78" stroke-width="2.6" stroke-linecap="round" stroke-opacity="0.45"/>
<path d="M383 184C383.7 183.4 386.3 182.2 388.3 181.6C390.3 181 392.7 180.7 394.9 180.4C397.2 180.1 400 179.6 401.6 180C403.2 180.5 404.3 182 404.4 183C404.6 184.1 404 185.6 402.5 186.4C401.1 187.2 398.1 187.7 395.9 187.8C393.7 187.9 391.2 187.5 389.2 187.1C387.3 186.7 385.1 185.9 384 185.4C383 184.9 382.3 184.6 383 184Z" fill="#aec7e8"/>
<path d="M401.6 181.2h0M401.8 179.9h0M391.1 181.9h0M404.8 183.9h0M400.9 181.3h0M396.5 185.4h0M402.4 185.3h0M402.9 181.8h0M394.5 185h0M395.7 185.1h0M396.4 181.4h0M394.4 183h0M402.5 183.9h0M395.3 183h0M398.5 183h0M386 183.7h0M402.5 186.7h0M393.4 185.9h0M398.9 179.8h0M404.6 183h0M401 182.6h0M390.4 182.2h0M391.4 186.8h0M388.6 184.8h0M394.2 184.6h0M392.2 186.5h0M385.2 184.1h0M403.6 181.8h0M387.4 185.1h0M390.5 184.6h0" stroke="#aec7e8" stroke-width="2" stroke-linecap="round" stroke-opacity="0.5"/>
<path d="M384.3 185.2h0M398 186.1h0M392.8 188h0M390.5 185.7h0M389.9 184.7h0M397.1 184.5h0M396.6 186.9h0M396.6 181.6h0M391.6 184.6h0M396.2 181.9h0M394.8 181.2h0M402.2 185.6h0M386.3 184.9h0M389.8 181.3h0M390.8 187h0M392.2 180.8h0M397.6 183.1h0M390.7 184.7h0M382.7 184.2h0M402.6 184.4h0M392.9 185.8h0M386.8 185.3h0M399.7 183.7h0M394.5 188.4h0M392.5 185.4h0M386.9 186.6h0M402 185.3h0M393.5 183.7h0M392.5 186.2h0M403.1 184.2h0" stroke="#aec7e8" stroke-width="2" stroke-linecap="round" stroke-opacity="0.5"/>
<path d="M419.1 166.9C420.1 166.6 421.3 167.8 422.3 168.9C423.3 170.1 424.4 171.9 425.1 173.6C425.8 175.3 426.3 177.2 426.5 179.2C426.7 181.2 426.4 183.7 426 185.7C425.7 187.7 425.1 189.6 424.2 191.3C423.2 192.9 421.6 194.9 420.5 195.4C419.3 196 418.2 195.5 417.2 194.5C416.2 193.5 415.1 191.2 414.4 189.4C413.8 187.6 413.4 185.8 413.3 183.8C413.2 181.8 413.5 179.5 413.9 177.3C414.4 175.1 415.4 172.5 416.3 170.8C417.1 169.1 418.1 167.2 419.1 166.9Z" fill="#1f77b4"/>
<path d="M419.9 181.2h0M420.4 188.4h0M426 185h0M417.6 182.1h0M415.2 174.5h0M421.7 187.5h0M415.8 174.2h0M417.5 183.8h0M426.7 187.3h0M426 189.3h0M423 175.4h0M420.1 191.4h0M426.4 180.9h0M423.5 174.3h0M423.1 171.8h0M415.9 194.7h0M427.5 180.2h0M421.9 183.8h0M424.8 189.5h0M420.3 172.8h0M417.8 180.1h0M418.7 169.1h0M417.6 171.6h0M420.4 178.4h0M426.5 176.8h0M423.2 180.1h0M416.3 188.2h0M421.2 174h0M420.8 183.7h0M413.8 191.1h0M416.8 182.1h0M417.3 194.9h0M423.9 187h0M422 186.6h0M419.7 171.6h0M421.2 171.4h0M423 176h0M418.7 185.1h0M415.8 170.7h0M415.7 174.1h0M419.4 181.9h0M421.6 168h0M415.1 181.1h0M423.4 180.2h0M417.4 181.3h0M417.7 172.3h0M419.9 170.8h0M418.9 190.2h0M423.8 187.5h0M424.6 170.1h0M421.6 190.7h0M425.8 187.8h0M418.3 190.2h0M418 172.2h0M421.1 176.4h0M423.6 178.4h0M414.7 186.4h0M416 178.2h0M416.8 190.3h0M419.5 184h0M425.1 183.2h0M421.1 188.8h0M427.2 186.7h0M425.4 177.5h0M424.3 172.7h0M413.8 176.2h0M415.4 191.2h0M423.3 171.9h0M416.1 190.8h0M419.3 174.6h0M418.5 166.9h0M424.9 187.6h0M420.7 195.6h0M416.6 173.6h0" stroke="#1f77b4" stroke-width="2.6" stroke-linecap="round" stroke-opacity="0.45"/>
<path d="M424.9 186.3h0M425.2 178.4h0M416.4 181.5h0M425.2 188.2h0M423.6 175.7h0M416.8 191.7h0M424.4 192.1h0M423 180.2h0M426.7 182.7h0M419.8 179.3h0M415.4 186.3h0M412.1 188.8h0M416.4 192.9h0M427.5 181h0M413.5 183.1h0M421.6 181h0M421.3 188.6h0M422.7 192.6h0M422.2 172.4h0M418.6 166.7h0M420.7 179.4h0M421.3 185.3h0M416 190.9h0M418.4 184.1h0M417.9 170.5h0M422.4 190.3h0M416.4 188.2h0M419.5 193.7h0M416.5 192.6h0M420.2 193.8h0M418.6 183h0M416.5 196.3h0M424.9 184h0M415 184.4h0M424.2 174.6h0M416.8 185.1h0M415.5 175.6h0M424.8 182.5h0M425.5 189.1h0M415.9 179.9h0M426.5 178.5h0M422.9 194h0M422.9 180.4h0M418.8 175.9h0M416.5 181.7h0M416.7 184.2h0M422.5 173.2h0M414.6 185.5h0M421.7 170.2h0M425.4 175.3h0M425.4 177.4h0M416.4 184.6h0M418.2 168.8h0M423.7 187.8h0M425.6 180.9h0M422.6 167.8h0M419.2 170.8h0M417.5 185.8h0M424.4 191.1h0M419.6 195.1h0M419.6 191.2h0M420.7 191.4h0M417.8 183.1h0M419.5 172.5h0M415.4 178.1h0M424.3 186.1h0M424.1 179.6h0M426 186.7h0M425.7 171.8h0M415.8 189.7h0M420.3 181.3h0M424.2 190.8h0M420.5 187.3h0" stroke="#1f77b4" stroke-width="2.6" stroke-linecap="round" stroke-opacity="0.45"/>
<path d="M424.1 177.1h0M419.5 196.2h0M415.5 182.5h0M416.7 167.7h0M420.3 168.4h0M420.8 171.8h0M416.8 187.2h0M420.8 175.7h0M414.1 185h0M415.3 174.9h0M414.6 188.8h0M420 167.8h0M419.5 177.7h0M419.8 185.2h0M413.5 179.4h0M426.4 184.2h0M416.8 173.6h0M421.8 170.6h0M424 180.3h0M421 172.6h0M423.8 177.5h0M418.9 173.7h0M424.9 185h0M421.9 189.1h0M416.1 181.5h0M415.3 176.4h0M420.9 183.3h0M424.2 175.8h0M419.1 182.7h0M416.6 180.4h0M417.5 187.3h0M417.1 179.3h0M418.9 166.9h0M424 189.6h0M425.1 172.2h0M424.4 187.7h0M422.9 194.1h0M420.3 193h0M415.5 188.7h0M420.3 174.8h0M417.6 190.9h0M420.5 166.4h0M417.8 190h0M415.6 183.4h0M422.9 175.3h0M418.3 184.4h0M423.5 170.6h0M415.6 189.6h0M424.3 193.8h0M418.9 193.1h0M419.2 169h0M422.1 185.2h0M420.7 170.5h0M415 188.9h0M418.5 174.1h0M422.4 188.9h0M424.3 177.1h0M420.8 173.5h0M420.5 188.9h0M419.6 189.5h0M415.9 187.8h0M419.8 181.9h0M421.6 175.5h0M420.4 167.4h0M425 185h0M421.7 176.6h0M415.7 182.9h0M421.2 186h0M422.6 177.4h0M414.5 181.9h0M415 174.7h0M417.3 187.5h0M417.8 188.4h0" stroke="#1f77b4" stroke-width="2.6" stroke-linecap="round" stroke-opacity="0.45"/>
<path d="M403.6 187.6C403.9 186.6 404.8 185.4 405.5 185C406.3 184.6 407.7 184.6 408.4 185.2C409.1 185.8 409.6 187.5 409.6 188.5C409.6 189.5 409.1 190.8 408.4 191.4C407.7 191.9 406.3 192 405.5 191.8C404.8 191.7 404.2 191.1 403.9 190.4C403.6 189.7 403.4 188.5 403.6 187.6Z" fill="#ff7f0e"/>
<path d="M408.6 185h0M404.2 191.4h0M409.3 189.7h0M405.5 191.1h0M404.5 185.2h0M407.9 187.5h0M406.1 190.2h0M407.3 190.6h0M404.2 186.6h0M408.6 185.2h0M405.3 185h0M409.4 186.8h0M405.6 189.3h0M407.3 185.4h0M406.3 187.5h0" stroke="#ff7f0e" stroke-width="1.8" stroke-linecap="round" stroke-opacity="0.6"/>
<path d="M407.8 188h0M403.6 189.1h0M407.9 189.4h0M404.4 190.3h0M405.6 189h0M404.9 187.8h0M405.5 189h0M405.4 186h0M409.2 188.6h0M407.6 187.1h0M407.7 186.7h0M406.6 191h0M406.7 191.1h0M406.7 188.3h0M409.7 189h0" stroke="#ff7f0e" stroke-width="1.8" stroke-linecap="round" stroke-opacity="0.6"/>
<path d="M394.4 192.6h0M396.7 193.5h0M403.2 192.2h0M400.3 197.8h0M399 187.5h0M400.2 189.1h0M397.7 190.5h0M403.8 194.5h0M397.5 200.9h0M400 200.1h0M395.6 187.8h0M398.1 191.4h0M394.4 197.7h0M397.2 195h0M396.1 197.6h0M396.5 197.9h0M402.6 191.9h0M394.8 189.1h0M398.2 191.5h0M399.3 195.3h0" stroke="#2ca02c" stroke-width="2.6" stroke-linecap="round" stroke-opacity="0.25"/>
<path d="M395.5 194.8h0M397.7 198.8h0M400.4 190.4h0M396.7 201h0M389.9 193.9h0M390.2 192.9h0M390.2 192.2h0M400.7 197.6h0M402.9 194.8h0M389.5 196.9h0M395.5 187.9h0M394 190.3h0M396 189h0M393.4 196.8h0M398.9 188.1h0M392.5 192.5h0M392 188h0M396.4 190.8h0M395 201.7h0M402.3 188.5h0" stroke="#2ca02c" stroke-width="2.6" stroke-linecap="round" stroke-opacity="0.25"/>
<path d="M395.3 199.5h0M399.6 187h0M394.1 191.5h0M388 193h0M392.1 189.3h0M396.9 198.8h0M390.8 198.9h0M402.8 196.3h0M402.6 196.9h0M397.9 200.4h0M392.5 193.5h0M397.4 191.1h0M394 196.5h0M398.8 198.6h0M396.5 193.7h0M397.4 194h0M400.7 198.8h0M391.6 187.8h0M390 196.3h0M401.7 200.3h0" stroke="#2ca02c" stroke-width="2.6" stroke-linecap="round" stroke-opacity="0.25"/>
<path d="M391.5 190C391.9 189 393.1 188.2 394.1 187.7C395.2 187.3 396.6 187.3 397.9 187.4C399.2 187.4 401 187.7 402 188.1C403 188.5 403.8 189 403.9 190C404 190.9 403.3 192.5 402.8 193.7C402.2 194.9 401.3 196.1 400.5 197.1C399.8 198.1 398.9 199.4 398.3 199.7C397.6 200 397.1 199.6 396.4 199C395.6 198.4 394.5 196.9 393.8 196C393 195 392.3 194.4 391.9 193.4C391.5 192.4 391.1 190.9 391.5 190Z" fill="#2ca02c"/>
<path d="M401.4 184.8h0M399.8 198.5h0M390.1 191.2h0M396.3 198.3h0M396.5 187.5h0M398.8 189.9h0M393.9 198h0M397.2 189.8h0M393.3 188.3h0M394.1 187.3h0M396.1 195.2h0M398.3 194.8h0M400.7 189h0M401.7 197.2h0M396.8 197.8h0M401.8 190.4h0M397 190.7h0M394 195.7h0M397.2 185h0M400.6 188.6h0M394.1 195.6h0M395.1 195.1h0M400.9 191.3h0M392.3 193.6h0M400 190.7h0M401.6 191.6h0M395.8 194h0M391.1 191.2h0M398.1 187.6h0M402.4 186.8h0M391.9 189.6h0M401 194.6h0M401.9 191.6h0M399.8 192h0M392.7 187.2h0M402.9 194h0M389.8 191.2h0M392.7 194.4h0M395.7 189.4h0M396.4 193.7h0M397.9 199.4h0M399.8 189.6h0M394.3 195.4h0M390.1 188.7h0M390.4 188.7h0M398.3 196.4h0M397.9 198.9h0M392.9 198.2h0M396.9 199.5h0M401.3 196.3h0M400.9 199.2h0M402.7 189.6h0M403.7 189.7h0M394.7 193.8h0M395.1 190.4h0M398.3 190h0M396.7 199.1h0" stroke="#2ca02c" stroke-width="2.4" stroke-linecap="round" stroke-opacity="0.45"/>
<path d="M395.8 196h0M402.4 194.3h0M393.9 197h0M394.3 188.7h0M396.6 193.8h0M403 192.9h0M398.4 188.9h0M401.8 193h0M395.7 192.9h0M396.8 194.9h0M395.2 197.3h0M393 197h0M403.5 194.2h0M400.9 191.1h0M399.4 199.1h0M393.8 193.7h0M400.2 189.6h0M401.1 197.7h0M392.1 187.4h0M402.9 195.7h0M404.8 191.5h0M401.8 191.9h0M398.4 192.2h0M393.3 192.7h0M397.5 199.3h0M400.4 190.6h0M401.9 195.2h0M394.9 190.3h0M394.5 186.4h0M396.5 190.1h0M398.4 189.8h0M391.9 195.5h0M403 190.9h0M396.9 196.9h0M402.1 194h0M402.9 190h0M393 189.6h0M392.7 187.5h0M389.6 190h0M393.7 193h0M403.8 190.3h0M389.9 194.2h0M396.5 192.3h0M401.4 185.4h0M398.6 198.2h0M403.3 190.5h0M395.3 199.4h0M399.6 194h0M401.5 195.5h0M405 190.5h0M401.3 191.2h0M405.5 190.3h0M406 194.4h0M390.8 192.3h0M400.2 193.7h0M399.4 188.7h0M398.2 199.7h0" stroke="#2ca02c" stroke-width="2.4" stroke-linecap="round" stroke-opacity="0.45"/>
<path d="M403.1 190.9h0M405.5 190.3h0M397.4 199.8h0M402.4 185.5h0M397.8 198.4h0M398.3 193.8h0M395.3 196h0M392.9 191.9h0M400.4 194.5h0M400.1 198.1h0M402.3 189.8h0M390 193.5h0M402.1 191.3h0M400.9 196h0M399.9 194.5h0M391.9 195.5h0M392.1 191.2h0M394.2 194h0M393.2 189.9h0M391 189.5h0M405 191.3h0M398.9 197.5h0M399.2 196.5h0M398.6 192.9h0M404.7 188.1h0M389.6 190.8h0M391.4 193.4h0M400.5 198.3h0M403.8 189.5h0M392.8 194.9h0M398.1 197.3h0M399.4 199.9h0M396.6 197.5h0M396.3 200.4h0M395.6 188.2h0M401.7 196.4h0M396.8 195.4h0M398.6 198.1h0M391.5 194.3h0M391.4 189h0M403.1 192.4h0M398.2 199.7h0M404.9 191.3h0M388.9 189.3h0M402.9 195.8h0M398.2 194.4h0M398.4 200.3h0M397.4 201.1h0M397 188.8h0M398.6 194.4h0M395.9 188.5h0M397.5 193.6h0M403.6 194.2h0M401.2 191.5h0M393.6 198.8h0M393.2 193.7h0" stroke="#2ca02c" stroke-width="2.4" stroke-linecap="round" stroke-opacity="0.45"/>
<rect x="368.3" y="148.3" width="78.3" height="79" fill="none" stroke="#444" stroke-width="0.9"/>
<g stroke="#444" stroke-width="0.9"><line x1="380.3" y1="227.3" x2="380.3" y2="225.8"/><line x1="394.4" y1="227.3" x2="394.4" y2="225.8"/><line x1="408" y1="227.3" x2="408" y2="225.8"/><line x1="421.5" y1="227.3" x2="421.5" y2="225.8"/><line x1="435.3" y1="227.3" x2="435.3" y2="225.8"/><line x1="368.3" y1="154.6" x2="369.8" y2="154.6"/><line x1="368.3" y1="163.8" x2="369.8" y2="163.8"/><line x1="368.3" y1="173" x2="369.8" y2="173"/><line x1="368.3" y1="182.2" x2="369.8" y2="182.2"/><line x1="368.3" y1="191.4" x2="369.8" y2="191.4"/><line x1="368.3" y1="200.6" x2="369.8" y2="200.6"/><line x1="368.3" y1="210.5" x2="369.8" y2="210.5"/><line x1="368.3" y1="219.8" x2="369.8" y2="219.8"/></g>

<text x="54.6" y="31.8" class="t" textLength="56.6" lengthAdjust="spacingAndGlyphs">UMAP on EDS</text>
<text x="154.2" y="31" class="t" textLength="76.3" lengthAdjust="spacingAndGlyphs">UMAP on 4D-STEM</text>
<text x="261.8" y="31" class="t" textLength="70.6" lengthAdjust="spacingAndGlyphs">UMAP on merged</text>
<text x="372.8" y="31" class="t" textLength="68" lengthAdjust="spacingAndGlyphs">VAE on 4D-STEM</text>
<text x="0.6" y="81.1" class="t" textLength="32.5" lengthAdjust="spacingAndGlyphs">Heusler</text>
<text x="0.1" y="184" class="t" textLength="39.6" lengthAdjust="spacingAndGlyphs">Au-Al2Cu</text>
<text x="37.3" y="49.8" class="l" style="font-size:11px">a</text>
<text x="147.2" y="48" class="l" style="font-size:9.8px;stroke:#111;stroke-width:0.1px" textLength="6.6" lengthAdjust="spacingAndGlyphs">b</text>
<text x="255.9" y="50.9" class="l" style="font-size:12.3px;stroke:#111;stroke-width:0.12px">c</text>
<text x="355.4" y="50.3" class="l" style="font-size:11px">d</text>
<text x="36.8" y="150" class="l" style="font-size:11px">e</text>
<text x="146.2" y="152.7" class="l" style="font-size:11.4px">f</text>
<text x="254.6" y="153" class="l" style="font-family:'Liberation Serif',serif;font-size:12.4px;stroke:#111;stroke-width:0.2px">g</text>
<text x="356.2" y="155.8" class="l" style="font-size:10.5px">h</text>

</svg>
</body></html>
